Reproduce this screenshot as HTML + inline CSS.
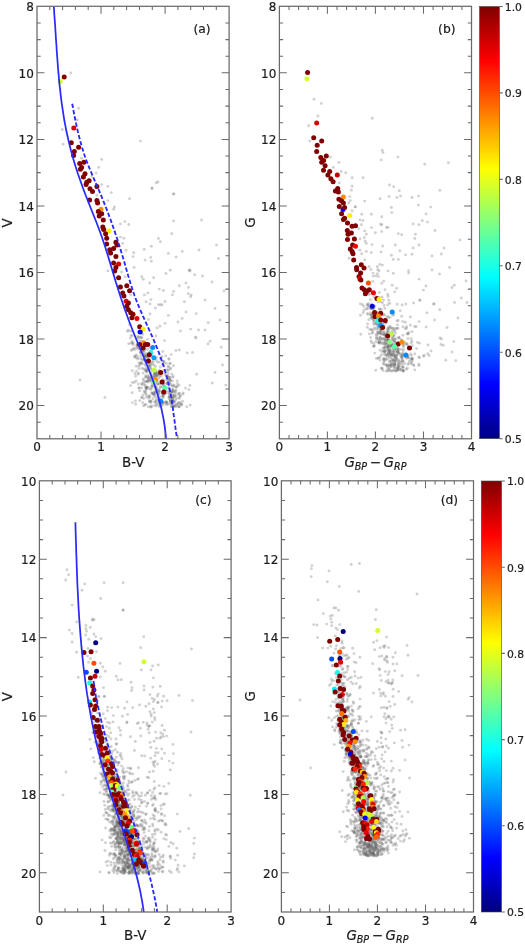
<!DOCTYPE html>
<html lang="en"><head><meta charset="utf-8"><title>Colour-magnitude diagrams</title>
<style>html,body{margin:0;padding:0;background:#fff}svg{display:block}text{font-family:"DejaVu Sans","Liberation Sans",sans-serif;stroke:#1c1c1c;stroke-width:.2px}</style></head><body>
<svg width="525" height="946" viewBox="0 0 525 946">
<rect width="525" height="946" fill="#fff"/>
<g id="panel-a">
<g fill="#6c6c6c" fill-opacity="0.31">
<circle cx="70.7" cy="73" r="1.45"/><circle cx="78.5" cy="108.2" r="1.45"/><circle cx="77.4" cy="120" r="1.45"/><circle cx="62.3" cy="129.5" r="1.45"/><circle cx="63.1" cy="144.2" r="1.45"/><circle cx="140.5" cy="141.1" r="1.45"/><circle cx="98.7" cy="167.4" r="1.45"/><circle cx="96" cy="173.1" r="1.45"/><circle cx="91.9" cy="176.1" r="1.45"/><circle cx="101.7" cy="184.6" r="1.45"/><circle cx="107.9" cy="186.4" r="1.45"/><circle cx="111.3" cy="192.6" r="1.45"/><circle cx="96.9" cy="195.3" r="1.45"/><circle cx="129.6" cy="198.7" r="1.45"/><circle cx="107.9" cy="200.6" r="1.45"/><circle cx="156.3" cy="182.7" r="1.45"/><circle cx="152" cy="188.5" r="1.45"/><circle cx="114.3" cy="207" r="1.45"/><circle cx="113.6" cy="209.3" r="1.45"/><circle cx="125" cy="221.6" r="1.45"/><circle cx="120.4" cy="223.9" r="1.45"/><circle cx="114.7" cy="231.4" r="1.45"/><circle cx="120.4" cy="237.1" r="1.45"/><circle cx="123.9" cy="238.3" r="1.45"/><circle cx="151.3" cy="246.3" r="1.45"/><circle cx="126.1" cy="250.2" r="1.45"/><circle cx="133.7" cy="252.7" r="1.45"/><circle cx="133" cy="256.6" r="1.45"/><circle cx="101.7" cy="159.4" r="1.45"/><circle cx="81.6" cy="158.3" r="1.45"/><circle cx="160.4" cy="241.8" r="1.45"/><circle cx="145.1" cy="260.1" r="1.45"/><circle cx="170.3" cy="270.2" r="1.45"/><circle cx="189" cy="270.2" r="1.45"/><circle cx="194.7" cy="274.7" r="1.45"/><circle cx="153.6" cy="277.7" r="1.45"/><circle cx="143.3" cy="279.3" r="1.45"/><circle cx="186" cy="283" r="1.45"/><circle cx="149.7" cy="283" r="1.45"/><circle cx="159.3" cy="289.1" r="1.45"/><circle cx="172.5" cy="294.9" r="1.45"/><circle cx="188.3" cy="293.7" r="1.45"/><circle cx="190.6" cy="296.7" r="1.45"/><circle cx="147.9" cy="293" r="1.45"/><circle cx="144.4" cy="294.9" r="1.45"/><circle cx="184.4" cy="301.7" r="1.45"/><circle cx="146" cy="301.7" r="1.45"/><circle cx="150.1" cy="304" r="1.45"/><circle cx="162" cy="304.7" r="1.45"/><circle cx="155.4" cy="307.9" r="1.45"/><circle cx="196.3" cy="313.6" r="1.45"/><circle cx="168.4" cy="315.4" r="1.45"/><circle cx="182.1" cy="318.4" r="1.45"/><circle cx="148.5" cy="319.5" r="1.45"/><circle cx="165" cy="323.4" r="1.45"/><circle cx="190.6" cy="329.1" r="1.45"/><circle cx="180.5" cy="331" r="1.45"/><circle cx="157" cy="328" r="1.45"/><circle cx="195.4" cy="337.1" r="1.45"/><circle cx="164.5" cy="340.6" r="1.45"/><circle cx="155.9" cy="336" r="1.45"/><circle cx="129.6" cy="324.6" r="1.45"/><circle cx="128.4" cy="330.3" r="1.45"/><circle cx="122.7" cy="243.4" r="1.45"/><circle cx="107.9" cy="270.9" r="1.45"/><circle cx="121.6" cy="272" r="1.45"/><circle cx="125" cy="276.6" r="1.45"/><circle cx="134.1" cy="267.4" r="1.45"/><circle cx="130.7" cy="294.9" r="1.45"/><circle cx="158" cy="182" r="1.45"/><circle cx="152" cy="188" r="1.45"/><circle cx="173.2" cy="194" r="1.45"/><circle cx="174" cy="194" r="1.45"/><circle cx="201.5" cy="220" r="1.45"/><circle cx="218.5" cy="258.5" r="1.45"/><circle cx="216.5" cy="245" r="1.45"/><circle cx="190" cy="270" r="1.45"/><circle cx="202.5" cy="276" r="1.45"/><circle cx="188.5" cy="287.5" r="1.45"/><circle cx="205" cy="300" r="1.45"/><circle cx="173.5" cy="291.5" r="1.45"/><circle cx="165" cy="301.5" r="1.45"/><circle cx="150" cy="314" r="1.45"/><circle cx="215" cy="308.5" r="1.45"/><circle cx="220" cy="320" r="1.45"/><circle cx="192.5" cy="352.5" r="1.45"/><circle cx="198.5" cy="330" r="1.45"/><circle cx="205" cy="330" r="1.45"/><circle cx="222.5" cy="365" r="1.45"/><circle cx="215" cy="372.5" r="1.45"/><circle cx="105" cy="397.5" r="1.45"/><circle cx="80" cy="380" r="1.45"/><circle cx="196" cy="338" r="1.45"/><circle cx="208" cy="344" r="1.45"/><circle cx="186" cy="312" r="1.45"/><circle cx="178" cy="322" r="1.45"/><circle cx="212" cy="282" r="1.45"/><circle cx="224" cy="291" r="1.45"/><circle cx="199" cy="250" r="1.45"/><circle cx="135.6" cy="376.3" r="1.45"/><circle cx="146" cy="377.2" r="1.45"/><circle cx="148.9" cy="379.9" r="1.45"/><circle cx="150.7" cy="380.2" r="1.45"/><circle cx="156.5" cy="387.4" r="1.45"/><circle cx="145.7" cy="365.6" r="1.45"/><circle cx="144.1" cy="345.2" r="1.45"/><circle cx="130.3" cy="338.1" r="1.45"/><circle cx="174" cy="406.1" r="1.45"/><circle cx="152.5" cy="386.5" r="1.45"/><circle cx="151.6" cy="352.7" r="1.45"/><circle cx="139.7" cy="340.9" r="1.45"/><circle cx="145.3" cy="355.9" r="1.45"/><circle cx="154.6" cy="377.1" r="1.45"/><circle cx="157.4" cy="375.5" r="1.45"/><circle cx="146.8" cy="388" r="1.45"/><circle cx="148.5" cy="379.4" r="1.45"/><circle cx="141.5" cy="363.6" r="1.45"/><circle cx="179.2" cy="406.9" r="1.45"/><circle cx="156.1" cy="391.8" r="1.45"/><circle cx="149.9" cy="366.5" r="1.45"/><circle cx="144.3" cy="342.5" r="1.45"/><circle cx="143" cy="395" r="1.45"/><circle cx="159.6" cy="371.8" r="1.45"/><circle cx="159.9" cy="404.9" r="1.45"/><circle cx="145.8" cy="357.7" r="1.45"/><circle cx="132.5" cy="402.6" r="1.45"/><circle cx="155.2" cy="372.6" r="1.45"/><circle cx="133.1" cy="342.9" r="1.45"/><circle cx="139" cy="362.9" r="1.45"/><circle cx="133.3" cy="344.7" r="1.45"/><circle cx="177.8" cy="394.6" r="1.45"/><circle cx="142.2" cy="348.5" r="1.45"/><circle cx="141.6" cy="341" r="1.45"/><circle cx="163" cy="396.7" r="1.45"/><circle cx="161.4" cy="376" r="1.45"/><circle cx="144.9" cy="356" r="1.45"/><circle cx="151.1" cy="388.2" r="1.45"/><circle cx="138.5" cy="348.3" r="1.45"/><circle cx="150.2" cy="362.9" r="1.45"/><circle cx="162.6" cy="405.6" r="1.45"/><circle cx="151.1" cy="401.3" r="1.45"/><circle cx="135.7" cy="357.8" r="1.45"/><circle cx="166.2" cy="388.1" r="1.45"/><circle cx="145.4" cy="346.4" r="1.45"/><circle cx="147.2" cy="362" r="1.45"/><circle cx="153.8" cy="395.4" r="1.45"/><circle cx="144.1" cy="342.9" r="1.45"/><circle cx="137.1" cy="345.1" r="1.45"/><circle cx="151.8" cy="385.7" r="1.45"/><circle cx="132.3" cy="370.7" r="1.45"/><circle cx="158.9" cy="378.4" r="1.45"/><circle cx="158.1" cy="384.1" r="1.45"/><circle cx="140.8" cy="352.4" r="1.45"/><circle cx="162.2" cy="402.5" r="1.45"/><circle cx="140.7" cy="355.9" r="1.45"/><circle cx="162.6" cy="393.6" r="1.45"/><circle cx="157.2" cy="404.6" r="1.45"/><circle cx="150.8" cy="401.1" r="1.45"/><circle cx="137.8" cy="346.8" r="1.45"/><circle cx="141.4" cy="337.5" r="1.45"/><circle cx="155" cy="391.7" r="1.45"/><circle cx="151.7" cy="361.8" r="1.45"/><circle cx="139.9" cy="364.8" r="1.45"/><circle cx="144.2" cy="354.5" r="1.45"/><circle cx="144.1" cy="359.4" r="1.45"/><circle cx="161.2" cy="383.2" r="1.45"/><circle cx="140.4" cy="363.8" r="1.45"/><circle cx="159.8" cy="402.9" r="1.45"/><circle cx="149.1" cy="362.9" r="1.45"/><circle cx="156.8" cy="375.9" r="1.45"/><circle cx="152.2" cy="370.5" r="1.45"/><circle cx="159.9" cy="383.9" r="1.45"/><circle cx="165.7" cy="401.6" r="1.45"/><circle cx="151.5" cy="406" r="1.45"/><circle cx="143.9" cy="384.7" r="1.45"/><circle cx="144.3" cy="350.9" r="1.45"/><circle cx="159.6" cy="402.6" r="1.45"/><circle cx="158.3" cy="391.4" r="1.45"/><circle cx="155.2" cy="387.7" r="1.45"/><circle cx="152.1" cy="378.3" r="1.45"/><circle cx="151.4" cy="407" r="1.45"/><circle cx="131.1" cy="343.2" r="1.45"/><circle cx="154.5" cy="402" r="1.45"/><circle cx="152.4" cy="393.5" r="1.45"/><circle cx="142.7" cy="402.8" r="1.45"/><circle cx="143.7" cy="369.3" r="1.45"/><circle cx="139.8" cy="400.6" r="1.45"/><circle cx="155.6" cy="373.9" r="1.45"/><circle cx="138.2" cy="384" r="1.45"/><circle cx="146.9" cy="387.1" r="1.45"/><circle cx="162.8" cy="386.1" r="1.45"/><circle cx="128.7" cy="343.8" r="1.45"/><circle cx="135.5" cy="401" r="1.45"/><circle cx="145.6" cy="393" r="1.45"/><circle cx="163.6" cy="384.5" r="1.45"/><circle cx="153.9" cy="375.5" r="1.45"/><circle cx="153.9" cy="394.2" r="1.45"/><circle cx="132.2" cy="335.8" r="1.45"/><circle cx="142.1" cy="359.6" r="1.45"/><circle cx="144.1" cy="391.3" r="1.45"/><circle cx="159.5" cy="403.1" r="1.45"/><circle cx="153.3" cy="361.7" r="1.45"/><circle cx="156.7" cy="390.2" r="1.45"/><circle cx="152.7" cy="357.1" r="1.45"/><circle cx="172.7" cy="389.1" r="1.45"/><circle cx="157.6" cy="375.6" r="1.45"/><circle cx="151.1" cy="389.5" r="1.45"/><circle cx="134.7" cy="356.7" r="1.45"/><circle cx="166.6" cy="402.8" r="1.45"/><circle cx="149.3" cy="401" r="1.45"/><circle cx="155.5" cy="366.6" r="1.45"/><circle cx="131.3" cy="350.5" r="1.45"/><circle cx="158.8" cy="399.4" r="1.45"/><circle cx="163.5" cy="392" r="1.45"/><circle cx="142.8" cy="353.9" r="1.45"/><circle cx="151.5" cy="376.2" r="1.45"/><circle cx="156.9" cy="373.7" r="1.45"/><circle cx="147.9" cy="387.1" r="1.45"/><circle cx="158.6" cy="398.9" r="1.45"/><circle cx="156.2" cy="406.1" r="1.45"/><circle cx="137.7" cy="336.2" r="1.45"/><circle cx="173.2" cy="400.7" r="1.45"/><circle cx="157.9" cy="383.8" r="1.45"/><circle cx="149.3" cy="366" r="1.45"/><circle cx="141.8" cy="350.5" r="1.45"/><circle cx="167.2" cy="376.5" r="1.45"/><circle cx="148.9" cy="360.2" r="1.45"/><circle cx="151.6" cy="351" r="1.45"/><circle cx="155.5" cy="375.9" r="1.45"/><circle cx="146.6" cy="387.4" r="1.45"/><circle cx="144.9" cy="405" r="1.45"/><circle cx="159.4" cy="390.5" r="1.45"/><circle cx="151.7" cy="354.8" r="1.45"/><circle cx="127.5" cy="331.3" r="1.45"/><circle cx="146.6" cy="354.9" r="1.45"/><circle cx="141.8" cy="363.1" r="1.45"/><circle cx="164.1" cy="380.7" r="1.45"/><circle cx="155.6" cy="386.5" r="1.45"/><circle cx="148.4" cy="396.4" r="1.45"/><circle cx="178.3" cy="402.4" r="1.45"/><circle cx="167.7" cy="392.6" r="1.45"/><circle cx="134.5" cy="349.8" r="1.45"/><circle cx="163.1" cy="402.5" r="1.45"/><circle cx="136.6" cy="371.1" r="1.45"/><circle cx="149.8" cy="396.7" r="1.45"/><circle cx="145.7" cy="404.3" r="1.45"/><circle cx="148" cy="357.3" r="1.45"/><circle cx="162.2" cy="392.6" r="1.45"/><circle cx="145" cy="392.4" r="1.45"/><circle cx="161.3" cy="358.1" r="1.45"/><circle cx="143.5" cy="405.9" r="1.45"/><circle cx="155.7" cy="381.8" r="1.45"/><circle cx="150.9" cy="402.5" r="1.45"/><circle cx="156.2" cy="399.8" r="1.45"/><circle cx="154.8" cy="375.6" r="1.45"/><circle cx="155.2" cy="382.6" r="1.45"/><circle cx="130.9" cy="335.6" r="1.45"/><circle cx="173.3" cy="397.3" r="1.45"/><circle cx="149.1" cy="354.3" r="1.45"/><circle cx="150.6" cy="368" r="1.45"/><circle cx="140.2" cy="351.8" r="1.45"/><circle cx="150.9" cy="380.5" r="1.45"/><circle cx="139.6" cy="390.8" r="1.45"/><circle cx="135.6" cy="404.3" r="1.45"/><circle cx="141.3" cy="344.6" r="1.45"/><circle cx="140.9" cy="358.8" r="1.45"/><circle cx="155.6" cy="393" r="1.45"/><circle cx="139" cy="387.9" r="1.45"/><circle cx="152" cy="383.2" r="1.45"/><circle cx="138.8" cy="366.2" r="1.45"/><circle cx="171.7" cy="402.1" r="1.45"/><circle cx="156.3" cy="357.6" r="1.45"/><circle cx="136.2" cy="381" r="1.45"/><circle cx="157.7" cy="384" r="1.45"/><circle cx="162.9" cy="379.6" r="1.45"/><circle cx="177.4" cy="385.9" r="1.45"/><circle cx="157.3" cy="380.5" r="1.45"/><circle cx="154.4" cy="372.8" r="1.45"/><circle cx="143.2" cy="378.9" r="1.45"/><circle cx="166.5" cy="390.9" r="1.45"/><circle cx="155.5" cy="373.7" r="1.45"/><circle cx="166.6" cy="404.9" r="1.45"/><circle cx="149.8" cy="377.7" r="1.45"/><circle cx="132.3" cy="349.5" r="1.45"/><circle cx="166.3" cy="402.1" r="1.45"/><circle cx="150.7" cy="377.9" r="1.45"/><circle cx="160.4" cy="386.7" r="1.45"/><circle cx="171" cy="403.3" r="1.45"/><circle cx="142.8" cy="334.4" r="1.45"/><circle cx="146.8" cy="356.3" r="1.45"/><circle cx="160.3" cy="367" r="1.45"/><circle cx="147.6" cy="369.5" r="1.45"/><circle cx="154" cy="393.1" r="1.45"/><circle cx="137.8" cy="349" r="1.45"/><circle cx="145.2" cy="356.6" r="1.45"/><circle cx="146.4" cy="381.4" r="1.45"/><circle cx="154.5" cy="373.7" r="1.45"/><circle cx="156.8" cy="381.3" r="1.45"/><circle cx="160.4" cy="387.5" r="1.45"/><circle cx="138.9" cy="387.9" r="1.45"/><circle cx="152.1" cy="386.3" r="1.45"/><circle cx="160.2" cy="399.8" r="1.45"/><circle cx="173.2" cy="397.4" r="1.45"/><circle cx="155.7" cy="402.2" r="1.45"/><circle cx="167.1" cy="403.2" r="1.45"/><circle cx="160.3" cy="358.5" r="1.45"/><circle cx="142.8" cy="350.2" r="1.45"/><circle cx="146.2" cy="360.3" r="1.45"/><circle cx="136.7" cy="346" r="1.45"/><circle cx="143.5" cy="398.5" r="1.45"/><circle cx="147.6" cy="349.4" r="1.45"/><circle cx="150.8" cy="372.9" r="1.45"/><circle cx="144.5" cy="356.9" r="1.45"/><circle cx="176.1" cy="390.4" r="1.45"/><circle cx="133.7" cy="348.2" r="1.45"/><circle cx="153.8" cy="379.8" r="1.45"/><circle cx="145.8" cy="390.6" r="1.45"/><circle cx="148" cy="355.8" r="1.45"/><circle cx="138.6" cy="337.3" r="1.45"/><circle cx="143.4" cy="382.7" r="1.45"/><circle cx="142.7" cy="351.6" r="1.45"/><circle cx="148.6" cy="355.4" r="1.45"/><circle cx="178.3" cy="406.5" r="1.45"/><circle cx="162.3" cy="403.4" r="1.45"/><circle cx="161.6" cy="404.6" r="1.45"/><circle cx="153.2" cy="377" r="1.45"/><circle cx="145.6" cy="377.3" r="1.45"/><circle cx="143.5" cy="380.4" r="1.45"/><circle cx="138.2" cy="332" r="1.45"/><circle cx="159.7" cy="391.5" r="1.45"/><circle cx="148.2" cy="376.4" r="1.45"/><circle cx="152.1" cy="393.6" r="1.45"/><circle cx="146.6" cy="353.5" r="1.45"/><circle cx="170.7" cy="380.2" r="1.45"/><circle cx="159.7" cy="396.9" r="1.45"/><circle cx="164.6" cy="391.7" r="1.45"/><circle cx="143.1" cy="373.1" r="1.45"/><circle cx="130.6" cy="385.6" r="1.45"/><circle cx="157.2" cy="397.1" r="1.45"/><circle cx="157.3" cy="362" r="1.45"/><circle cx="149.5" cy="395.7" r="1.45"/><circle cx="141.5" cy="397.6" r="1.45"/><circle cx="170.2" cy="401" r="1.45"/><circle cx="158.1" cy="391.1" r="1.45"/><circle cx="138.4" cy="373.1" r="1.45"/><circle cx="164.3" cy="392.7" r="1.45"/><circle cx="155.8" cy="377.4" r="1.45"/><circle cx="130.8" cy="331.3" r="1.45"/><circle cx="165.1" cy="387" r="1.45"/><circle cx="156.2" cy="359.7" r="1.45"/><circle cx="146" cy="368.2" r="1.45"/><circle cx="146.1" cy="389.1" r="1.45"/><circle cx="147" cy="372" r="1.45"/><circle cx="150.3" cy="407" r="1.45"/><circle cx="146.2" cy="394.8" r="1.45"/><circle cx="173.5" cy="406" r="1.45"/><circle cx="158.8" cy="393.5" r="1.45"/><circle cx="145.7" cy="361.8" r="1.45"/><circle cx="146.7" cy="356.4" r="1.45"/><circle cx="155.4" cy="371" r="1.45"/><circle cx="163.4" cy="402.3" r="1.45"/><circle cx="132.4" cy="382.6" r="1.45"/><circle cx="153.4" cy="383.7" r="1.45"/><circle cx="148.3" cy="406.8" r="1.45"/><circle cx="132.2" cy="343.3" r="1.45"/><circle cx="155.1" cy="385.5" r="1.45"/><circle cx="156.5" cy="403.6" r="1.45"/><circle cx="140.2" cy="353" r="1.45"/><circle cx="154" cy="379.2" r="1.45"/><circle cx="174.5" cy="386.3" r="1.45"/><circle cx="158.5" cy="374.2" r="1.45"/><circle cx="147.3" cy="381.1" r="1.45"/><circle cx="144.4" cy="364.2" r="1.45"/><circle cx="149.2" cy="388.8" r="1.45"/><circle cx="154" cy="392.3" r="1.45"/><circle cx="153.9" cy="365" r="1.45"/><circle cx="138.3" cy="338.2" r="1.45"/><circle cx="144.1" cy="352.6" r="1.45"/><circle cx="149.4" cy="401.9" r="1.45"/><circle cx="183.1" cy="394.1" r="1.45"/><circle cx="168.7" cy="404.3" r="1.45"/><circle cx="144.9" cy="342.9" r="1.45"/><circle cx="148.1" cy="378" r="1.45"/><circle cx="160.3" cy="405.7" r="1.45"/><circle cx="171.4" cy="403.9" r="1.45"/><circle cx="132.2" cy="392.7" r="1.45"/><circle cx="163.2" cy="397.7" r="1.45"/><circle cx="164" cy="385.8" r="1.45"/><circle cx="159.8" cy="376.5" r="1.45"/><circle cx="153.4" cy="357.2" r="1.45"/><circle cx="144.9" cy="349.2" r="1.45"/><circle cx="147.9" cy="375.7" r="1.45"/><circle cx="141" cy="362.3" r="1.45"/><circle cx="141.8" cy="384.6" r="1.45"/><circle cx="160.7" cy="381.4" r="1.45"/><circle cx="175.6" cy="406.9" r="1.45"/><circle cx="143.7" cy="360.3" r="1.45"/><circle cx="150.2" cy="348" r="1.45"/><circle cx="145.9" cy="387.1" r="1.45"/><circle cx="148.7" cy="369.8" r="1.45"/><circle cx="167" cy="383.5" r="1.45"/><circle cx="145.3" cy="385.1" r="1.45"/><circle cx="137.1" cy="355.9" r="1.45"/><circle cx="162.5" cy="361.2" r="1.45"/><circle cx="156.1" cy="401" r="1.45"/><circle cx="141.6" cy="337.7" r="1.45"/><circle cx="154.2" cy="374.5" r="1.45"/><circle cx="164" cy="387" r="1.45"/><circle cx="144.1" cy="342.8" r="1.45"/><circle cx="137.4" cy="344.6" r="1.45"/><circle cx="145.7" cy="387.5" r="1.45"/><circle cx="145.5" cy="370.8" r="1.45"/><circle cx="150.6" cy="368.7" r="1.45"/><circle cx="159" cy="393.9" r="1.45"/><circle cx="140.3" cy="348.7" r="1.45"/><circle cx="146.5" cy="397.3" r="1.45"/><circle cx="138.1" cy="358" r="1.45"/><circle cx="151.1" cy="374.4" r="1.45"/><circle cx="164.2" cy="370.5" r="1.45"/><circle cx="163.6" cy="388.8" r="1.45"/><circle cx="153.6" cy="382.5" r="1.45"/><circle cx="165.6" cy="393.9" r="1.45"/><circle cx="146.7" cy="370.6" r="1.45"/><circle cx="142.8" cy="346" r="1.45"/><circle cx="138.8" cy="344.2" r="1.45"/><circle cx="141.7" cy="383.5" r="1.45"/><circle cx="149.7" cy="365.2" r="1.45"/><circle cx="163.2" cy="395.5" r="1.45"/><circle cx="158.8" cy="389.2" r="1.45"/><circle cx="137.3" cy="344" r="1.45"/><circle cx="169.9" cy="391.1" r="1.45"/><circle cx="152.4" cy="364" r="1.45"/><circle cx="163.5" cy="392.8" r="1.45"/><circle cx="159.2" cy="370.3" r="1.45"/><circle cx="163.4" cy="383.8" r="1.45"/><circle cx="179.3" cy="403" r="1.45"/><circle cx="145.7" cy="375.4" r="1.45"/><circle cx="155.1" cy="397" r="1.45"/><circle cx="157.6" cy="372.7" r="1.45"/><circle cx="165.3" cy="403.8" r="1.45"/><circle cx="146.9" cy="370" r="1.45"/><circle cx="145.5" cy="370.3" r="1.45"/><circle cx="156.8" cy="371.9" r="1.45"/><circle cx="134.6" cy="356.4" r="1.45"/><circle cx="148.2" cy="382" r="1.45"/><circle cx="152.8" cy="398.8" r="1.45"/><circle cx="155.1" cy="394.6" r="1.45"/><circle cx="158.4" cy="401.1" r="1.45"/><circle cx="155.2" cy="380.4" r="1.45"/><circle cx="134.3" cy="382.2" r="1.45"/><circle cx="146.4" cy="388.6" r="1.45"/><circle cx="168.7" cy="397.1" r="1.45"/><circle cx="162.2" cy="396.2" r="1.45"/><circle cx="148.7" cy="344.3" r="1.45"/><circle cx="166.8" cy="402" r="1.45"/><circle cx="138.4" cy="344.4" r="1.45"/><circle cx="153.3" cy="393.9" r="1.45"/><circle cx="156" cy="388.5" r="1.45"/><circle cx="163.8" cy="395" r="1.45"/><circle cx="154.4" cy="380.8" r="1.45"/><circle cx="142.4" cy="368.2" r="1.45"/><circle cx="154.4" cy="405.4" r="1.45"/><circle cx="145.4" cy="381.8" r="1.45"/><circle cx="151.6" cy="392.6" r="1.45"/><circle cx="135" cy="373.5" r="1.45"/><circle cx="148.9" cy="398.2" r="1.45"/><circle cx="142" cy="397.2" r="1.45"/><circle cx="176.4" cy="398.6" r="1.45"/><circle cx="141.5" cy="388" r="1.45"/><circle cx="150" cy="381" r="1.45"/><circle cx="138.2" cy="374.2" r="1.45"/><circle cx="159.5" cy="374.2" r="1.45"/><circle cx="173" cy="406.6" r="1.45"/><circle cx="153.2" cy="371" r="1.45"/><circle cx="156.4" cy="374.5" r="1.45"/><circle cx="150.9" cy="364.7" r="1.45"/><circle cx="148.5" cy="366" r="1.45"/><circle cx="135.8" cy="348.1" r="1.45"/><circle cx="135.9" cy="354.9" r="1.45"/><circle cx="132.1" cy="341.3" r="1.45"/><circle cx="162.5" cy="402.5" r="1.45"/><circle cx="140.1" cy="337.1" r="1.45"/><circle cx="149" cy="358.4" r="1.45"/><circle cx="145" cy="360" r="1.45"/><circle cx="137.6" cy="359" r="1.45"/><circle cx="144.3" cy="355.4" r="1.45"/><circle cx="162.8" cy="394.6" r="1.45"/><circle cx="136.3" cy="366.2" r="1.45"/><circle cx="148.5" cy="378.1" r="1.45"/><circle cx="159.3" cy="362.1" r="1.45"/><circle cx="139.2" cy="368.6" r="1.45"/><circle cx="163.3" cy="382.4" r="1.45"/><circle cx="144.3" cy="358.7" r="1.45"/><circle cx="147.6" cy="339.4" r="1.45"/><circle cx="146.5" cy="371.7" r="1.45"/><circle cx="147.2" cy="381.2" r="1.45"/><circle cx="159.2" cy="406.5" r="1.45"/><circle cx="156" cy="389" r="1.45"/><circle cx="153.9" cy="377.7" r="1.45"/><circle cx="169.5" cy="383.1" r="1.45"/><circle cx="179.5" cy="393.3" r="1.45"/><circle cx="166.7" cy="370.6" r="1.45"/><circle cx="170.3" cy="377.1" r="1.45"/><circle cx="180.5" cy="402.8" r="1.45"/><circle cx="171.6" cy="406.8" r="1.45"/><circle cx="169.1" cy="377.5" r="1.45"/><circle cx="170.2" cy="399.4" r="1.45"/><circle cx="162.8" cy="351.5" r="1.45"/><circle cx="182.6" cy="401.2" r="1.45"/><circle cx="162.7" cy="364.4" r="1.45"/><circle cx="173.4" cy="365.8" r="1.45"/><circle cx="185.5" cy="388.1" r="1.45"/><circle cx="171.6" cy="392.5" r="1.45"/><circle cx="174.1" cy="402.4" r="1.45"/><circle cx="179" cy="385.2" r="1.45"/><circle cx="181.9" cy="404.3" r="1.45"/><circle cx="171.7" cy="374.1" r="1.45"/><circle cx="172" cy="390.8" r="1.45"/><circle cx="170.3" cy="401.5" r="1.45"/><circle cx="166.5" cy="380" r="1.45"/><circle cx="168.1" cy="379.7" r="1.45"/><circle cx="168.6" cy="387.5" r="1.45"/><circle cx="175.6" cy="396.4" r="1.45"/><circle cx="168.4" cy="366.6" r="1.45"/><circle cx="175.5" cy="406" r="1.45"/><circle cx="170.3" cy="401.4" r="1.45"/><circle cx="167.1" cy="383.3" r="1.45"/><circle cx="169.6" cy="397.2" r="1.45"/><circle cx="176.6" cy="387.1" r="1.45"/><circle cx="171.2" cy="354.6" r="1.45"/><circle cx="164.8" cy="374" r="1.45"/><circle cx="170" cy="393.7" r="1.45"/><circle cx="174.7" cy="390.6" r="1.45"/><circle cx="169.2" cy="379.3" r="1.45"/><circle cx="174.9" cy="395.6" r="1.45"/><circle cx="168.5" cy="377" r="1.45"/><circle cx="177.2" cy="380.9" r="1.45"/><circle cx="181.4" cy="405.3" r="1.45"/><circle cx="170.3" cy="381.1" r="1.45"/><circle cx="173" cy="401.3" r="1.45"/><circle cx="163.8" cy="365.6" r="1.45"/><circle cx="169.8" cy="396" r="1.45"/><circle cx="170.9" cy="384.5" r="1.45"/><circle cx="172.4" cy="401.7" r="1.45"/><circle cx="166.2" cy="375.2" r="1.45"/><circle cx="168.5" cy="370.6" r="1.45"/><circle cx="166.3" cy="363.5" r="1.45"/><circle cx="178.2" cy="404.5" r="1.45"/><circle cx="172.4" cy="394.9" r="1.45"/><circle cx="172.4" cy="399.3" r="1.45"/><circle cx="172.3" cy="381.1" r="1.45"/><circle cx="174" cy="385" r="1.45"/><circle cx="169.5" cy="396.8" r="1.45"/><circle cx="173.1" cy="406.4" r="1.45"/><circle cx="178.8" cy="393.4" r="1.45"/><circle cx="161.8" cy="356.4" r="1.45"/><circle cx="174.4" cy="395" r="1.45"/><circle cx="168.3" cy="366.6" r="1.45"/><circle cx="175.6" cy="400" r="1.45"/><circle cx="172.9" cy="401.3" r="1.45"/><circle cx="172" cy="399.2" r="1.45"/><circle cx="176.7" cy="403.9" r="1.45"/><circle cx="169.4" cy="388.9" r="1.45"/><circle cx="167.7" cy="369.5" r="1.45"/><circle cx="188.9" cy="389.6" r="1.45"/><circle cx="171.4" cy="397.4" r="1.45"/><circle cx="174.5" cy="405.3" r="1.45"/><circle cx="169.3" cy="394.1" r="1.45"/><circle cx="167.6" cy="376.3" r="1.45"/><circle cx="170.1" cy="392.1" r="1.45"/><circle cx="176.5" cy="404.7" r="1.45"/><circle cx="169.7" cy="382.6" r="1.45"/><circle cx="171.3" cy="406.2" r="1.45"/><circle cx="170.3" cy="369" r="1.45"/><circle cx="173.1" cy="391.5" r="1.45"/><circle cx="169.3" cy="391.5" r="1.45"/><circle cx="186.8" cy="406.8" r="1.45"/><circle cx="172.6" cy="401" r="1.45"/><circle cx="171.9" cy="401.3" r="1.45"/><circle cx="169.6" cy="378.8" r="1.45"/><circle cx="171.2" cy="392" r="1.45"/><circle cx="173.3" cy="401.5" r="1.45"/><circle cx="169.7" cy="363.8" r="1.45"/><circle cx="168.8" cy="358.6" r="1.45"/><circle cx="190.2" cy="405.1" r="1.45"/><circle cx="172.4" cy="395.3" r="1.45"/><circle cx="179.5" cy="398.2" r="1.45"/><circle cx="177.5" cy="383.6" r="1.45"/><circle cx="165.7" cy="355.9" r="1.45"/><circle cx="168" cy="373.5" r="1.45"/><circle cx="167" cy="383.8" r="1.45"/><circle cx="172" cy="391.8" r="1.45"/><circle cx="172.9" cy="377.4" r="1.45"/><circle cx="173.1" cy="391.8" r="1.45"/><circle cx="169" cy="359.4" r="1.45"/><circle cx="180.2" cy="395.8" r="1.45"/><circle cx="183.1" cy="393" r="1.45"/><circle cx="176" cy="387.6" r="1.45"/><circle cx="174.2" cy="396.5" r="1.45"/><circle cx="169.2" cy="398.9" r="1.45"/><circle cx="179.1" cy="406.8" r="1.45"/><circle cx="174.4" cy="401.7" r="1.45"/><circle cx="172.8" cy="386" r="1.45"/><circle cx="175.4" cy="391.7" r="1.45"/><circle cx="172.7" cy="390" r="1.45"/><circle cx="172.1" cy="385.9" r="1.45"/><circle cx="164" cy="361.5" r="1.45"/><circle cx="178.8" cy="397.8" r="1.45"/><circle cx="175.2" cy="392.9" r="1.45"/><circle cx="172.5" cy="398.7" r="1.45"/><circle cx="170.3" cy="363.2" r="1.45"/><circle cx="170.7" cy="368.1" r="1.45"/><circle cx="169.2" cy="384.3" r="1.45"/><circle cx="163.3" cy="361.2" r="1.45"/><circle cx="173.1" cy="376" r="1.45"/><circle cx="169.7" cy="379.7" r="1.45"/><circle cx="164.1" cy="363" r="1.45"/><circle cx="180.9" cy="404.2" r="1.45"/><circle cx="172.2" cy="402.7" r="1.45"/><circle cx="191.2" cy="295.1" r="1.45"/><circle cx="176.1" cy="257.1" r="1.45"/><circle cx="208.2" cy="322.7" r="1.45"/><circle cx="171.7" cy="233.7" r="1.45"/><circle cx="158.4" cy="238.5" r="1.45"/><circle cx="180.6" cy="395.7" r="1.45"/><circle cx="151.3" cy="261.3" r="1.45"/><circle cx="141.7" cy="276.7" r="1.45"/><circle cx="225.8" cy="385.1" r="1.45"/><circle cx="163.4" cy="290.5" r="1.45"/><circle cx="159.9" cy="326.2" r="1.45"/><circle cx="173.5" cy="220.9" r="1.45"/><circle cx="166" cy="273.5" r="1.45"/><circle cx="160.4" cy="304.8" r="1.45"/><circle cx="189.9" cy="271.1" r="1.45"/><circle cx="189.9" cy="385.4" r="1.45"/><circle cx="196.7" cy="374.2" r="1.45"/><circle cx="158.4" cy="304.8" r="1.45"/><circle cx="168.4" cy="253.4" r="1.45"/><circle cx="182.2" cy="251.4" r="1.45"/><circle cx="128.8" cy="224.5" r="1.45"/><circle cx="187.2" cy="352.9" r="1.45"/><circle cx="176" cy="350.5" r="1.45"/><circle cx="221.2" cy="347.2" r="1.45"/><circle cx="150.9" cy="299.6" r="1.45"/><circle cx="150.7" cy="257.4" r="1.45"/><circle cx="179.3" cy="350" r="1.45"/><circle cx="144.2" cy="249.4" r="1.45"/><circle cx="210.1" cy="341.3" r="1.45"/><circle cx="179.4" cy="285.8" r="1.45"/><circle cx="212.3" cy="383" r="1.45"/>
</g>
<g>
<circle cx="60.2" cy="81.5" r="2.5" fill="#d1ff2e"/><circle cx="64.2" cy="77.1" r="2.5" fill="#800000"/><circle cx="73.8" cy="128" r="2.5" fill="#db0000"/><circle cx="71.3" cy="142.7" r="2.5" fill="#800000"/><circle cx="78.6" cy="147.3" r="2.5" fill="#800000"/><circle cx="74.3" cy="151.4" r="2.5" fill="#800000"/><circle cx="73.6" cy="155.5" r="2.5" fill="#800000"/><circle cx="83.9" cy="162.2" r="2.5" fill="#800000"/><circle cx="79.7" cy="163.5" r="2.5" fill="#800000"/><circle cx="81.6" cy="167.4" r="2.5" fill="#800000"/><circle cx="80.4" cy="169.3" r="2.5" fill="#800000"/><circle cx="85" cy="173.8" r="2.5" fill="#800000"/><circle cx="83.4" cy="177" r="2.5" fill="#800000"/><circle cx="89.1" cy="180.7" r="2.5" fill="#800000"/><circle cx="86.8" cy="182.3" r="2.5" fill="#800000"/><circle cx="86.1" cy="184.6" r="2.5" fill="#800000"/><circle cx="96.9" cy="186.4" r="2.5" fill="#800000"/><circle cx="90" cy="188.7" r="2.5" fill="#800000"/><circle cx="92.5" cy="191.4" r="2.5" fill="#800000"/><circle cx="89.6" cy="200.1" r="2.5" fill="#800000"/><circle cx="96.9" cy="200.6" r="2.5" fill="#800000"/><circle cx="97.6" cy="202.9" r="2.5" fill="#800000"/><circle cx="101" cy="209.3" r="2.5" fill="#ff8a00"/><circle cx="98.3" cy="211.5" r="2.5" fill="#800000"/><circle cx="101.7" cy="213.8" r="2.5" fill="#800000"/><circle cx="99.2" cy="216.1" r="2.5" fill="#800000"/><circle cx="103.3" cy="220" r="2.5" fill="#800000"/><circle cx="102.8" cy="226.9" r="2.5" fill="#800000"/><circle cx="103.7" cy="229.6" r="2.5" fill="#800000"/><circle cx="109" cy="231" r="2.5" fill="#fff000"/><circle cx="105.6" cy="233.7" r="2.5" fill="#800000"/><circle cx="106.7" cy="238.3" r="2.5" fill="#800000"/><circle cx="115.9" cy="242.2" r="2.5" fill="#800000"/><circle cx="106.7" cy="244" r="2.5" fill="#800000"/><circle cx="117" cy="245.1" r="2.5" fill="#800000"/><circle cx="113.6" cy="248.6" r="2.5" fill="#800000"/><circle cx="109.7" cy="249.7" r="2.5" fill="#800000"/><circle cx="110.6" cy="253.1" r="2.5" fill="#800000"/><circle cx="115.9" cy="256.6" r="2.5" fill="#800000"/><circle cx="113.6" cy="262.9" r="2.5" fill="#800000"/><circle cx="118.6" cy="264" r="2.5" fill="#db0000"/><circle cx="115.9" cy="267.4" r="2.5" fill="#800000"/><circle cx="114.7" cy="270.9" r="2.5" fill="#800000"/><circle cx="118.6" cy="277.7" r="2.5" fill="#800000"/><circle cx="120.4" cy="286.9" r="2.5" fill="#800000"/><circle cx="126.8" cy="285.7" r="2.5" fill="#800000"/><circle cx="129.6" cy="290.7" r="2.5" fill="#800000"/><circle cx="122.7" cy="293" r="2.5" fill="#800000"/><circle cx="123.9" cy="296" r="2.5" fill="#800000"/><circle cx="126.1" cy="301.3" r="2.5" fill="#db0000"/><circle cx="128.4" cy="302.9" r="2.5" fill="#800000"/><circle cx="126.8" cy="306.3" r="2.5" fill="#800000"/><circle cx="128.4" cy="309.7" r="2.5" fill="#800000"/><circle cx="130.7" cy="312.7" r="2.5" fill="#800000"/><circle cx="133" cy="314.3" r="2.5" fill="#800000"/><circle cx="131.9" cy="317.7" r="2.5" fill="#800000"/><circle cx="136.9" cy="318.4" r="2.5" fill="#e60000"/><circle cx="139.7" cy="326.8" r="2.5" fill="#800000"/><circle cx="143.1" cy="329.1" r="2.5" fill="#fff000"/><circle cx="140.2" cy="331.9" r="2.5" fill="#0000fa"/><circle cx="143.8" cy="342.8" r="2.5" fill="#ff8a00"/><circle cx="139.7" cy="344.4" r="2.5" fill="#800000"/><circle cx="145.4" cy="344.4" r="2.5" fill="#800000"/><circle cx="147.7" cy="344.4" r="2.5" fill="#800000"/><circle cx="143.1" cy="347.9" r="2.5" fill="#800000"/><circle cx="152.7" cy="347.4" r="2.5" fill="#008aff"/><circle cx="150.7" cy="352.4" r="2.5" fill="#19ffe6"/><circle cx="149.3" cy="354.7" r="2.5" fill="#800000"/><circle cx="153.9" cy="357.7" r="2.5" fill="#009eff"/><circle cx="148.4" cy="361.1" r="2.5" fill="#800000"/><circle cx="154.1" cy="370" r="2.5" fill="#bdff42"/><circle cx="160.7" cy="372.5" r="2.5" fill="#800000"/><circle cx="155.3" cy="379.2" r="2.5" fill="#ff8a00"/><circle cx="153.9" cy="382.1" r="2.5" fill="#80ff80"/><circle cx="162.1" cy="382.1" r="2.5" fill="#800000"/><circle cx="164.9" cy="387.9" r="2.5" fill="#57ffa8"/><circle cx="163.7" cy="392" r="2.5" fill="#800000"/><circle cx="160.7" cy="401.1" r="2.5" fill="#008aff"/>
</g>
<path d="M53.8 6.3 L54.1 10.3 L54.3 14.3 L54.6 18.3 L54.9 22.3 L55.2 26.3 L55.4 30.3 L55.7 34.3 L55.9 38.3 L56.2 42.3 L56.5 46.3 L56.7 50.3 L57 54.3 L57.3 58.3 L57.6 62.3 L57.9 66.3 L58.2 70.3 L58.6 74.3 L58.9 78.3 L59.3 82.3 L59.7 86.3 L60.2 90.3 L60.6 94.3 L61.1 98.3 L61.6 102.3 L62.2 106.3 L62.8 110.3 L63.4 114.3 L64 118.3 L64.7 122.3 L65.5 126.3 L66.2 130.3 L67.1 134.3 L68 138.3 L68.9 142.3 L69.9 146.3 L70.9 150.3 L72 154.3 L73.1 158.3 L74.3 162.3 L75.5 166.3 L76.8 170.3 L78.1 174.3 L79.5 178.3 L80.9 182.3 L82.3 186.3 L83.8 190.3 L85.3 194.3 L86.9 198.3 L88.4 202.3 L90 206.3 L91.6 210.3 L93.2 214.3 L94.8 218.3 L96.4 222.3 L97.9 226.3 L99.4 230.3 L100.9 234.3 L102.3 238.3 L103.6 242.3 L105 246.3 L106.2 250.3 L107.5 254.3 L108.7 258.3 L109.9 262.3 L111.1 266.3 L112.3 270.3 L113.5 274.3 L114.7 278.3 L115.9 282.3 L117.2 286.3 L118.4 290.3 L119.7 294.3 L121 298.3 L122.4 302.3 L123.7 306.3 L125.1 310.3 L126.6 314.3 L128 318.3 L129.5 322.3 L131.1 326.3 L132.6 330.3 L134.2 334.3 L135.9 338.3 L137.5 342.3 L139.2 346.3 L140.9 350.3 L142.5 354.3 L144.2 358.3 L145.9 362.3 L147.5 366.3 L149.1 370.3 L150.6 374.3 L152.1 378.3 L153.6 382.3 L155 386.3 L156.3 390.3 L157.6 394.3 L158.7 398.3 L159.8 402.3 L160.8 406.3 L161.8 410.3 L162.6 414.3 L163.4 418.3 L164.1 422.3 L164.7 426.3 L165.2 430.3 L165.7 434.3 L166 438.3 L166.1 438.8" fill="none" stroke="#2a2aff" stroke-width="1.75" stroke-linejoin="round"/>
<path d="M72.2 103.7 L73 107.7 L73.7 111.7 L74.5 115.7 L75.3 119.7 L76.1 123.7 L77 127.7 L77.9 131.7 L78.9 135.7 L79.9 139.7 L81 143.7 L82.1 147.7 L83.4 151.7 L84.7 155.7 L86.1 159.7 L87.6 163.7 L89.2 167.7 L90.9 171.7 L92.6 175.7 L94.3 179.7 L96 183.7 L97.8 187.7 L99.5 191.7 L101.2 195.7 L102.8 199.7 L104.4 203.7 L106 207.7 L107.6 211.7 L109.1 215.7 L110.6 219.7 L112 223.7 L113.4 227.7 L114.8 231.7 L116.1 235.7 L117.5 239.7 L118.7 243.7 L120 247.7 L121.2 251.7 L122.4 255.7 L123.6 259.7 L124.8 263.7 L125.9 267.7 L127.1 271.7 L128.2 275.7 L129.4 279.7 L130.6 283.7 L131.9 287.7 L133.2 291.7 L134.6 295.7 L136.1 299.7 L137.7 303.7 L139.3 307.7 L141 311.7 L142.8 315.7 L144.6 319.7 L146.4 323.7 L148.2 327.7 L150 331.7 L151.8 335.7 L153.6 339.7 L155.3 343.7 L156.9 347.7 L158.5 351.7 L160 355.7 L161.4 359.7 L162.8 363.7 L164.1 367.7 L165.3 371.7 L166.4 375.7 L167.5 379.7 L168.4 383.7 L169.3 387.7 L170.1 391.7 L170.9 395.7 L171.6 399.7 L172.2 403.7 L172.8 407.7 L173.3 411.7 L173.8 415.7 L174.4 419.7 L174.9 423.7 L175.4 427.7 L176 431.7 L176.6 435.7 L177 438.8" fill="none" stroke="#2a2aff" stroke-width="1.85" stroke-linejoin="round" stroke-dasharray="4.3 2.1"/>
<path d="M49.8 438.8v-3.7M49.8 6.3v3.7M62.6 438.8v-3.7M62.6 6.3v3.7M75.4 438.8v-3.7M75.4 6.3v3.7M88.2 438.8v-3.7M88.2 6.3v3.7M101 438.8v-7.4M101 6.3v7.4M113.8 438.8v-3.7M113.8 6.3v3.7M126.6 438.8v-3.7M126.6 6.3v3.7M139.5 438.8v-3.7M139.5 6.3v3.7M152.3 438.8v-3.7M152.3 6.3v3.7M165.1 438.8v-7.4M165.1 6.3v7.4M177.9 438.8v-3.7M177.9 6.3v3.7M190.7 438.8v-3.7M190.7 6.3v3.7M203.5 438.8v-3.7M203.5 6.3v3.7M216.3 438.8v-3.7M216.3 6.3v3.7M37 22.9h3.7M229.1 22.9h-3.7M37 39.6h3.7M229.1 39.6h-3.7M37 56.2h3.7M229.1 56.2h-3.7M37 72.8h7.4M229.1 72.8h-7.4M37 89.5h3.7M229.1 89.5h-3.7M37 106.1h3.7M229.1 106.1h-3.7M37 122.7h3.7M229.1 122.7h-3.7M37 139.4h7.4M229.1 139.4h-7.4M37 156h3.7M229.1 156h-3.7M37 172.6h3.7M229.1 172.6h-3.7M37 189.3h3.7M229.1 189.3h-3.7M37 205.9h7.4M229.1 205.9h-7.4M37 222.5h3.7M229.1 222.5h-3.7M37 239.2h3.7M229.1 239.2h-3.7M37 255.8h3.7M229.1 255.8h-3.7M37 272.5h7.4M229.1 272.5h-7.4M37 289.1h3.7M229.1 289.1h-3.7M37 305.7h3.7M229.1 305.7h-3.7M37 322.4h3.7M229.1 322.4h-3.7M37 339h7.4M229.1 339h-7.4M37 355.6h3.7M229.1 355.6h-3.7M37 372.3h3.7M229.1 372.3h-3.7M37 388.9h3.7M229.1 388.9h-3.7M37 405.5h7.4M229.1 405.5h-7.4M37 422.2h3.7M229.1 422.2h-3.7" stroke="#6a6a6a" stroke-width="1.05" fill="none"/>
<rect x="37" y="6.3" width="192.1" height="432.5" fill="none" stroke="#6a6a6a" stroke-width="1.25"/>
<g font-size="12" fill="#1c1c1c">
<text x="37" y="451.4" text-anchor="middle">0</text>
<text x="101" y="451.4" text-anchor="middle">1</text>
<text x="165.1" y="451.4" text-anchor="middle">2</text>
<text x="229.1" y="451.4" text-anchor="middle">3</text>
<text x="33.9" y="11.1" text-anchor="end">8</text>
<text x="33.9" y="77.6" text-anchor="end">10</text>
<text x="33.9" y="144.2" text-anchor="end">12</text>
<text x="33.9" y="210.7" text-anchor="end">14</text>
<text x="33.9" y="277.3" text-anchor="end">16</text>
<text x="33.9" y="343.8" text-anchor="end">18</text>
<text x="33.9" y="410.3" text-anchor="end">20</text>
</g>
</g>
<g id="panel-b">
<g fill="#6c6c6c" fill-opacity="0.31">
<circle cx="314" cy="99.3" r="1.45"/><circle cx="321.3" cy="103.4" r="1.45"/><circle cx="317.9" cy="116" r="1.45"/><circle cx="308.7" cy="125.8" r="1.45"/><circle cx="372.3" cy="118.3" r="1.45"/><circle cx="309.9" cy="141.1" r="1.45"/><circle cx="330.4" cy="157.1" r="1.45"/><circle cx="338.9" cy="162.4" r="1.45"/><circle cx="383" cy="152.6" r="1.45"/><circle cx="381.2" cy="159.9" r="1.45"/><circle cx="397.9" cy="157.1" r="1.45"/><circle cx="333.4" cy="167.4" r="1.45"/><circle cx="341.2" cy="171.5" r="1.45"/><circle cx="345.7" cy="172.7" r="1.45"/><circle cx="352.1" cy="177.7" r="1.45"/><circle cx="363.1" cy="177.7" r="1.45"/><circle cx="339.3" cy="182.9" r="1.45"/><circle cx="352.1" cy="186.3" r="1.45"/><circle cx="351.4" cy="190.2" r="1.45"/><circle cx="393.7" cy="186.7" r="1.45"/><circle cx="400.6" cy="195.9" r="1.45"/><circle cx="389.1" cy="196.6" r="1.45"/><circle cx="364.7" cy="201.1" r="1.45"/><circle cx="391.4" cy="207.5" r="1.45"/><circle cx="349.8" cy="196.6" r="1.45"/><circle cx="348.7" cy="203" r="1.45"/><circle cx="355.5" cy="206.9" r="1.45"/><circle cx="352.1" cy="210.7" r="1.45"/><circle cx="359.9" cy="219.9" r="1.45"/><circle cx="361.7" cy="214.2" r="1.45"/><circle cx="381.8" cy="216.7" r="1.45"/><circle cx="418.9" cy="224.7" r="1.45"/><circle cx="413.1" cy="224" r="1.45"/><circle cx="381.8" cy="224.7" r="1.45"/><circle cx="388" cy="227.4" r="1.45"/><circle cx="364.7" cy="230.9" r="1.45"/><circle cx="366.3" cy="234.3" r="1.45"/><circle cx="398.3" cy="233.6" r="1.45"/><circle cx="415.4" cy="234.3" r="1.45"/><circle cx="358.7" cy="228.6" r="1.45"/><circle cx="359.9" cy="238.9" r="1.45"/><circle cx="372" cy="244.6" r="1.45"/><circle cx="366.3" cy="243.4" r="1.45"/><circle cx="418.9" cy="245" r="1.45"/><circle cx="395.3" cy="245" r="1.45"/><circle cx="371.3" cy="252.6" r="1.45"/><circle cx="381.1" cy="251.9" r="1.45"/><circle cx="413.1" cy="248" r="1.45"/><circle cx="412" cy="254.2" r="1.45"/><circle cx="399.9" cy="250.7" r="1.45"/><circle cx="391.4" cy="255.3" r="1.45"/><circle cx="393.3" cy="259.4" r="1.45"/><circle cx="398.3" cy="259.4" r="1.45"/><circle cx="382.3" cy="265.1" r="1.45"/><circle cx="388" cy="270.9" r="1.45"/><circle cx="377.7" cy="269.7" r="1.45"/><circle cx="373.1" cy="273.1" r="1.45"/><circle cx="408.6" cy="273.1" r="1.45"/><circle cx="364.7" cy="259.9" r="1.45"/><circle cx="361.7" cy="253.7" r="1.45"/><circle cx="359.9" cy="250.3" r="1.45"/><circle cx="349.1" cy="258.3" r="1.45"/><circle cx="366.3" cy="251.4" r="1.45"/><circle cx="382.2" cy="150.3" r="1.45"/><circle cx="424.8" cy="164.3" r="1.45"/><circle cx="448.4" cy="162.8" r="1.45"/><circle cx="439.9" cy="190.4" r="1.45"/><circle cx="434.9" cy="230.5" r="1.45"/><circle cx="432" cy="256" r="1.45"/><circle cx="449.5" cy="267.5" r="1.45"/><circle cx="432" cy="270" r="1.45"/><circle cx="466" cy="281" r="1.45"/><circle cx="439.5" cy="274" r="1.45"/><circle cx="452" cy="287.5" r="1.45"/><circle cx="467" cy="302.5" r="1.45"/><circle cx="454.5" cy="302.5" r="1.45"/><circle cx="434.5" cy="320" r="1.45"/><circle cx="447" cy="327.5" r="1.45"/><circle cx="389.5" cy="185" r="1.45"/><circle cx="397" cy="197.5" r="1.45"/><circle cx="412" cy="197.5" r="1.45"/><circle cx="460" cy="240" r="1.45"/><circle cx="444" cy="248" r="1.45"/><circle cx="426" cy="214" r="1.45"/><circle cx="458" cy="318" r="1.45"/><circle cx="440" cy="338" r="1.45"/><circle cx="428" cy="345" r="1.45"/><circle cx="452" cy="352" r="1.45"/><circle cx="420" cy="300" r="1.45"/><circle cx="426" cy="286" r="1.45"/><circle cx="391.2" cy="354.3" r="1.45"/><circle cx="380.1" cy="360.1" r="1.45"/><circle cx="360.4" cy="303.9" r="1.45"/><circle cx="403" cy="367.4" r="1.45"/><circle cx="381.6" cy="330.5" r="1.45"/><circle cx="380.3" cy="333.1" r="1.45"/><circle cx="400.6" cy="361.3" r="1.45"/><circle cx="402.5" cy="354" r="1.45"/><circle cx="369.4" cy="293.4" r="1.45"/><circle cx="390.4" cy="370.8" r="1.45"/><circle cx="390.1" cy="333.8" r="1.45"/><circle cx="378.1" cy="326.9" r="1.45"/><circle cx="408.2" cy="357.7" r="1.45"/><circle cx="382.4" cy="339" r="1.45"/><circle cx="381.6" cy="321.1" r="1.45"/><circle cx="369.3" cy="294.7" r="1.45"/><circle cx="380.2" cy="337.4" r="1.45"/><circle cx="394.3" cy="335.8" r="1.45"/><circle cx="411.6" cy="358.4" r="1.45"/><circle cx="413.6" cy="364.9" r="1.45"/><circle cx="384.5" cy="339.3" r="1.45"/><circle cx="393.8" cy="369.7" r="1.45"/><circle cx="409.5" cy="360.9" r="1.45"/><circle cx="378.6" cy="338.5" r="1.45"/><circle cx="403.2" cy="361.8" r="1.45"/><circle cx="419" cy="365.6" r="1.45"/><circle cx="371.1" cy="314.6" r="1.45"/><circle cx="391.7" cy="337.5" r="1.45"/><circle cx="387.9" cy="350.2" r="1.45"/><circle cx="378.1" cy="312.8" r="1.45"/><circle cx="419.6" cy="357.7" r="1.45"/><circle cx="389.8" cy="349.5" r="1.45"/><circle cx="371.8" cy="329.7" r="1.45"/><circle cx="411.2" cy="342.9" r="1.45"/><circle cx="362.5" cy="304.7" r="1.45"/><circle cx="393.8" cy="359.7" r="1.45"/><circle cx="392.8" cy="354.7" r="1.45"/><circle cx="375.1" cy="321.5" r="1.45"/><circle cx="360.8" cy="334.3" r="1.45"/><circle cx="403.1" cy="370.5" r="1.45"/><circle cx="387.8" cy="346.9" r="1.45"/><circle cx="379.2" cy="341.8" r="1.45"/><circle cx="401.8" cy="340" r="1.45"/><circle cx="387.8" cy="347.6" r="1.45"/><circle cx="373.5" cy="314.3" r="1.45"/><circle cx="396.1" cy="339" r="1.45"/><circle cx="389.7" cy="361.7" r="1.45"/><circle cx="376.5" cy="339.1" r="1.45"/><circle cx="372.2" cy="333.2" r="1.45"/><circle cx="383.9" cy="334.2" r="1.45"/><circle cx="391.5" cy="355.7" r="1.45"/><circle cx="380.9" cy="330.8" r="1.45"/><circle cx="392.1" cy="345.5" r="1.45"/><circle cx="376.5" cy="338.1" r="1.45"/><circle cx="396.5" cy="360" r="1.45"/><circle cx="387.6" cy="366" r="1.45"/><circle cx="403.6" cy="370.5" r="1.45"/><circle cx="376.5" cy="323.2" r="1.45"/><circle cx="382.3" cy="368.9" r="1.45"/><circle cx="394.9" cy="359.7" r="1.45"/><circle cx="383.8" cy="362" r="1.45"/><circle cx="386.8" cy="354.4" r="1.45"/><circle cx="391.9" cy="355" r="1.45"/><circle cx="386.1" cy="344.1" r="1.45"/><circle cx="389.3" cy="328.1" r="1.45"/><circle cx="378" cy="328.8" r="1.45"/><circle cx="392.6" cy="335.9" r="1.45"/><circle cx="389.6" cy="340.3" r="1.45"/><circle cx="398" cy="352.6" r="1.45"/><circle cx="395.4" cy="333" r="1.45"/><circle cx="389.9" cy="317.6" r="1.45"/><circle cx="370.7" cy="315.1" r="1.45"/><circle cx="370.7" cy="337.5" r="1.45"/><circle cx="379" cy="342.8" r="1.45"/><circle cx="389.6" cy="355.3" r="1.45"/><circle cx="393.4" cy="351.2" r="1.45"/><circle cx="388.6" cy="370.2" r="1.45"/><circle cx="379.4" cy="292.5" r="1.45"/><circle cx="398.1" cy="353.9" r="1.45"/><circle cx="392.6" cy="340" r="1.45"/><circle cx="376.5" cy="328.8" r="1.45"/><circle cx="414.8" cy="369.9" r="1.45"/><circle cx="390.1" cy="352.9" r="1.45"/><circle cx="405.1" cy="342.5" r="1.45"/><circle cx="387.8" cy="370.9" r="1.45"/><circle cx="376.6" cy="318.5" r="1.45"/><circle cx="384.6" cy="344.3" r="1.45"/><circle cx="376.7" cy="299.4" r="1.45"/><circle cx="391.8" cy="332.6" r="1.45"/><circle cx="377.9" cy="332.2" r="1.45"/><circle cx="391.5" cy="371" r="1.45"/><circle cx="401.8" cy="355.4" r="1.45"/><circle cx="402.6" cy="360.3" r="1.45"/><circle cx="397.7" cy="349.5" r="1.45"/><circle cx="376.4" cy="334.4" r="1.45"/><circle cx="391.8" cy="360.3" r="1.45"/><circle cx="371.4" cy="305.6" r="1.45"/><circle cx="402.5" cy="366.8" r="1.45"/><circle cx="370.4" cy="299.8" r="1.45"/><circle cx="385.5" cy="358.6" r="1.45"/><circle cx="394.3" cy="346.6" r="1.45"/><circle cx="389.8" cy="365.2" r="1.45"/><circle cx="384.1" cy="334.4" r="1.45"/><circle cx="390.7" cy="357.9" r="1.45"/><circle cx="385.2" cy="333.6" r="1.45"/><circle cx="374.1" cy="346.4" r="1.45"/><circle cx="387.1" cy="347.5" r="1.45"/><circle cx="394.5" cy="363.4" r="1.45"/><circle cx="411.2" cy="363.8" r="1.45"/><circle cx="383" cy="370.6" r="1.45"/><circle cx="406.5" cy="358.2" r="1.45"/><circle cx="396.5" cy="355.5" r="1.45"/><circle cx="397.2" cy="358.8" r="1.45"/><circle cx="381" cy="321.5" r="1.45"/><circle cx="383.5" cy="342.4" r="1.45"/><circle cx="380.7" cy="340.2" r="1.45"/><circle cx="390.1" cy="351.8" r="1.45"/><circle cx="373.9" cy="343.5" r="1.45"/><circle cx="374.8" cy="353.1" r="1.45"/><circle cx="373.5" cy="309.2" r="1.45"/><circle cx="373.3" cy="321.7" r="1.45"/><circle cx="384.3" cy="350.7" r="1.45"/><circle cx="377.5" cy="331.8" r="1.45"/><circle cx="387.8" cy="348.6" r="1.45"/><circle cx="374.2" cy="329.5" r="1.45"/><circle cx="401.9" cy="358.8" r="1.45"/><circle cx="373.4" cy="313.8" r="1.45"/><circle cx="388.6" cy="352.8" r="1.45"/><circle cx="387.1" cy="366.3" r="1.45"/><circle cx="371.5" cy="304" r="1.45"/><circle cx="379.5" cy="308.9" r="1.45"/><circle cx="406.5" cy="328.5" r="1.45"/><circle cx="394.5" cy="356.5" r="1.45"/><circle cx="381.8" cy="338.5" r="1.45"/><circle cx="379.9" cy="337" r="1.45"/><circle cx="373.8" cy="320.1" r="1.45"/><circle cx="395" cy="355.6" r="1.45"/><circle cx="382.7" cy="348.6" r="1.45"/><circle cx="384.9" cy="351.7" r="1.45"/><circle cx="402.9" cy="326.7" r="1.45"/><circle cx="388.6" cy="346.5" r="1.45"/><circle cx="393.8" cy="366.9" r="1.45"/><circle cx="384.3" cy="343.4" r="1.45"/><circle cx="378.5" cy="322.5" r="1.45"/><circle cx="388.6" cy="340.6" r="1.45"/><circle cx="380" cy="332.9" r="1.45"/><circle cx="407.1" cy="333.7" r="1.45"/><circle cx="392.7" cy="339.5" r="1.45"/><circle cx="389.3" cy="357.6" r="1.45"/><circle cx="370.9" cy="318" r="1.45"/><circle cx="378.4" cy="334" r="1.45"/><circle cx="380.5" cy="326.5" r="1.45"/><circle cx="363.2" cy="312.8" r="1.45"/><circle cx="393.2" cy="335.5" r="1.45"/><circle cx="381.5" cy="333.4" r="1.45"/><circle cx="371.7" cy="330" r="1.45"/><circle cx="389.1" cy="369" r="1.45"/><circle cx="388" cy="296.5" r="1.45"/><circle cx="394.6" cy="342.2" r="1.45"/><circle cx="391.9" cy="348.7" r="1.45"/><circle cx="384.8" cy="315" r="1.45"/><circle cx="395.5" cy="368.8" r="1.45"/><circle cx="371.1" cy="308.3" r="1.45"/><circle cx="388" cy="342" r="1.45"/><circle cx="384.8" cy="308.5" r="1.45"/><circle cx="393.5" cy="348.1" r="1.45"/><circle cx="401.3" cy="349.4" r="1.45"/><circle cx="397.6" cy="368.2" r="1.45"/><circle cx="394.2" cy="365.4" r="1.45"/><circle cx="390" cy="346.8" r="1.45"/><circle cx="378.4" cy="340" r="1.45"/><circle cx="376.5" cy="335.2" r="1.45"/><circle cx="394.3" cy="364.1" r="1.45"/><circle cx="377.1" cy="314.1" r="1.45"/><circle cx="395" cy="363.8" r="1.45"/><circle cx="376.9" cy="313.7" r="1.45"/><circle cx="391" cy="351.9" r="1.45"/><circle cx="374" cy="307.9" r="1.45"/><circle cx="380.7" cy="333.6" r="1.45"/><circle cx="385.6" cy="335.7" r="1.45"/><circle cx="398.4" cy="350.8" r="1.45"/><circle cx="384.6" cy="351.8" r="1.45"/><circle cx="383.1" cy="363.7" r="1.45"/><circle cx="378" cy="358.2" r="1.45"/><circle cx="392.4" cy="363.4" r="1.45"/><circle cx="383.9" cy="331.8" r="1.45"/><circle cx="392.1" cy="333.5" r="1.45"/><circle cx="368.3" cy="303.5" r="1.45"/><circle cx="394.9" cy="338.7" r="1.45"/><circle cx="369.7" cy="329.2" r="1.45"/><circle cx="384.7" cy="339.1" r="1.45"/><circle cx="394.8" cy="364.1" r="1.45"/><circle cx="372" cy="315.2" r="1.45"/><circle cx="387" cy="344.4" r="1.45"/><circle cx="398.4" cy="362.7" r="1.45"/><circle cx="392.1" cy="345.3" r="1.45"/><circle cx="389.3" cy="344.1" r="1.45"/><circle cx="375.8" cy="370.3" r="1.45"/><circle cx="401.7" cy="316.2" r="1.45"/><circle cx="366.9" cy="304.8" r="1.45"/><circle cx="393.6" cy="346.6" r="1.45"/><circle cx="378.3" cy="332.9" r="1.45"/><circle cx="383.3" cy="351.1" r="1.45"/><circle cx="393.1" cy="338.3" r="1.45"/><circle cx="402.7" cy="370.8" r="1.45"/><circle cx="375.8" cy="341.6" r="1.45"/><circle cx="391.6" cy="364.3" r="1.45"/><circle cx="375.3" cy="315.6" r="1.45"/><circle cx="398.4" cy="367.3" r="1.45"/><circle cx="405.4" cy="357.3" r="1.45"/><circle cx="402.3" cy="354.3" r="1.45"/><circle cx="384.6" cy="352.4" r="1.45"/><circle cx="385.4" cy="340.8" r="1.45"/><circle cx="387.2" cy="340.4" r="1.45"/><circle cx="376.4" cy="358.4" r="1.45"/><circle cx="407.3" cy="368.3" r="1.45"/><circle cx="380.3" cy="356.7" r="1.45"/><circle cx="388.4" cy="352.8" r="1.45"/><circle cx="394.7" cy="348.9" r="1.45"/><circle cx="393.7" cy="352.1" r="1.45"/><circle cx="387.3" cy="358.9" r="1.45"/><circle cx="411.8" cy="359" r="1.45"/><circle cx="407.8" cy="356.7" r="1.45"/><circle cx="389.4" cy="364.6" r="1.45"/><circle cx="393.8" cy="353.7" r="1.45"/><circle cx="387.8" cy="329.9" r="1.45"/><circle cx="389.7" cy="350.1" r="1.45"/><circle cx="379" cy="324.4" r="1.45"/><circle cx="403.1" cy="367.3" r="1.45"/><circle cx="371.9" cy="316.9" r="1.45"/><circle cx="388.9" cy="350.6" r="1.45"/><circle cx="374.6" cy="327.6" r="1.45"/><circle cx="372.8" cy="332.2" r="1.45"/><circle cx="381.5" cy="354.8" r="1.45"/><circle cx="387.4" cy="328.6" r="1.45"/><circle cx="397.8" cy="366.4" r="1.45"/><circle cx="379.8" cy="342.6" r="1.45"/><circle cx="386.6" cy="334.8" r="1.45"/><circle cx="388.4" cy="353.4" r="1.45"/><circle cx="389.6" cy="351.1" r="1.45"/><circle cx="381.7" cy="324.9" r="1.45"/><circle cx="402.2" cy="357.7" r="1.45"/><circle cx="363.9" cy="310.2" r="1.45"/><circle cx="384.9" cy="336" r="1.45"/><circle cx="397" cy="355.5" r="1.45"/><circle cx="391.3" cy="364.7" r="1.45"/><circle cx="373.5" cy="315.9" r="1.45"/><circle cx="410.5" cy="354" r="1.45"/><circle cx="398.7" cy="359.9" r="1.45"/><circle cx="381.2" cy="368.3" r="1.45"/><circle cx="387.1" cy="354.4" r="1.45"/><circle cx="379.2" cy="327" r="1.45"/><circle cx="394.8" cy="345.2" r="1.45"/><circle cx="379.8" cy="350.1" r="1.45"/><circle cx="372" cy="317.9" r="1.45"/><circle cx="385.2" cy="347.4" r="1.45"/><circle cx="406.2" cy="369.2" r="1.45"/><circle cx="392.3" cy="334.3" r="1.45"/><circle cx="383.8" cy="338.5" r="1.45"/><circle cx="369.3" cy="333.9" r="1.45"/><circle cx="395.4" cy="358" r="1.45"/><circle cx="376.5" cy="337.3" r="1.45"/><circle cx="396.3" cy="348.7" r="1.45"/><circle cx="395" cy="356.5" r="1.45"/><circle cx="360.5" cy="315.3" r="1.45"/><circle cx="388.6" cy="340.7" r="1.45"/><circle cx="393.9" cy="314.7" r="1.45"/><circle cx="386.7" cy="339" r="1.45"/><circle cx="388.5" cy="345.2" r="1.45"/><circle cx="400.8" cy="370.4" r="1.45"/><circle cx="393.1" cy="346" r="1.45"/><circle cx="396.1" cy="357.6" r="1.45"/><circle cx="366.1" cy="308.8" r="1.45"/><circle cx="398.9" cy="352.8" r="1.45"/><circle cx="411.5" cy="355.5" r="1.45"/><circle cx="385.5" cy="342.4" r="1.45"/><circle cx="400.1" cy="364.1" r="1.45"/><circle cx="389.7" cy="360.9" r="1.45"/><circle cx="378.6" cy="321.4" r="1.45"/><circle cx="386.2" cy="371.3" r="1.45"/><circle cx="386.1" cy="342.9" r="1.45"/><circle cx="400.9" cy="356.5" r="1.45"/><circle cx="376.3" cy="323.5" r="1.45"/><circle cx="394.8" cy="367.2" r="1.45"/><circle cx="390" cy="326.1" r="1.45"/><circle cx="392.9" cy="353.1" r="1.45"/><circle cx="380.1" cy="329.6" r="1.45"/><circle cx="379.8" cy="343.4" r="1.45"/><circle cx="384.4" cy="360.8" r="1.45"/><circle cx="398" cy="348.7" r="1.45"/><circle cx="396.1" cy="358.3" r="1.45"/><circle cx="387.3" cy="339.9" r="1.45"/><circle cx="373.4" cy="346.3" r="1.45"/><circle cx="381.8" cy="351.5" r="1.45"/><circle cx="389.7" cy="350.2" r="1.45"/><circle cx="412.4" cy="358.5" r="1.45"/><circle cx="378" cy="342.7" r="1.45"/><circle cx="372.6" cy="309.3" r="1.45"/><circle cx="374.8" cy="305.9" r="1.45"/><circle cx="391.9" cy="344.7" r="1.45"/><circle cx="387.5" cy="368.4" r="1.45"/><circle cx="401.2" cy="368.9" r="1.45"/><circle cx="392.9" cy="371" r="1.45"/><circle cx="376.9" cy="312.7" r="1.45"/><circle cx="386.1" cy="359.9" r="1.45"/><circle cx="382.1" cy="334.6" r="1.45"/><circle cx="398.3" cy="364.2" r="1.45"/><circle cx="395.6" cy="351.3" r="1.45"/><circle cx="390.6" cy="344.9" r="1.45"/><circle cx="378.2" cy="320.9" r="1.45"/><circle cx="380.2" cy="331.8" r="1.45"/><circle cx="392.1" cy="331.7" r="1.45"/><circle cx="384.3" cy="354.5" r="1.45"/><circle cx="387.3" cy="331.8" r="1.45"/><circle cx="390.8" cy="344" r="1.45"/><circle cx="370.7" cy="308.6" r="1.45"/><circle cx="392.6" cy="351.1" r="1.45"/><circle cx="389.1" cy="347.3" r="1.45"/><circle cx="369.8" cy="306.3" r="1.45"/><circle cx="389.8" cy="353.7" r="1.45"/><circle cx="396.6" cy="328.4" r="1.45"/><circle cx="383.6" cy="314.8" r="1.45"/><circle cx="407.3" cy="355.7" r="1.45"/><circle cx="386.1" cy="364.9" r="1.45"/><circle cx="412.2" cy="360.8" r="1.45"/><circle cx="395.2" cy="348.5" r="1.45"/><circle cx="390.9" cy="345.6" r="1.45"/><circle cx="398.8" cy="369.3" r="1.45"/><circle cx="373.4" cy="314.2" r="1.45"/><circle cx="394.2" cy="354.3" r="1.45"/><circle cx="382.8" cy="324.1" r="1.45"/><circle cx="393.6" cy="344.5" r="1.45"/><circle cx="397.9" cy="367.8" r="1.45"/><circle cx="394.2" cy="349.7" r="1.45"/><circle cx="386.6" cy="350.7" r="1.45"/><circle cx="387" cy="364.5" r="1.45"/><circle cx="375.4" cy="316.8" r="1.45"/><circle cx="387.5" cy="331.9" r="1.45"/><circle cx="395.7" cy="355.2" r="1.45"/><circle cx="398.9" cy="337.3" r="1.45"/><circle cx="391.7" cy="364.9" r="1.45"/><circle cx="384.9" cy="340.5" r="1.45"/><circle cx="392.7" cy="359.3" r="1.45"/><circle cx="392.5" cy="315.2" r="1.45"/><circle cx="388.3" cy="342.2" r="1.45"/><circle cx="377.4" cy="324.6" r="1.45"/><circle cx="400.7" cy="362.5" r="1.45"/><circle cx="392.7" cy="328.8" r="1.45"/><circle cx="388.5" cy="333.9" r="1.45"/><circle cx="400.1" cy="369.3" r="1.45"/><circle cx="375.7" cy="316.1" r="1.45"/><circle cx="372" cy="313.6" r="1.45"/><circle cx="385" cy="350" r="1.45"/><circle cx="396.8" cy="370.4" r="1.45"/><circle cx="367.2" cy="327.3" r="1.45"/><circle cx="390.6" cy="354.9" r="1.45"/><circle cx="386.9" cy="336.5" r="1.45"/><circle cx="367.2" cy="308.9" r="1.45"/><circle cx="374.3" cy="345.6" r="1.45"/><circle cx="394.4" cy="347.6" r="1.45"/><circle cx="393" cy="360.3" r="1.45"/><circle cx="399.5" cy="353.4" r="1.45"/><circle cx="406.6" cy="326.7" r="1.45"/><circle cx="368.8" cy="319.8" r="1.45"/><circle cx="368.1" cy="314.4" r="1.45"/><circle cx="380.7" cy="322.9" r="1.45"/><circle cx="372.1" cy="316.4" r="1.45"/><circle cx="370.8" cy="308.7" r="1.45"/><circle cx="376.8" cy="318.5" r="1.45"/><circle cx="385.8" cy="355.2" r="1.45"/><circle cx="399.4" cy="366.2" r="1.45"/><circle cx="390.9" cy="366.3" r="1.45"/><circle cx="371.6" cy="342.8" r="1.45"/><circle cx="402.6" cy="356" r="1.45"/><circle cx="411" cy="359.6" r="1.45"/><circle cx="393.9" cy="365.3" r="1.45"/><circle cx="392.1" cy="342.9" r="1.45"/><circle cx="383.8" cy="359.7" r="1.45"/><circle cx="383.3" cy="358.7" r="1.45"/><circle cx="408.9" cy="347.3" r="1.45"/><circle cx="394.6" cy="361.6" r="1.45"/><circle cx="388.5" cy="346.4" r="1.45"/><circle cx="397.9" cy="370.4" r="1.45"/><circle cx="388.2" cy="355.8" r="1.45"/><circle cx="407.7" cy="355.4" r="1.45"/><circle cx="396.5" cy="352.1" r="1.45"/><circle cx="383.9" cy="347.8" r="1.45"/><circle cx="387.7" cy="339.8" r="1.45"/><circle cx="395.3" cy="360.9" r="1.45"/><circle cx="397.8" cy="364.7" r="1.45"/><circle cx="381.4" cy="309.4" r="1.45"/><circle cx="388.5" cy="344" r="1.45"/><circle cx="387" cy="346.3" r="1.45"/><circle cx="393.2" cy="361.4" r="1.45"/><circle cx="384.6" cy="364.5" r="1.45"/><circle cx="414.8" cy="354" r="1.45"/><circle cx="395.3" cy="371.1" r="1.45"/><circle cx="377.1" cy="315.8" r="1.45"/><circle cx="374.8" cy="314.3" r="1.45"/><circle cx="383.7" cy="334.6" r="1.45"/><circle cx="394" cy="340.8" r="1.45"/><circle cx="408.7" cy="357.7" r="1.45"/><circle cx="395" cy="341.7" r="1.45"/><circle cx="395.8" cy="361.4" r="1.45"/><circle cx="388.5" cy="365.6" r="1.45"/><circle cx="382" cy="368.1" r="1.45"/><circle cx="381.7" cy="342.6" r="1.45"/><circle cx="384.1" cy="358.8" r="1.45"/><circle cx="377.2" cy="325.6" r="1.45"/><circle cx="398.5" cy="361.5" r="1.45"/><circle cx="403.5" cy="349.5" r="1.45"/><circle cx="380.1" cy="339.1" r="1.45"/><circle cx="386.2" cy="333.7" r="1.45"/><circle cx="387.3" cy="316.4" r="1.45"/><circle cx="397.8" cy="369.8" r="1.45"/><circle cx="370.4" cy="313" r="1.45"/><circle cx="373.8" cy="296.7" r="1.45"/><circle cx="391.8" cy="346.3" r="1.45"/><circle cx="395.8" cy="344.7" r="1.45"/><circle cx="374.8" cy="323.7" r="1.45"/><circle cx="389.7" cy="344.1" r="1.45"/><circle cx="404.9" cy="363.6" r="1.45"/><circle cx="398.1" cy="328.2" r="1.45"/><circle cx="379.1" cy="342" r="1.45"/><circle cx="395" cy="365.4" r="1.45"/><circle cx="372" cy="318.6" r="1.45"/><circle cx="367.3" cy="313.4" r="1.45"/><circle cx="363.8" cy="306.4" r="1.45"/><circle cx="384.8" cy="345.8" r="1.45"/><circle cx="403.8" cy="344.6" r="1.45"/><circle cx="380.5" cy="330.2" r="1.45"/><circle cx="397.5" cy="368.6" r="1.45"/><circle cx="379.7" cy="315.2" r="1.45"/><circle cx="391.3" cy="327.3" r="1.45"/><circle cx="399" cy="345.4" r="1.45"/><circle cx="401.4" cy="357.5" r="1.45"/><circle cx="399.1" cy="366.1" r="1.45"/><circle cx="383.4" cy="331.9" r="1.45"/><circle cx="384.6" cy="347.8" r="1.45"/><circle cx="397.5" cy="351.5" r="1.45"/><circle cx="387.1" cy="356.1" r="1.45"/><circle cx="373.2" cy="319.6" r="1.45"/><circle cx="391.4" cy="366.4" r="1.45"/><circle cx="397.5" cy="352.6" r="1.45"/><circle cx="406.4" cy="344.4" r="1.45"/><circle cx="389.8" cy="367.5" r="1.45"/><circle cx="400.5" cy="354.5" r="1.45"/><circle cx="385.9" cy="322.8" r="1.45"/><circle cx="378.8" cy="357.9" r="1.45"/><circle cx="390.9" cy="354.1" r="1.45"/><circle cx="373.9" cy="324.3" r="1.45"/><circle cx="376.6" cy="317.2" r="1.45"/><circle cx="388.7" cy="339.6" r="1.45"/><circle cx="371.1" cy="340.9" r="1.45"/><circle cx="403.5" cy="371.4" r="1.45"/><circle cx="396.1" cy="345.1" r="1.45"/><circle cx="367.6" cy="323.9" r="1.45"/><circle cx="388.8" cy="331.2" r="1.45"/><circle cx="382" cy="343.9" r="1.45"/><circle cx="368.1" cy="305.4" r="1.45"/><circle cx="393" cy="356.2" r="1.45"/><circle cx="397.2" cy="347.8" r="1.45"/><circle cx="391.1" cy="361.9" r="1.45"/><circle cx="382.8" cy="322.8" r="1.45"/><circle cx="368.4" cy="307.4" r="1.45"/><circle cx="372.1" cy="307.4" r="1.45"/><circle cx="395.7" cy="371.1" r="1.45"/><circle cx="368.1" cy="304.7" r="1.45"/><circle cx="384.1" cy="325.7" r="1.45"/><circle cx="400.2" cy="310.8" r="1.45"/><circle cx="443.2" cy="345.3" r="1.45"/><circle cx="427.7" cy="353.8" r="1.45"/><circle cx="379.4" cy="297.5" r="1.45"/><circle cx="377.7" cy="299.2" r="1.45"/><circle cx="396.7" cy="288.3" r="1.45"/><circle cx="385" cy="322" r="1.45"/><circle cx="413.6" cy="303" r="1.45"/><circle cx="424.1" cy="355.2" r="1.45"/><circle cx="440.9" cy="344.5" r="1.45"/><circle cx="396.5" cy="328.4" r="1.45"/><circle cx="394.3" cy="329.9" r="1.45"/><circle cx="370.9" cy="269.5" r="1.45"/><circle cx="385.9" cy="318.7" r="1.45"/><circle cx="373.2" cy="276.1" r="1.45"/><circle cx="439.7" cy="309.7" r="1.45"/><circle cx="419.1" cy="321.6" r="1.45"/><circle cx="412.3" cy="345.7" r="1.45"/><circle cx="387.8" cy="304.8" r="1.45"/><circle cx="397.2" cy="304.3" r="1.45"/><circle cx="429.1" cy="355.5" r="1.45"/><circle cx="380.4" cy="301.9" r="1.45"/><circle cx="379.9" cy="264.4" r="1.45"/><circle cx="374.9" cy="294.5" r="1.45"/><circle cx="382.5" cy="302.7" r="1.45"/><circle cx="394.7" cy="291.9" r="1.45"/><circle cx="394.7" cy="331" r="1.45"/><circle cx="399.1" cy="344.5" r="1.45"/><circle cx="402.8" cy="361.3" r="1.45"/><circle cx="412" cy="331.7" r="1.45"/><circle cx="407.5" cy="344.6" r="1.45"/><circle cx="418.8" cy="357" r="1.45"/><circle cx="394.6" cy="340.8" r="1.45"/><circle cx="385" cy="289.7" r="1.45"/><circle cx="388.8" cy="327.3" r="1.45"/><circle cx="403.3" cy="345.5" r="1.45"/><circle cx="398.2" cy="320.4" r="1.45"/><circle cx="405.6" cy="354.1" r="1.45"/><circle cx="405.1" cy="328.6" r="1.45"/><circle cx="398.7" cy="337.6" r="1.45"/><circle cx="388.8" cy="300.2" r="1.45"/><circle cx="408.8" cy="332.5" r="1.45"/><circle cx="381.8" cy="283.2" r="1.45"/><circle cx="391.6" cy="328.7" r="1.45"/><circle cx="419.2" cy="279.1" r="1.45"/><circle cx="377.3" cy="266.8" r="1.45"/><circle cx="377.9" cy="301.9" r="1.45"/><circle cx="379.7" cy="299.2" r="1.45"/><circle cx="426.9" cy="312.9" r="1.45"/><circle cx="375.9" cy="276" r="1.45"/><circle cx="411.9" cy="341.2" r="1.45"/><circle cx="369.1" cy="266.8" r="1.45"/><circle cx="419.6" cy="300.4" r="1.45"/><circle cx="388.5" cy="317.2" r="1.45"/><circle cx="397" cy="320.9" r="1.45"/><circle cx="392.2" cy="285.2" r="1.45"/><circle cx="406.7" cy="343.6" r="1.45"/><circle cx="414.6" cy="326.5" r="1.45"/><circle cx="418.8" cy="364.3" r="1.45"/><circle cx="379.1" cy="270.8" r="1.45"/><circle cx="399.5" cy="338.2" r="1.45"/><circle cx="401.5" cy="340.3" r="1.45"/><circle cx="408" cy="334" r="1.45"/><circle cx="441.5" cy="338.9" r="1.45"/><circle cx="417.3" cy="342.4" r="1.45"/><circle cx="398.6" cy="342.1" r="1.45"/><circle cx="408.2" cy="333.8" r="1.45"/><circle cx="393.3" cy="273.3" r="1.45"/><circle cx="387.7" cy="294.3" r="1.45"/><circle cx="410.4" cy="325.2" r="1.45"/><circle cx="408.1" cy="347.6" r="1.45"/><circle cx="411.7" cy="362.8" r="1.45"/><circle cx="402.1" cy="305" r="1.45"/><circle cx="402.4" cy="364.3" r="1.45"/><circle cx="416.6" cy="348.6" r="1.45"/><circle cx="416.3" cy="326.7" r="1.45"/><circle cx="402.6" cy="355.9" r="1.45"/><circle cx="402.8" cy="321.6" r="1.45"/><circle cx="453.8" cy="341.6" r="1.45"/><circle cx="431" cy="350.9" r="1.45"/><circle cx="377.4" cy="273.8" r="1.45"/><circle cx="455.8" cy="360.6" r="1.45"/><circle cx="403.4" cy="346.8" r="1.45"/><circle cx="410.7" cy="348" r="1.45"/><circle cx="411.3" cy="338.7" r="1.45"/><circle cx="423.6" cy="356.4" r="1.45"/><circle cx="413.8" cy="365.5" r="1.45"/><circle cx="405.3" cy="322.2" r="1.45"/><circle cx="388.5" cy="328.8" r="1.45"/><circle cx="408" cy="364.5" r="1.45"/><circle cx="386" cy="322.8" r="1.45"/><circle cx="423.4" cy="290.1" r="1.45"/><circle cx="383.4" cy="300" r="1.45"/><circle cx="403.1" cy="351.7" r="1.45"/><circle cx="408" cy="338.7" r="1.45"/><circle cx="412.5" cy="359.1" r="1.45"/><circle cx="384.2" cy="305.5" r="1.45"/><circle cx="379.7" cy="309.2" r="1.45"/><circle cx="372.9" cy="281.4" r="1.45"/><circle cx="405.8" cy="304" r="1.45"/><circle cx="408.9" cy="363" r="1.45"/><circle cx="382.2" cy="296.9" r="1.45"/><circle cx="402.8" cy="335.2" r="1.45"/><circle cx="383.8" cy="281.1" r="1.45"/><circle cx="379.3" cy="299.1" r="1.45"/><circle cx="398.9" cy="349.4" r="1.45"/><circle cx="410.4" cy="316.9" r="1.45"/><circle cx="426.1" cy="327" r="1.45"/><circle cx="433.7" cy="304.3" r="1.45"/><circle cx="408.5" cy="270.7" r="1.45"/><circle cx="382.2" cy="315.4" r="1.45"/><circle cx="461.3" cy="298" r="1.45"/><circle cx="419.5" cy="343.2" r="1.45"/><circle cx="397.9" cy="351.6" r="1.45"/><circle cx="389.6" cy="303.2" r="1.45"/><circle cx="445.7" cy="360.2" r="1.45"/><circle cx="454.3" cy="285.2" r="1.45"/><circle cx="394.1" cy="328.1" r="1.45"/><circle cx="378.5" cy="276.4" r="1.45"/><circle cx="397.4" cy="324.9" r="1.45"/><circle cx="434" cy="303.6" r="1.45"/><circle cx="380.6" cy="224.2" r="1.45"/><circle cx="382.7" cy="246" r="1.45"/><circle cx="362.9" cy="220.4" r="1.45"/><circle cx="430.8" cy="207.1" r="1.45"/><circle cx="401.6" cy="234.7" r="1.45"/><circle cx="414.8" cy="238.5" r="1.45"/><circle cx="386.5" cy="227.5" r="1.45"/><circle cx="350.3" cy="200.6" r="1.45"/><circle cx="380.1" cy="198.7" r="1.45"/><circle cx="399.3" cy="190.7" r="1.45"/><circle cx="371.3" cy="214.3" r="1.45"/><circle cx="391.8" cy="212.6" r="1.45"/><circle cx="418.4" cy="205.1" r="1.45"/><circle cx="361.4" cy="224.8" r="1.45"/><circle cx="418.5" cy="196.1" r="1.45"/><circle cx="381.7" cy="231.6" r="1.45"/><circle cx="365.1" cy="241.3" r="1.45"/><circle cx="441.4" cy="254" r="1.45"/><circle cx="364.3" cy="237.8" r="1.45"/><circle cx="422.3" cy="220.7" r="1.45"/><circle cx="375.4" cy="232.7" r="1.45"/><circle cx="355.1" cy="206.9" r="1.45"/><circle cx="371.5" cy="227.6" r="1.45"/><circle cx="427.5" cy="222.1" r="1.45"/><circle cx="405.6" cy="254.9" r="1.45"/>
</g>
<g>
<circle cx="306.9" cy="78.7" r="2.5" fill="#d1ff2e"/><circle cx="307.6" cy="72.6" r="2.5" fill="#800000"/><circle cx="316.7" cy="123.1" r="2.5" fill="#db0000"/><circle cx="313.7" cy="137.7" r="2.5" fill="#800000"/><circle cx="321.7" cy="141.1" r="2.5" fill="#800000"/><circle cx="317.2" cy="145.3" r="2.5" fill="#800000"/><circle cx="316.7" cy="151.4" r="2.5" fill="#800000"/><circle cx="326.3" cy="156" r="2.5" fill="#800000"/><circle cx="320.8" cy="157.6" r="2.5" fill="#800000"/><circle cx="323.6" cy="160.6" r="2.5" fill="#800000"/><circle cx="343" cy="209.6" r="2.5" fill="#0000e6"/><circle cx="321.7" cy="162.3" r="2.5" fill="#800000"/><circle cx="325.1" cy="165.7" r="2.5" fill="#800000"/><circle cx="323.5" cy="170.3" r="2.5" fill="#800000"/><circle cx="329.7" cy="171.4" r="2.5" fill="#800000"/><circle cx="327.9" cy="174.9" r="2.5" fill="#800000"/><circle cx="337.3" cy="174.9" r="2.5" fill="#bd0000"/><circle cx="330.9" cy="178.7" r="2.5" fill="#800000"/><circle cx="333.1" cy="181.7" r="2.5" fill="#800000"/><circle cx="337.7" cy="188.6" r="2.5" fill="#800000"/><circle cx="335.4" cy="190.9" r="2.5" fill="#800000"/><circle cx="338.4" cy="192" r="2.5" fill="#800000"/><circle cx="343.4" cy="197" r="2.5" fill="#ff8a00"/><circle cx="338.9" cy="199.3" r="2.5" fill="#800000"/><circle cx="341.6" cy="201.1" r="2.5" fill="#800000"/><circle cx="343.4" cy="203" r="2.5" fill="#800000"/><circle cx="339.3" cy="206.4" r="2.5" fill="#800000"/><circle cx="344.6" cy="207.5" r="2.5" fill="#800000"/><circle cx="341.6" cy="213.7" r="2.5" fill="#800000"/><circle cx="349.8" cy="215.5" r="2.5" fill="#fff000"/><circle cx="344.6" cy="218.3" r="2.5" fill="#800000"/><circle cx="343.4" cy="219.4" r="2.5" fill="#800000"/><circle cx="347.5" cy="222.9" r="2.5" fill="#800000"/><circle cx="352.1" cy="226.3" r="2.5" fill="#800000"/><circle cx="355.5" cy="225.8" r="2.5" fill="#800000"/><circle cx="347.3" cy="230.4" r="2.5" fill="#800000"/><circle cx="351.4" cy="233.1" r="2.5" fill="#800000"/><circle cx="348" cy="234.3" r="2.5" fill="#800000"/><circle cx="354.4" cy="238.9" r="2.5" fill="#800000"/><circle cx="347.5" cy="239.5" r="2.5" fill="#800000"/><circle cx="352.6" cy="245" r="2.5" fill="#800000"/><circle cx="355.5" cy="246.2" r="2.5" fill="#fa0000"/><circle cx="350.3" cy="249.1" r="2.5" fill="#800000"/><circle cx="352.1" cy="251.4" r="2.5" fill="#800000"/><circle cx="353" cy="253.7" r="2.5" fill="#800000"/><circle cx="353.7" cy="259.9" r="2.5" fill="#800000"/><circle cx="361.3" cy="264.7" r="2.5" fill="#800000"/><circle cx="356.5" cy="267.4" r="2.5" fill="#800000"/><circle cx="364" cy="268.1" r="2.5" fill="#800000"/><circle cx="356.7" cy="269.7" r="2.5" fill="#800000"/><circle cx="360.6" cy="273.1" r="2.5" fill="#800000"/><circle cx="359" cy="276.6" r="2.5" fill="#800000"/><circle cx="359.9" cy="278.9" r="2.5" fill="#fa0000"/><circle cx="360.9" cy="280.1" r="2.5" fill="#800000"/><circle cx="368.4" cy="282.9" r="2.5" fill="#ff4c00"/><circle cx="362" cy="287.9" r="2.5" fill="#800000"/><circle cx="364.3" cy="289.7" r="2.5" fill="#800000"/><circle cx="369.3" cy="289.7" r="2.5" fill="#800000"/><circle cx="366.6" cy="291.5" r="2.5" fill="#800000"/><circle cx="365.4" cy="293.8" r="2.5" fill="#800000"/><circle cx="373.4" cy="292.7" r="2.5" fill="#fa0000"/><circle cx="376.9" cy="298.4" r="2.5" fill="#800000"/><circle cx="379.1" cy="299.3" r="2.5" fill="#fff000"/><circle cx="372.3" cy="306.2" r="2.5" fill="#0000e6"/><circle cx="374.6" cy="312.6" r="2.5" fill="#800000"/><circle cx="380.7" cy="313.3" r="2.5" fill="#800000"/><circle cx="392.2" cy="312.1" r="2.5" fill="#008aff"/><circle cx="375" cy="316.7" r="2.5" fill="#800000"/><circle cx="378.5" cy="316" r="2.5" fill="#ff8a00"/><circle cx="378" cy="320.6" r="2.5" fill="#19ffe6"/><circle cx="380.7" cy="319.9" r="2.5" fill="#800000"/><circle cx="385.3" cy="320.6" r="2.5" fill="#800000"/><circle cx="380.7" cy="325.6" r="2.5" fill="#008aff"/><circle cx="382.6" cy="327.4" r="2.5" fill="#800000"/><circle cx="391" cy="334.3" r="2.5" fill="#bdff42"/><circle cx="387.6" cy="336.1" r="2.5" fill="#800000"/><circle cx="389.9" cy="342.3" r="2.5" fill="#80ff80"/><circle cx="398.1" cy="343.9" r="2.5" fill="#800000"/><circle cx="402" cy="342.3" r="2.5" fill="#ff8a00"/><circle cx="394.5" cy="346.4" r="2.5" fill="#57ffa8"/><circle cx="409.5" cy="348" r="2.5" fill="#800000"/><circle cx="405.9" cy="354.9" r="2.5" fill="#008aff"/>
</g>
<path d="M289 438.8v-3.7M289 6.3v3.7M298.6 438.8v-3.7M298.6 6.3v3.7M308.2 438.8v-3.7M308.2 6.3v3.7M317.8 438.8v-3.7M317.8 6.3v3.7M327.4 438.8v-7.4M327.4 6.3v7.4M337 438.8v-3.7M337 6.3v3.7M346.6 438.8v-3.7M346.6 6.3v3.7M356.2 438.8v-3.7M356.2 6.3v3.7M365.8 438.8v-3.7M365.8 6.3v3.7M375.4 438.8v-7.4M375.4 6.3v7.4M385.1 438.8v-3.7M385.1 6.3v3.7M394.7 438.8v-3.7M394.7 6.3v3.7M404.3 438.8v-3.7M404.3 6.3v3.7M413.9 438.8v-3.7M413.9 6.3v3.7M423.5 438.8v-7.4M423.5 6.3v7.4M433.1 438.8v-3.7M433.1 6.3v3.7M442.7 438.8v-3.7M442.7 6.3v3.7M452.3 438.8v-3.7M452.3 6.3v3.7M461.9 438.8v-3.7M461.9 6.3v3.7M279.4 22.9h3.7M471.5 22.9h-3.7M279.4 39.6h3.7M471.5 39.6h-3.7M279.4 56.2h3.7M471.5 56.2h-3.7M279.4 72.8h7.4M471.5 72.8h-7.4M279.4 89.5h3.7M471.5 89.5h-3.7M279.4 106.1h3.7M471.5 106.1h-3.7M279.4 122.7h3.7M471.5 122.7h-3.7M279.4 139.4h7.4M471.5 139.4h-7.4M279.4 156h3.7M471.5 156h-3.7M279.4 172.6h3.7M471.5 172.6h-3.7M279.4 189.3h3.7M471.5 189.3h-3.7M279.4 205.9h7.4M471.5 205.9h-7.4M279.4 222.5h3.7M471.5 222.5h-3.7M279.4 239.2h3.7M471.5 239.2h-3.7M279.4 255.8h3.7M471.5 255.8h-3.7M279.4 272.5h7.4M471.5 272.5h-7.4M279.4 289.1h3.7M471.5 289.1h-3.7M279.4 305.7h3.7M471.5 305.7h-3.7M279.4 322.4h3.7M471.5 322.4h-3.7M279.4 339h7.4M471.5 339h-7.4M279.4 355.6h3.7M471.5 355.6h-3.7M279.4 372.3h3.7M471.5 372.3h-3.7M279.4 388.9h3.7M471.5 388.9h-3.7M279.4 405.5h7.4M471.5 405.5h-7.4M279.4 422.2h3.7M471.5 422.2h-3.7" stroke="#6a6a6a" stroke-width="1.05" fill="none"/>
<rect x="279.4" y="6.3" width="192.1" height="432.5" fill="none" stroke="#6a6a6a" stroke-width="1.25"/>
<g font-size="12" fill="#1c1c1c">
<text x="279.4" y="451.4" text-anchor="middle">0</text>
<text x="327.4" y="451.4" text-anchor="middle">1</text>
<text x="375.4" y="451.4" text-anchor="middle">2</text>
<text x="423.5" y="451.4" text-anchor="middle">3</text>
<text x="471.5" y="451.4" text-anchor="middle">4</text>
<text x="276.3" y="11.1" text-anchor="end">8</text>
<text x="276.3" y="77.6" text-anchor="end">10</text>
<text x="276.3" y="144.2" text-anchor="end">12</text>
<text x="276.3" y="210.7" text-anchor="end">14</text>
<text x="276.3" y="277.3" text-anchor="end">16</text>
<text x="276.3" y="343.8" text-anchor="end">18</text>
<text x="276.3" y="410.3" text-anchor="end">20</text>
</g>
</g>
<g id="panel-c">
<g fill="#6c6c6c" fill-opacity="0.31">
<circle cx="66.9" cy="569.7" r="1.45"/><circle cx="68.7" cy="574.7" r="1.45"/><circle cx="65.7" cy="580" r="1.45"/><circle cx="84.7" cy="583.9" r="1.45"/><circle cx="82" cy="590.3" r="1.45"/><circle cx="104.1" cy="582.7" r="1.45"/><circle cx="123.1" cy="582.7" r="1.45"/><circle cx="100.7" cy="598.5" r="1.45"/><circle cx="72.1" cy="605.1" r="1.45"/><circle cx="123.1" cy="610.2" r="1.45"/><circle cx="92.7" cy="618.9" r="1.45"/><circle cx="123.1" cy="610" r="1.45"/><circle cx="92.3" cy="620.3" r="1.45"/><circle cx="76.7" cy="621.9" r="1.45"/><circle cx="85.9" cy="625.5" r="1.45"/><circle cx="69.4" cy="630.1" r="1.45"/><circle cx="72.1" cy="633.5" r="1.45"/><circle cx="85.9" cy="628.7" r="1.45"/><circle cx="93.9" cy="634" r="1.45"/><circle cx="88.8" cy="639.3" r="1.45"/><circle cx="72.1" cy="642" r="1.45"/><circle cx="143.7" cy="636.7" r="1.45"/><circle cx="140.7" cy="647.7" r="1.45"/><circle cx="76.7" cy="652.3" r="1.45"/><circle cx="100.3" cy="663.3" r="1.45"/><circle cx="90.4" cy="658.5" r="1.45"/><circle cx="141.4" cy="669.9" r="1.45"/><circle cx="151" cy="669.9" r="1.45"/><circle cx="105.3" cy="671.3" r="1.45"/><circle cx="116.3" cy="676.3" r="1.45"/><circle cx="153.3" cy="677.9" r="1.45"/><circle cx="158.3" cy="664.9" r="1.45"/><circle cx="78.3" cy="677.4" r="1.45"/><circle cx="121.3" cy="679.7" r="1.45"/><circle cx="103.5" cy="687.7" r="1.45"/><circle cx="131.6" cy="690.5" r="1.45"/><circle cx="144.1" cy="690" r="1.45"/><circle cx="149.9" cy="694.6" r="1.45"/><circle cx="104.1" cy="696.4" r="1.45"/><circle cx="157.9" cy="702.6" r="1.45"/><circle cx="107.6" cy="707.1" r="1.45"/><circle cx="117.9" cy="707.1" r="1.45"/><circle cx="124.7" cy="708.3" r="1.45"/><circle cx="132.7" cy="707.6" r="1.45"/><circle cx="139.6" cy="704.9" r="1.45"/><circle cx="113.3" cy="715.6" r="1.45"/><circle cx="122.4" cy="716.3" r="1.45"/><circle cx="149.9" cy="711.7" r="1.45"/><circle cx="154.9" cy="719.7" r="1.45"/><circle cx="105.3" cy="718.6" r="1.45"/><circle cx="107.6" cy="710.6" r="1.45"/><circle cx="109.9" cy="723.1" r="1.45"/><circle cx="127" cy="722" r="1.45"/><circle cx="137.3" cy="723.6" r="1.45"/><circle cx="119" cy="727.7" r="1.45"/><circle cx="148.7" cy="726.6" r="1.45"/><circle cx="94.1" cy="619.8" r="1.45"/><circle cx="90.3" cy="627.4" r="1.45"/><circle cx="86.5" cy="631.2" r="1.45"/><circle cx="85.7" cy="635" r="1.45"/><circle cx="95.6" cy="636.6" r="1.45"/><circle cx="101" cy="638.6" r="1.45"/><circle cx="88" cy="648.5" r="1.45"/><circle cx="96.4" cy="651.8" r="1.45"/><circle cx="87.5" cy="656.1" r="1.45"/><circle cx="88.5" cy="662.2" r="1.45"/><circle cx="102.8" cy="667" r="1.45"/><circle cx="100.2" cy="677" r="1.45"/><circle cx="191.5" cy="649" r="1.45"/><circle cx="192.5" cy="700.5" r="1.45"/><circle cx="191" cy="732" r="1.45"/><circle cx="179" cy="695.5" r="1.45"/><circle cx="66" cy="772" r="1.45"/><circle cx="177" cy="870" r="1.45"/><circle cx="179" cy="872" r="1.45"/><circle cx="63" cy="795" r="1.45"/><circle cx="116.7" cy="796.1" r="1.45"/><circle cx="126.5" cy="851.3" r="1.45"/><circle cx="105.7" cy="765" r="1.45"/><circle cx="132.7" cy="793.1" r="1.45"/><circle cx="118" cy="845.7" r="1.45"/><circle cx="125" cy="831.3" r="1.45"/><circle cx="113.5" cy="790" r="1.45"/><circle cx="112.3" cy="797.4" r="1.45"/><circle cx="98" cy="736.4" r="1.45"/><circle cx="139.6" cy="867" r="1.45"/><circle cx="123.3" cy="818" r="1.45"/><circle cx="136" cy="873.4" r="1.45"/><circle cx="100.9" cy="757.6" r="1.45"/><circle cx="121.4" cy="847.4" r="1.45"/><circle cx="115.7" cy="812.8" r="1.45"/><circle cx="117.8" cy="846.4" r="1.45"/><circle cx="125.9" cy="866.9" r="1.45"/><circle cx="102.6" cy="758.1" r="1.45"/><circle cx="124.6" cy="870.2" r="1.45"/><circle cx="131.1" cy="870.2" r="1.45"/><circle cx="123" cy="839.8" r="1.45"/><circle cx="104.7" cy="805.4" r="1.45"/><circle cx="121.3" cy="815.2" r="1.45"/><circle cx="125.4" cy="856.3" r="1.45"/><circle cx="104" cy="768.6" r="1.45"/><circle cx="117.2" cy="870.5" r="1.45"/><circle cx="123.8" cy="862.5" r="1.45"/><circle cx="110" cy="781.5" r="1.45"/><circle cx="121.1" cy="834.8" r="1.45"/><circle cx="130.1" cy="867.1" r="1.45"/><circle cx="121.8" cy="832.6" r="1.45"/><circle cx="111.1" cy="799" r="1.45"/><circle cx="95.5" cy="729.6" r="1.45"/><circle cx="125.4" cy="823.4" r="1.45"/><circle cx="126.3" cy="817.8" r="1.45"/><circle cx="102.6" cy="786.7" r="1.45"/><circle cx="125" cy="820.2" r="1.45"/><circle cx="143.1" cy="872.2" r="1.45"/><circle cx="113.4" cy="791.7" r="1.45"/><circle cx="94.6" cy="730.8" r="1.45"/><circle cx="125.7" cy="856.3" r="1.45"/><circle cx="124.8" cy="824.8" r="1.45"/><circle cx="109.4" cy="796.9" r="1.45"/><circle cx="124.7" cy="822.7" r="1.45"/><circle cx="124.4" cy="840.8" r="1.45"/><circle cx="107.2" cy="765" r="1.45"/><circle cx="103.1" cy="771" r="1.45"/><circle cx="128.2" cy="859.8" r="1.45"/><circle cx="118.1" cy="832.4" r="1.45"/><circle cx="93.3" cy="757.6" r="1.45"/><circle cx="99.8" cy="734.1" r="1.45"/><circle cx="130.6" cy="839.3" r="1.45"/><circle cx="115.3" cy="854.6" r="1.45"/><circle cx="99.9" cy="716.9" r="1.45"/><circle cx="134" cy="861.9" r="1.45"/><circle cx="106.8" cy="744.5" r="1.45"/><circle cx="132.6" cy="871.5" r="1.45"/><circle cx="102.1" cy="839.9" r="1.45"/><circle cx="116.9" cy="787.2" r="1.45"/><circle cx="104.5" cy="764.4" r="1.45"/><circle cx="116.9" cy="842.4" r="1.45"/><circle cx="110.4" cy="782.4" r="1.45"/><circle cx="104" cy="775" r="1.45"/><circle cx="106.2" cy="776.1" r="1.45"/><circle cx="119.8" cy="825.2" r="1.45"/><circle cx="111.5" cy="828.8" r="1.45"/><circle cx="117.1" cy="819.9" r="1.45"/><circle cx="115.5" cy="790.9" r="1.45"/><circle cx="130.1" cy="826" r="1.45"/><circle cx="135.9" cy="851.6" r="1.45"/><circle cx="133" cy="842.9" r="1.45"/><circle cx="122.2" cy="824.4" r="1.45"/><circle cx="112.9" cy="767.4" r="1.45"/><circle cx="120.8" cy="832.1" r="1.45"/><circle cx="129.3" cy="851.3" r="1.45"/><circle cx="128.7" cy="834.5" r="1.45"/><circle cx="127.6" cy="854.6" r="1.45"/><circle cx="125" cy="843.1" r="1.45"/><circle cx="129.5" cy="867.5" r="1.45"/><circle cx="109.2" cy="872.7" r="1.45"/><circle cx="112" cy="795.6" r="1.45"/><circle cx="142.4" cy="872.4" r="1.45"/><circle cx="130.7" cy="816.8" r="1.45"/><circle cx="118.5" cy="833.6" r="1.45"/><circle cx="139.1" cy="844.2" r="1.45"/><circle cx="114.1" cy="806.9" r="1.45"/><circle cx="132.5" cy="862.7" r="1.45"/><circle cx="139.3" cy="871.1" r="1.45"/><circle cx="126.9" cy="862.8" r="1.45"/><circle cx="131.7" cy="843.1" r="1.45"/><circle cx="121.3" cy="862.5" r="1.45"/><circle cx="110.1" cy="853.3" r="1.45"/><circle cx="122.8" cy="860.8" r="1.45"/><circle cx="117.2" cy="823.9" r="1.45"/><circle cx="109.7" cy="830.8" r="1.45"/><circle cx="113.8" cy="802.9" r="1.45"/><circle cx="103.7" cy="759.6" r="1.45"/><circle cx="115.7" cy="823" r="1.45"/><circle cx="109.6" cy="773.8" r="1.45"/><circle cx="112.6" cy="806.3" r="1.45"/><circle cx="122.2" cy="859.5" r="1.45"/><circle cx="129.9" cy="866" r="1.45"/><circle cx="109.7" cy="822" r="1.45"/><circle cx="146.1" cy="858.4" r="1.45"/><circle cx="128.3" cy="854.9" r="1.45"/><circle cx="139.4" cy="841.5" r="1.45"/><circle cx="119.1" cy="861.5" r="1.45"/><circle cx="140.1" cy="858.6" r="1.45"/><circle cx="113.6" cy="819.1" r="1.45"/><circle cx="117.4" cy="873.5" r="1.45"/><circle cx="131.6" cy="868.3" r="1.45"/><circle cx="121.6" cy="842.8" r="1.45"/><circle cx="134.9" cy="849.6" r="1.45"/><circle cx="135.1" cy="864.5" r="1.45"/><circle cx="133.9" cy="867.2" r="1.45"/><circle cx="124.1" cy="842.5" r="1.45"/><circle cx="125.4" cy="864.2" r="1.45"/><circle cx="98.4" cy="747.4" r="1.45"/><circle cx="139" cy="868.3" r="1.45"/><circle cx="112.1" cy="816.4" r="1.45"/><circle cx="135.1" cy="861.4" r="1.45"/><circle cx="114.2" cy="841.8" r="1.45"/><circle cx="116" cy="810.2" r="1.45"/><circle cx="123.3" cy="811.2" r="1.45"/><circle cx="132.3" cy="834" r="1.45"/><circle cx="125" cy="814.1" r="1.45"/><circle cx="110.5" cy="783.5" r="1.45"/><circle cx="127.9" cy="824.3" r="1.45"/><circle cx="133.8" cy="857.7" r="1.45"/><circle cx="119.1" cy="806.5" r="1.45"/><circle cx="111.6" cy="787" r="1.45"/><circle cx="100.6" cy="752.9" r="1.45"/><circle cx="123.3" cy="837.6" r="1.45"/><circle cx="110.8" cy="837.9" r="1.45"/><circle cx="125.1" cy="811.2" r="1.45"/><circle cx="114.9" cy="829.6" r="1.45"/><circle cx="148.3" cy="838.3" r="1.45"/><circle cx="118" cy="869.1" r="1.45"/><circle cx="106.8" cy="777.6" r="1.45"/><circle cx="115.6" cy="785.4" r="1.45"/><circle cx="145" cy="856.1" r="1.45"/><circle cx="131.1" cy="840.5" r="1.45"/><circle cx="110.2" cy="843.1" r="1.45"/><circle cx="134" cy="839.8" r="1.45"/><circle cx="142.6" cy="866.6" r="1.45"/><circle cx="124.2" cy="872.8" r="1.45"/><circle cx="113.8" cy="830.8" r="1.45"/><circle cx="134.2" cy="834.8" r="1.45"/><circle cx="114.4" cy="808.8" r="1.45"/><circle cx="104" cy="776.4" r="1.45"/><circle cx="106" cy="862.1" r="1.45"/><circle cx="124" cy="835.3" r="1.45"/><circle cx="129" cy="869.5" r="1.45"/><circle cx="128.7" cy="834.6" r="1.45"/><circle cx="134.2" cy="856.5" r="1.45"/><circle cx="102.7" cy="775.6" r="1.45"/><circle cx="126.2" cy="819.9" r="1.45"/><circle cx="132.7" cy="870.1" r="1.45"/><circle cx="115.8" cy="813.9" r="1.45"/><circle cx="103.5" cy="780" r="1.45"/><circle cx="131.8" cy="849.9" r="1.45"/><circle cx="127.4" cy="839.9" r="1.45"/><circle cx="113.2" cy="776.3" r="1.45"/><circle cx="124.3" cy="844.7" r="1.45"/><circle cx="158.4" cy="871.5" r="1.45"/><circle cx="109.2" cy="747.8" r="1.45"/><circle cx="113.1" cy="842" r="1.45"/><circle cx="103.8" cy="815.4" r="1.45"/><circle cx="124.5" cy="870.2" r="1.45"/><circle cx="106.8" cy="785.6" r="1.45"/><circle cx="111.2" cy="797.6" r="1.45"/><circle cx="123.7" cy="817.1" r="1.45"/><circle cx="120.6" cy="859.8" r="1.45"/><circle cx="104.3" cy="747.3" r="1.45"/><circle cx="107.1" cy="779.4" r="1.45"/><circle cx="105.3" cy="809.4" r="1.45"/><circle cx="100.4" cy="744.2" r="1.45"/><circle cx="125.1" cy="816.5" r="1.45"/><circle cx="121.2" cy="838.1" r="1.45"/><circle cx="140.7" cy="858" r="1.45"/><circle cx="128.2" cy="857.8" r="1.45"/><circle cx="108.1" cy="801.6" r="1.45"/><circle cx="125.3" cy="862.4" r="1.45"/><circle cx="134.7" cy="826.1" r="1.45"/><circle cx="114.7" cy="844.6" r="1.45"/><circle cx="118.4" cy="813.2" r="1.45"/><circle cx="124.4" cy="839.8" r="1.45"/><circle cx="118.3" cy="841.9" r="1.45"/><circle cx="115.3" cy="827.1" r="1.45"/><circle cx="125.6" cy="836.7" r="1.45"/><circle cx="129.7" cy="851.7" r="1.45"/><circle cx="133.8" cy="861" r="1.45"/><circle cx="107.6" cy="766" r="1.45"/><circle cx="105.1" cy="794.5" r="1.45"/><circle cx="125.9" cy="845.2" r="1.45"/><circle cx="123.2" cy="790.9" r="1.45"/><circle cx="114.6" cy="773.4" r="1.45"/><circle cx="115.3" cy="793.5" r="1.45"/><circle cx="127" cy="809.5" r="1.45"/><circle cx="126.1" cy="854.1" r="1.45"/><circle cx="124.3" cy="839.5" r="1.45"/><circle cx="128.3" cy="860.1" r="1.45"/><circle cx="121.8" cy="811.5" r="1.45"/><circle cx="122.8" cy="867.7" r="1.45"/><circle cx="93.5" cy="708" r="1.45"/><circle cx="123" cy="833" r="1.45"/><circle cx="133.7" cy="829.9" r="1.45"/><circle cx="129.7" cy="872.7" r="1.45"/><circle cx="125.7" cy="867.2" r="1.45"/><circle cx="111" cy="780.6" r="1.45"/><circle cx="139.2" cy="851.7" r="1.45"/><circle cx="115.8" cy="813.8" r="1.45"/><circle cx="122.2" cy="841.6" r="1.45"/><circle cx="122.1" cy="850.3" r="1.45"/><circle cx="114.6" cy="791.2" r="1.45"/><circle cx="123.3" cy="830.6" r="1.45"/><circle cx="128.6" cy="850.5" r="1.45"/><circle cx="135.4" cy="850.3" r="1.45"/><circle cx="108.1" cy="802" r="1.45"/><circle cx="119.2" cy="821.3" r="1.45"/><circle cx="110.4" cy="792.9" r="1.45"/><circle cx="105" cy="789.4" r="1.45"/><circle cx="119.4" cy="859.7" r="1.45"/><circle cx="114.6" cy="857.6" r="1.45"/><circle cx="121.7" cy="831.3" r="1.45"/><circle cx="119.8" cy="846.8" r="1.45"/><circle cx="102.5" cy="764.1" r="1.45"/><circle cx="139" cy="865.7" r="1.45"/><circle cx="140.9" cy="849.5" r="1.45"/><circle cx="120.6" cy="871.9" r="1.45"/><circle cx="119.4" cy="843.5" r="1.45"/><circle cx="109.8" cy="795.2" r="1.45"/><circle cx="125.1" cy="858.9" r="1.45"/><circle cx="112.6" cy="798.3" r="1.45"/><circle cx="112.6" cy="795.1" r="1.45"/><circle cx="106.1" cy="791.6" r="1.45"/><circle cx="121.3" cy="849.8" r="1.45"/><circle cx="119.5" cy="825.8" r="1.45"/><circle cx="135.6" cy="873.5" r="1.45"/><circle cx="129.7" cy="841.3" r="1.45"/><circle cx="137.5" cy="862.3" r="1.45"/><circle cx="124.6" cy="856.6" r="1.45"/><circle cx="101.5" cy="774.1" r="1.45"/><circle cx="137.1" cy="847.8" r="1.45"/><circle cx="115.3" cy="826" r="1.45"/><circle cx="119.4" cy="836.8" r="1.45"/><circle cx="136.1" cy="865.6" r="1.45"/><circle cx="127.5" cy="855.5" r="1.45"/><circle cx="122.1" cy="870.1" r="1.45"/><circle cx="114.7" cy="817.2" r="1.45"/><circle cx="114.3" cy="830.2" r="1.45"/><circle cx="104.8" cy="773" r="1.45"/><circle cx="129.2" cy="873.9" r="1.45"/><circle cx="119.1" cy="791.1" r="1.45"/><circle cx="132.4" cy="844.8" r="1.45"/><circle cx="122.4" cy="818.7" r="1.45"/><circle cx="113.9" cy="809.3" r="1.45"/><circle cx="123.2" cy="830.9" r="1.45"/><circle cx="113.2" cy="858.8" r="1.45"/><circle cx="112.8" cy="870.5" r="1.45"/><circle cx="111" cy="829.5" r="1.45"/><circle cx="133.1" cy="865.3" r="1.45"/><circle cx="118.6" cy="836.1" r="1.45"/><circle cx="113.9" cy="833.3" r="1.45"/><circle cx="117" cy="832.7" r="1.45"/><circle cx="126.8" cy="829.1" r="1.45"/><circle cx="131.5" cy="859.4" r="1.45"/><circle cx="134.4" cy="868.5" r="1.45"/><circle cx="118.2" cy="832.9" r="1.45"/><circle cx="110.5" cy="853.9" r="1.45"/><circle cx="134.7" cy="838.6" r="1.45"/><circle cx="118.9" cy="826" r="1.45"/><circle cx="116.7" cy="788.2" r="1.45"/><circle cx="143.8" cy="866.6" r="1.45"/><circle cx="109.7" cy="815.2" r="1.45"/><circle cx="123.5" cy="842.5" r="1.45"/><circle cx="122.1" cy="803.9" r="1.45"/><circle cx="122.2" cy="852.1" r="1.45"/><circle cx="115.6" cy="849.9" r="1.45"/><circle cx="115.3" cy="789.5" r="1.45"/><circle cx="118.3" cy="836.8" r="1.45"/><circle cx="110" cy="806.4" r="1.45"/><circle cx="113.9" cy="787.9" r="1.45"/><circle cx="113.5" cy="788.5" r="1.45"/><circle cx="112.8" cy="830.3" r="1.45"/><circle cx="117" cy="825.1" r="1.45"/><circle cx="136.3" cy="856.5" r="1.45"/><circle cx="108.8" cy="774.3" r="1.45"/><circle cx="115" cy="833.6" r="1.45"/><circle cx="117.6" cy="825.7" r="1.45"/><circle cx="117.8" cy="816.7" r="1.45"/><circle cx="114.6" cy="790.2" r="1.45"/><circle cx="119.8" cy="830.4" r="1.45"/><circle cx="128" cy="862.7" r="1.45"/><circle cx="102" cy="741.5" r="1.45"/><circle cx="122.8" cy="812.1" r="1.45"/><circle cx="120.1" cy="834" r="1.45"/><circle cx="118.1" cy="857.9" r="1.45"/><circle cx="119.1" cy="828.7" r="1.45"/><circle cx="104.4" cy="776" r="1.45"/><circle cx="106.3" cy="761.5" r="1.45"/><circle cx="121.7" cy="804" r="1.45"/><circle cx="116.3" cy="838" r="1.45"/><circle cx="101" cy="781.4" r="1.45"/><circle cx="150.6" cy="871" r="1.45"/><circle cx="131.2" cy="872.9" r="1.45"/><circle cx="121.4" cy="816.3" r="1.45"/><circle cx="116.2" cy="838.2" r="1.45"/><circle cx="136.9" cy="863.6" r="1.45"/><circle cx="112.1" cy="794.9" r="1.45"/><circle cx="113.8" cy="868" r="1.45"/><circle cx="107.6" cy="795.1" r="1.45"/><circle cx="132.4" cy="863" r="1.45"/><circle cx="119.3" cy="805.8" r="1.45"/><circle cx="122.9" cy="868.8" r="1.45"/><circle cx="120.6" cy="805.9" r="1.45"/><circle cx="100.3" cy="761.7" r="1.45"/><circle cx="120.7" cy="812.3" r="1.45"/><circle cx="119.5" cy="853.5" r="1.45"/><circle cx="154.2" cy="867.5" r="1.45"/><circle cx="132.8" cy="839.8" r="1.45"/><circle cx="131.8" cy="843.8" r="1.45"/><circle cx="115.2" cy="846.5" r="1.45"/><circle cx="138.1" cy="873.8" r="1.45"/><circle cx="138.6" cy="851.1" r="1.45"/><circle cx="128.8" cy="844" r="1.45"/><circle cx="126.5" cy="836.5" r="1.45"/><circle cx="97.5" cy="734.2" r="1.45"/><circle cx="131.5" cy="852.8" r="1.45"/><circle cx="132.2" cy="860.5" r="1.45"/><circle cx="127.4" cy="815.8" r="1.45"/><circle cx="117.1" cy="847.6" r="1.45"/><circle cx="133.7" cy="815.5" r="1.45"/><circle cx="142.1" cy="864.6" r="1.45"/><circle cx="122.9" cy="868.1" r="1.45"/><circle cx="125.7" cy="844.4" r="1.45"/><circle cx="122" cy="822.9" r="1.45"/><circle cx="123.5" cy="821.5" r="1.45"/><circle cx="108.5" cy="781.1" r="1.45"/><circle cx="156" cy="869.3" r="1.45"/><circle cx="114.8" cy="865.7" r="1.45"/><circle cx="110.3" cy="784.4" r="1.45"/><circle cx="139.5" cy="843.8" r="1.45"/><circle cx="128.4" cy="873" r="1.45"/><circle cx="125.5" cy="844.4" r="1.45"/><circle cx="116.9" cy="803.1" r="1.45"/><circle cx="117.4" cy="861.4" r="1.45"/><circle cx="127.1" cy="859.3" r="1.45"/><circle cx="124.5" cy="806.8" r="1.45"/><circle cx="137.9" cy="841.9" r="1.45"/><circle cx="97.7" cy="741.1" r="1.45"/><circle cx="115.7" cy="856" r="1.45"/><circle cx="107.8" cy="777.2" r="1.45"/><circle cx="139.6" cy="848.2" r="1.45"/><circle cx="123.6" cy="813.9" r="1.45"/><circle cx="128.7" cy="866.2" r="1.45"/><circle cx="95.5" cy="778.2" r="1.45"/><circle cx="134.1" cy="850.4" r="1.45"/><circle cx="137.3" cy="855.7" r="1.45"/><circle cx="117.4" cy="836.6" r="1.45"/><circle cx="107.8" cy="861.1" r="1.45"/><circle cx="124.3" cy="856" r="1.45"/><circle cx="91.8" cy="711.9" r="1.45"/><circle cx="116.7" cy="773.8" r="1.45"/><circle cx="93.4" cy="732.6" r="1.45"/><circle cx="123.8" cy="872.7" r="1.45"/><circle cx="120.6" cy="871.4" r="1.45"/><circle cx="115.8" cy="835" r="1.45"/><circle cx="128.1" cy="863" r="1.45"/><circle cx="122.2" cy="844.3" r="1.45"/><circle cx="100.6" cy="752.6" r="1.45"/><circle cx="137.6" cy="868.3" r="1.45"/><circle cx="108.9" cy="795" r="1.45"/><circle cx="117.7" cy="792.4" r="1.45"/><circle cx="118.7" cy="826.8" r="1.45"/><circle cx="142.2" cy="858.6" r="1.45"/><circle cx="131" cy="840.2" r="1.45"/><circle cx="121" cy="854.8" r="1.45"/><circle cx="103.4" cy="767.8" r="1.45"/><circle cx="135.3" cy="865.8" r="1.45"/><circle cx="115.6" cy="831.7" r="1.45"/><circle cx="140.5" cy="870.8" r="1.45"/><circle cx="133.8" cy="861.5" r="1.45"/><circle cx="117" cy="859.4" r="1.45"/><circle cx="119.7" cy="838.2" r="1.45"/><circle cx="118.7" cy="802" r="1.45"/><circle cx="106.1" cy="812.6" r="1.45"/><circle cx="114.4" cy="797.7" r="1.45"/><circle cx="119.5" cy="819.6" r="1.45"/><circle cx="107.7" cy="756.9" r="1.45"/><circle cx="136.7" cy="844" r="1.45"/><circle cx="108.3" cy="815.5" r="1.45"/><circle cx="110.2" cy="785.4" r="1.45"/><circle cx="104" cy="789.6" r="1.45"/><circle cx="101.6" cy="756.8" r="1.45"/><circle cx="117.5" cy="834.2" r="1.45"/><circle cx="127.6" cy="838.4" r="1.45"/><circle cx="113.5" cy="801.5" r="1.45"/><circle cx="99.8" cy="745.2" r="1.45"/><circle cx="126.4" cy="863.3" r="1.45"/><circle cx="119.6" cy="842.8" r="1.45"/><circle cx="129.4" cy="864.5" r="1.45"/><circle cx="100.5" cy="773.1" r="1.45"/><circle cx="119.4" cy="847.1" r="1.45"/><circle cx="104.4" cy="752.2" r="1.45"/><circle cx="132.4" cy="853.5" r="1.45"/><circle cx="118.4" cy="778.6" r="1.45"/><circle cx="120.6" cy="839.2" r="1.45"/><circle cx="126.5" cy="865.1" r="1.45"/><circle cx="117.5" cy="821.1" r="1.45"/><circle cx="89.9" cy="739.2" r="1.45"/><circle cx="127.8" cy="821.1" r="1.45"/><circle cx="119.2" cy="847.7" r="1.45"/><circle cx="125.2" cy="812.3" r="1.45"/><circle cx="124.2" cy="867.8" r="1.45"/><circle cx="124" cy="824.1" r="1.45"/><circle cx="101.5" cy="761.8" r="1.45"/><circle cx="129.8" cy="821.1" r="1.45"/><circle cx="122.9" cy="826.1" r="1.45"/><circle cx="146.9" cy="865.7" r="1.45"/><circle cx="127.5" cy="821.7" r="1.45"/><circle cx="130.1" cy="864.9" r="1.45"/><circle cx="127" cy="846.6" r="1.45"/><circle cx="134.4" cy="865.8" r="1.45"/><circle cx="101" cy="763.1" r="1.45"/><circle cx="107.5" cy="788.1" r="1.45"/><circle cx="136.7" cy="825.5" r="1.45"/><circle cx="94.3" cy="761.7" r="1.45"/><circle cx="99.8" cy="743.4" r="1.45"/><circle cx="133.5" cy="868.9" r="1.45"/><circle cx="99.8" cy="763.5" r="1.45"/><circle cx="132.2" cy="828" r="1.45"/><circle cx="117.9" cy="797.3" r="1.45"/><circle cx="118.9" cy="808.9" r="1.45"/><circle cx="119.4" cy="862.8" r="1.45"/><circle cx="118.4" cy="801.9" r="1.45"/><circle cx="123.4" cy="821.6" r="1.45"/><circle cx="125.7" cy="851" r="1.45"/><circle cx="109.2" cy="809.4" r="1.45"/><circle cx="123.5" cy="814.2" r="1.45"/><circle cx="114.8" cy="830.7" r="1.45"/><circle cx="104.9" cy="761.4" r="1.45"/><circle cx="115.1" cy="819.7" r="1.45"/><circle cx="120.6" cy="805.6" r="1.45"/><circle cx="121.6" cy="826.3" r="1.45"/><circle cx="103.1" cy="761.8" r="1.45"/><circle cx="112.5" cy="835.5" r="1.45"/><circle cx="97.2" cy="744.3" r="1.45"/><circle cx="94.7" cy="727.1" r="1.45"/><circle cx="119.9" cy="831.2" r="1.45"/><circle cx="123.1" cy="806.6" r="1.45"/><circle cx="121.4" cy="809.7" r="1.45"/><circle cx="128" cy="830.5" r="1.45"/><circle cx="122.5" cy="862.5" r="1.45"/><circle cx="119.1" cy="806.4" r="1.45"/><circle cx="122.2" cy="807.2" r="1.45"/><circle cx="137.6" cy="853.2" r="1.45"/><circle cx="119.5" cy="794.9" r="1.45"/><circle cx="121.3" cy="821.6" r="1.45"/><circle cx="111.9" cy="779" r="1.45"/><circle cx="148.7" cy="873" r="1.45"/><circle cx="131.2" cy="827.6" r="1.45"/><circle cx="135.2" cy="865.5" r="1.45"/><circle cx="136.8" cy="849.3" r="1.45"/><circle cx="107.5" cy="808.4" r="1.45"/><circle cx="111.4" cy="822.5" r="1.45"/><circle cx="95.2" cy="742.3" r="1.45"/><circle cx="114.3" cy="827" r="1.45"/><circle cx="123.6" cy="862.2" r="1.45"/><circle cx="127" cy="824.4" r="1.45"/><circle cx="111.5" cy="767.7" r="1.45"/><circle cx="135.8" cy="866" r="1.45"/><circle cx="115.6" cy="788.3" r="1.45"/><circle cx="117.5" cy="822.7" r="1.45"/><circle cx="105.9" cy="749" r="1.45"/><circle cx="130.6" cy="865.7" r="1.45"/><circle cx="134.1" cy="845.2" r="1.45"/><circle cx="113.6" cy="776.9" r="1.45"/><circle cx="122.3" cy="828.6" r="1.45"/><circle cx="111.7" cy="810" r="1.45"/><circle cx="117.4" cy="810.4" r="1.45"/><circle cx="129.3" cy="853.2" r="1.45"/><circle cx="122.2" cy="819.6" r="1.45"/><circle cx="104" cy="748.5" r="1.45"/><circle cx="114" cy="828.7" r="1.45"/><circle cx="116.9" cy="825.8" r="1.45"/><circle cx="134.8" cy="873.2" r="1.45"/><circle cx="128.6" cy="838.1" r="1.45"/><circle cx="117.2" cy="822.1" r="1.45"/><circle cx="134.4" cy="833.4" r="1.45"/><circle cx="121.9" cy="838.6" r="1.45"/><circle cx="116.4" cy="833.1" r="1.45"/><circle cx="136.7" cy="873.1" r="1.45"/><circle cx="133.1" cy="843" r="1.45"/><circle cx="132.1" cy="856.2" r="1.45"/><circle cx="117.2" cy="802.7" r="1.45"/><circle cx="127.4" cy="848" r="1.45"/><circle cx="122.6" cy="822.9" r="1.45"/><circle cx="105.9" cy="782.4" r="1.45"/><circle cx="109.3" cy="855.4" r="1.45"/><circle cx="123.3" cy="838.8" r="1.45"/><circle cx="122.2" cy="824.7" r="1.45"/><circle cx="121.3" cy="834.1" r="1.45"/><circle cx="139.8" cy="869.9" r="1.45"/><circle cx="118.9" cy="817.2" r="1.45"/><circle cx="140.6" cy="869.4" r="1.45"/><circle cx="90.9" cy="748.9" r="1.45"/><circle cx="128.4" cy="834.9" r="1.45"/><circle cx="113" cy="810" r="1.45"/><circle cx="114.9" cy="777.4" r="1.45"/><circle cx="123.5" cy="870.5" r="1.45"/><circle cx="100.9" cy="784" r="1.45"/><circle cx="96.5" cy="734.7" r="1.45"/><circle cx="131.2" cy="834.8" r="1.45"/><circle cx="143.7" cy="843.9" r="1.45"/><circle cx="112.6" cy="781.8" r="1.45"/><circle cx="115.5" cy="788.8" r="1.45"/><circle cx="114.1" cy="783.8" r="1.45"/><circle cx="125.1" cy="852.1" r="1.45"/><circle cx="121.8" cy="816.5" r="1.45"/><circle cx="126.3" cy="860.9" r="1.45"/><circle cx="124.4" cy="840.6" r="1.45"/><circle cx="111.3" cy="831" r="1.45"/><circle cx="108.8" cy="780.2" r="1.45"/><circle cx="129.9" cy="850.7" r="1.45"/><circle cx="105.7" cy="818.9" r="1.45"/><circle cx="109.4" cy="795.5" r="1.45"/><circle cx="99.9" cy="871.9" r="1.45"/><circle cx="118" cy="841.3" r="1.45"/><circle cx="119.8" cy="781.9" r="1.45"/><circle cx="132.6" cy="845.9" r="1.45"/><circle cx="119.7" cy="854.4" r="1.45"/><circle cx="119.8" cy="824" r="1.45"/><circle cx="121.7" cy="849.2" r="1.45"/><circle cx="110.4" cy="778.9" r="1.45"/><circle cx="120.4" cy="810.7" r="1.45"/><circle cx="93.4" cy="722.6" r="1.45"/><circle cx="110.9" cy="862.2" r="1.45"/><circle cx="99.4" cy="748.9" r="1.45"/><circle cx="125.1" cy="839.2" r="1.45"/><circle cx="100.2" cy="730.4" r="1.45"/><circle cx="109.9" cy="786.5" r="1.45"/><circle cx="117.9" cy="822.4" r="1.45"/><circle cx="127.7" cy="822.1" r="1.45"/><circle cx="129.5" cy="871.7" r="1.45"/><circle cx="126.9" cy="837.3" r="1.45"/><circle cx="111.4" cy="829.3" r="1.45"/><circle cx="147.5" cy="862.6" r="1.45"/><circle cx="129.3" cy="821.8" r="1.45"/><circle cx="142.9" cy="859.4" r="1.45"/><circle cx="125" cy="868.7" r="1.45"/><circle cx="126.8" cy="834.3" r="1.45"/><circle cx="123.4" cy="834.7" r="1.45"/><circle cx="125.7" cy="871.5" r="1.45"/><circle cx="121.6" cy="835.7" r="1.45"/><circle cx="108.9" cy="758.8" r="1.45"/><circle cx="123.7" cy="861.4" r="1.45"/><circle cx="101.7" cy="752.8" r="1.45"/><circle cx="125.6" cy="835.3" r="1.45"/><circle cx="124.2" cy="870.9" r="1.45"/><circle cx="105.5" cy="842.7" r="1.45"/><circle cx="117.5" cy="814.9" r="1.45"/><circle cx="122" cy="851" r="1.45"/><circle cx="128.5" cy="834.6" r="1.45"/><circle cx="138.5" cy="870.5" r="1.45"/><circle cx="104.8" cy="754.2" r="1.45"/><circle cx="131.5" cy="822.2" r="1.45"/><circle cx="132.9" cy="849" r="1.45"/><circle cx="130" cy="871.3" r="1.45"/><circle cx="118.8" cy="843.6" r="1.45"/><circle cx="108.6" cy="783.6" r="1.45"/><circle cx="132.7" cy="871.7" r="1.45"/><circle cx="126.5" cy="847.9" r="1.45"/><circle cx="128" cy="819.5" r="1.45"/><circle cx="123.7" cy="865.9" r="1.45"/><circle cx="115.1" cy="844.2" r="1.45"/><circle cx="101.9" cy="781.8" r="1.45"/><circle cx="114.1" cy="817" r="1.45"/><circle cx="94.6" cy="720.1" r="1.45"/><circle cx="126.1" cy="838.7" r="1.45"/><circle cx="133.3" cy="829.4" r="1.45"/><circle cx="122.1" cy="800.1" r="1.45"/><circle cx="126.5" cy="825.6" r="1.45"/><circle cx="132.2" cy="839.1" r="1.45"/><circle cx="132.3" cy="851.4" r="1.45"/><circle cx="110.4" cy="781.6" r="1.45"/><circle cx="121.3" cy="808.4" r="1.45"/><circle cx="112.9" cy="854.1" r="1.45"/><circle cx="130.6" cy="838" r="1.45"/><circle cx="124.3" cy="832.9" r="1.45"/><circle cx="121.3" cy="853.9" r="1.45"/><circle cx="121.9" cy="809.6" r="1.45"/><circle cx="117.5" cy="834.6" r="1.45"/><circle cx="134.1" cy="868.5" r="1.45"/><circle cx="117.8" cy="842.6" r="1.45"/><circle cx="114.1" cy="854.3" r="1.45"/><circle cx="115.4" cy="801.3" r="1.45"/><circle cx="113.7" cy="834.4" r="1.45"/><circle cx="130.9" cy="851" r="1.45"/><circle cx="112.4" cy="806.1" r="1.45"/><circle cx="134.5" cy="835.4" r="1.45"/><circle cx="118.1" cy="791.8" r="1.45"/><circle cx="119.8" cy="808.9" r="1.45"/><circle cx="104" cy="801.5" r="1.45"/><circle cx="105.5" cy="775.3" r="1.45"/><circle cx="112.4" cy="820.9" r="1.45"/><circle cx="113.7" cy="786.7" r="1.45"/><circle cx="129.1" cy="864" r="1.45"/><circle cx="114.5" cy="797.6" r="1.45"/><circle cx="113.8" cy="778.1" r="1.45"/><circle cx="131" cy="855.9" r="1.45"/><circle cx="122.9" cy="813.1" r="1.45"/><circle cx="143.1" cy="859.6" r="1.45"/><circle cx="118.4" cy="804.6" r="1.45"/><circle cx="131.5" cy="846.8" r="1.45"/><circle cx="99.3" cy="742.8" r="1.45"/><circle cx="115.8" cy="807.3" r="1.45"/><circle cx="113.5" cy="810.8" r="1.45"/><circle cx="146.7" cy="872.7" r="1.45"/><circle cx="103.5" cy="793.9" r="1.45"/><circle cx="122.6" cy="850.3" r="1.45"/><circle cx="142.2" cy="861.1" r="1.45"/><circle cx="115.1" cy="847.3" r="1.45"/><circle cx="127.1" cy="849.8" r="1.45"/><circle cx="110.3" cy="784.3" r="1.45"/><circle cx="125.3" cy="863.3" r="1.45"/><circle cx="119.4" cy="813.4" r="1.45"/><circle cx="126.4" cy="842.4" r="1.45"/><circle cx="103.3" cy="760.1" r="1.45"/><circle cx="128.6" cy="849.9" r="1.45"/><circle cx="142.1" cy="864.1" r="1.45"/><circle cx="128.1" cy="846.3" r="1.45"/><circle cx="130.8" cy="837.7" r="1.45"/><circle cx="128.6" cy="866.5" r="1.45"/><circle cx="125.1" cy="835.9" r="1.45"/><circle cx="110.1" cy="769.8" r="1.45"/><circle cx="130.5" cy="856.2" r="1.45"/><circle cx="139.9" cy="857" r="1.45"/><circle cx="110.5" cy="800.9" r="1.45"/><circle cx="112.9" cy="824" r="1.45"/><circle cx="124.5" cy="857.8" r="1.45"/><circle cx="106.9" cy="766.8" r="1.45"/><circle cx="109" cy="780.6" r="1.45"/><circle cx="104.1" cy="779.5" r="1.45"/><circle cx="143.2" cy="870.2" r="1.45"/><circle cx="123.2" cy="829.6" r="1.45"/><circle cx="115.9" cy="866" r="1.45"/><circle cx="107.9" cy="795.5" r="1.45"/><circle cx="125.2" cy="835.1" r="1.45"/><circle cx="120.1" cy="853.5" r="1.45"/><circle cx="117.8" cy="822.4" r="1.45"/><circle cx="132.5" cy="849.3" r="1.45"/><circle cx="137.5" cy="873.1" r="1.45"/><circle cx="104.4" cy="758.3" r="1.45"/><circle cx="105.1" cy="785.8" r="1.45"/><circle cx="127" cy="850.3" r="1.45"/><circle cx="110.3" cy="776.2" r="1.45"/><circle cx="124.2" cy="857.6" r="1.45"/><circle cx="107.9" cy="820" r="1.45"/><circle cx="128.7" cy="867.8" r="1.45"/><circle cx="130" cy="836" r="1.45"/><circle cx="130.3" cy="852" r="1.45"/><circle cx="137.9" cy="860.6" r="1.45"/><circle cx="103.4" cy="770.1" r="1.45"/><circle cx="113.5" cy="804.5" r="1.45"/><circle cx="120.1" cy="814.1" r="1.45"/><circle cx="116.3" cy="808.9" r="1.45"/><circle cx="116.7" cy="839.5" r="1.45"/><circle cx="115.6" cy="806.9" r="1.45"/><circle cx="100.3" cy="764.3" r="1.45"/><circle cx="135.9" cy="868.6" r="1.45"/><circle cx="107.5" cy="765.2" r="1.45"/><circle cx="135.2" cy="859" r="1.45"/><circle cx="121.3" cy="856.2" r="1.45"/><circle cx="142.2" cy="859.1" r="1.45"/><circle cx="111.7" cy="846.4" r="1.45"/><circle cx="130.8" cy="841.9" r="1.45"/><circle cx="132.5" cy="873.5" r="1.45"/><circle cx="128.6" cy="834.9" r="1.45"/><circle cx="127.1" cy="860.5" r="1.45"/><circle cx="128.2" cy="858.7" r="1.45"/><circle cx="122.9" cy="873.6" r="1.45"/><circle cx="132.5" cy="812.2" r="1.45"/><circle cx="105.5" cy="766.1" r="1.45"/><circle cx="102" cy="761.6" r="1.45"/><circle cx="122.9" cy="820.1" r="1.45"/><circle cx="111.8" cy="787.6" r="1.45"/><circle cx="122" cy="841.7" r="1.45"/><circle cx="113.7" cy="811.3" r="1.45"/><circle cx="101.4" cy="733.8" r="1.45"/><circle cx="114.8" cy="855.1" r="1.45"/><circle cx="132.5" cy="860.8" r="1.45"/><circle cx="137.6" cy="868.2" r="1.45"/><circle cx="118.8" cy="813.6" r="1.45"/><circle cx="122" cy="836.4" r="1.45"/><circle cx="130.5" cy="832.2" r="1.45"/><circle cx="135.7" cy="856.5" r="1.45"/><circle cx="117.1" cy="797.7" r="1.45"/><circle cx="118" cy="823.6" r="1.45"/><circle cx="136" cy="869.4" r="1.45"/><circle cx="97.6" cy="712.9" r="1.45"/><circle cx="115.3" cy="793.9" r="1.45"/><circle cx="119.1" cy="868.2" r="1.45"/><circle cx="117.4" cy="870.9" r="1.45"/><circle cx="133.4" cy="855.1" r="1.45"/><circle cx="112.2" cy="791.9" r="1.45"/><circle cx="104.8" cy="739.1" r="1.45"/><circle cx="127.6" cy="851.5" r="1.45"/><circle cx="118.6" cy="807.4" r="1.45"/><circle cx="126" cy="833.2" r="1.45"/><circle cx="143.4" cy="873.2" r="1.45"/><circle cx="127.5" cy="850.8" r="1.45"/><circle cx="121.8" cy="800" r="1.45"/><circle cx="144.8" cy="857.6" r="1.45"/><circle cx="124.5" cy="812.2" r="1.45"/><circle cx="127" cy="862.4" r="1.45"/><circle cx="119.9" cy="851.1" r="1.45"/><circle cx="107.2" cy="768" r="1.45"/><circle cx="118.6" cy="817.1" r="1.45"/><circle cx="112.1" cy="808.9" r="1.45"/><circle cx="128.6" cy="811.4" r="1.45"/><circle cx="134.2" cy="846.2" r="1.45"/><circle cx="131.7" cy="843.7" r="1.45"/><circle cx="113.2" cy="822.1" r="1.45"/><circle cx="131.9" cy="863.4" r="1.45"/><circle cx="146.6" cy="872.4" r="1.45"/><circle cx="108.8" cy="775.7" r="1.45"/><circle cx="135.9" cy="853.5" r="1.45"/><circle cx="111" cy="834" r="1.45"/><circle cx="129.2" cy="822.7" r="1.45"/><circle cx="127.7" cy="795.6" r="1.45"/><circle cx="136.2" cy="873.6" r="1.45"/><circle cx="121" cy="872" r="1.45"/><circle cx="124.4" cy="870.4" r="1.45"/><circle cx="117.9" cy="836.5" r="1.45"/><circle cx="121.1" cy="798.6" r="1.45"/><circle cx="125.3" cy="832.9" r="1.45"/><circle cx="123.9" cy="818.1" r="1.45"/><circle cx="128.6" cy="850.5" r="1.45"/><circle cx="120.7" cy="831.8" r="1.45"/><circle cx="135" cy="862.6" r="1.45"/><circle cx="129.6" cy="845.6" r="1.45"/><circle cx="118.1" cy="807.3" r="1.45"/><circle cx="125.8" cy="848.7" r="1.45"/><circle cx="123.7" cy="840.3" r="1.45"/><circle cx="125.9" cy="806.5" r="1.45"/><circle cx="103.4" cy="762.6" r="1.45"/><circle cx="124.9" cy="839.7" r="1.45"/><circle cx="99.9" cy="792.8" r="1.45"/><circle cx="128.2" cy="849.5" r="1.45"/><circle cx="126.5" cy="838" r="1.45"/><circle cx="117.3" cy="839.4" r="1.45"/><circle cx="131.7" cy="869.6" r="1.45"/><circle cx="125.9" cy="844.5" r="1.45"/><circle cx="134.3" cy="855.4" r="1.45"/><circle cx="103.5" cy="773.3" r="1.45"/><circle cx="120.1" cy="823" r="1.45"/><circle cx="113.6" cy="775.5" r="1.45"/><circle cx="112.6" cy="773.9" r="1.45"/><circle cx="125.7" cy="858.3" r="1.45"/><circle cx="117.3" cy="842.9" r="1.45"/><circle cx="137.8" cy="866.9" r="1.45"/><circle cx="105.1" cy="781.1" r="1.45"/><circle cx="108.7" cy="872.6" r="1.45"/><circle cx="135.7" cy="838.7" r="1.45"/><circle cx="126.1" cy="829.9" r="1.45"/><circle cx="131.2" cy="872.2" r="1.45"/><circle cx="108.4" cy="768.2" r="1.45"/><circle cx="119.3" cy="838.4" r="1.45"/><circle cx="121.8" cy="864.7" r="1.45"/><circle cx="138.6" cy="873.3" r="1.45"/><circle cx="128" cy="825.7" r="1.45"/><circle cx="107.3" cy="765.1" r="1.45"/><circle cx="129.2" cy="824.2" r="1.45"/><circle cx="124.6" cy="805.3" r="1.45"/><circle cx="135.7" cy="866.2" r="1.45"/><circle cx="113.6" cy="782.5" r="1.45"/><circle cx="123.6" cy="869" r="1.45"/><circle cx="132.8" cy="870.4" r="1.45"/><circle cx="127.8" cy="854.6" r="1.45"/><circle cx="105.7" cy="748.9" r="1.45"/><circle cx="118.1" cy="804.1" r="1.45"/><circle cx="123.3" cy="871.3" r="1.45"/><circle cx="122.9" cy="833.3" r="1.45"/><circle cx="137.1" cy="830.4" r="1.45"/><circle cx="127" cy="841.8" r="1.45"/><circle cx="135.2" cy="852.3" r="1.45"/><circle cx="92.9" cy="732.5" r="1.45"/><circle cx="119.1" cy="849.9" r="1.45"/><circle cx="117" cy="839.9" r="1.45"/><circle cx="137.7" cy="865" r="1.45"/><circle cx="133.2" cy="858.6" r="1.45"/><circle cx="133.1" cy="819.1" r="1.45"/><circle cx="117.3" cy="838.3" r="1.45"/><circle cx="134.1" cy="852.7" r="1.45"/><circle cx="126.2" cy="835.2" r="1.45"/><circle cx="91.6" cy="714" r="1.45"/><circle cx="105" cy="779.1" r="1.45"/><circle cx="123.9" cy="847.9" r="1.45"/><circle cx="114.4" cy="794.8" r="1.45"/><circle cx="106.3" cy="789.2" r="1.45"/><circle cx="119.4" cy="821.8" r="1.45"/><circle cx="146.7" cy="865.7" r="1.45"/><circle cx="124.7" cy="826.1" r="1.45"/><circle cx="111.2" cy="787" r="1.45"/><circle cx="138.2" cy="873.6" r="1.45"/><circle cx="123.5" cy="840" r="1.45"/><circle cx="137.6" cy="867.1" r="1.45"/><circle cx="118.5" cy="802.2" r="1.45"/><circle cx="95.6" cy="734.4" r="1.45"/><circle cx="100.3" cy="719.8" r="1.45"/><circle cx="118.4" cy="863.7" r="1.45"/><circle cx="133.2" cy="836" r="1.45"/><circle cx="115.8" cy="800.2" r="1.45"/><circle cx="124.9" cy="827.1" r="1.45"/><circle cx="123.7" cy="851.1" r="1.45"/><circle cx="110.6" cy="775.6" r="1.45"/><circle cx="120.4" cy="817.6" r="1.45"/><circle cx="107.4" cy="772.7" r="1.45"/><circle cx="115.4" cy="830.9" r="1.45"/><circle cx="112.6" cy="794.6" r="1.45"/><circle cx="107.6" cy="774.5" r="1.45"/><circle cx="107.7" cy="783.8" r="1.45"/><circle cx="126.7" cy="805.5" r="1.45"/><circle cx="112.8" cy="792.7" r="1.45"/><circle cx="119" cy="815.5" r="1.45"/><circle cx="112" cy="843.1" r="1.45"/><circle cx="115.4" cy="827.2" r="1.45"/><circle cx="130.2" cy="836" r="1.45"/><circle cx="138.6" cy="866" r="1.45"/><circle cx="132.9" cy="842.2" r="1.45"/><circle cx="131.6" cy="855.4" r="1.45"/><circle cx="104.5" cy="742" r="1.45"/><circle cx="119.2" cy="844.6" r="1.45"/><circle cx="116.2" cy="856" r="1.45"/><circle cx="123.2" cy="830.3" r="1.45"/><circle cx="130.1" cy="851.1" r="1.45"/><circle cx="121.5" cy="807" r="1.45"/><circle cx="130.8" cy="838.5" r="1.45"/><circle cx="118" cy="834.7" r="1.45"/><circle cx="134.5" cy="866.6" r="1.45"/><circle cx="131.7" cy="847.1" r="1.45"/><circle cx="122.6" cy="859.3" r="1.45"/><circle cx="128" cy="859.9" r="1.45"/><circle cx="127.2" cy="832.9" r="1.45"/><circle cx="130.2" cy="860.5" r="1.45"/><circle cx="120.5" cy="807.5" r="1.45"/><circle cx="133.6" cy="857.6" r="1.45"/><circle cx="101.8" cy="774.6" r="1.45"/><circle cx="128.5" cy="821.5" r="1.45"/><circle cx="124.5" cy="825.1" r="1.45"/><circle cx="117.9" cy="802.5" r="1.45"/><circle cx="115.5" cy="802.1" r="1.45"/><circle cx="118.2" cy="801.7" r="1.45"/><circle cx="132.5" cy="842.6" r="1.45"/><circle cx="121.1" cy="833.2" r="1.45"/><circle cx="109.3" cy="788.8" r="1.45"/><circle cx="121.7" cy="815.7" r="1.45"/><circle cx="118" cy="783" r="1.45"/><circle cx="106.5" cy="784.7" r="1.45"/><circle cx="97.1" cy="744.4" r="1.45"/><circle cx="133.2" cy="866.5" r="1.45"/><circle cx="121.1" cy="791.9" r="1.45"/><circle cx="113.8" cy="834" r="1.45"/><circle cx="132" cy="865" r="1.45"/><circle cx="125.3" cy="865.6" r="1.45"/><circle cx="114.9" cy="870.5" r="1.45"/><circle cx="106.1" cy="757.3" r="1.45"/><circle cx="161" cy="867.6" r="1.45"/><circle cx="128.2" cy="867.1" r="1.45"/><circle cx="122.1" cy="852.3" r="1.45"/><circle cx="116.3" cy="826.9" r="1.45"/><circle cx="121.4" cy="822.1" r="1.45"/><circle cx="120.5" cy="815.6" r="1.45"/><circle cx="138.3" cy="871.4" r="1.45"/><circle cx="128.6" cy="839.1" r="1.45"/><circle cx="138.4" cy="857.9" r="1.45"/><circle cx="117.8" cy="832.6" r="1.45"/><circle cx="127.9" cy="866.7" r="1.45"/><circle cx="129.8" cy="824.7" r="1.45"/><circle cx="116" cy="822.3" r="1.45"/><circle cx="138.6" cy="866.3" r="1.45"/><circle cx="139.1" cy="867.9" r="1.45"/><circle cx="116.6" cy="796.1" r="1.45"/><circle cx="119.2" cy="870.5" r="1.45"/><circle cx="117.6" cy="823.1" r="1.45"/><circle cx="107.4" cy="786.1" r="1.45"/><circle cx="132.8" cy="862.3" r="1.45"/><circle cx="124.6" cy="855" r="1.45"/><circle cx="119.5" cy="799.1" r="1.45"/><circle cx="124" cy="869.9" r="1.45"/><circle cx="106.3" cy="789" r="1.45"/><circle cx="135" cy="871.9" r="1.45"/><circle cx="112.5" cy="798.2" r="1.45"/><circle cx="139.8" cy="865" r="1.45"/><circle cx="121.7" cy="816" r="1.45"/><circle cx="119.3" cy="853.8" r="1.45"/><circle cx="115.8" cy="800.1" r="1.45"/><circle cx="122.3" cy="818.1" r="1.45"/><circle cx="126.4" cy="845.5" r="1.45"/><circle cx="128" cy="830.5" r="1.45"/><circle cx="132.7" cy="838.5" r="1.45"/><circle cx="110.7" cy="796.1" r="1.45"/><circle cx="118.5" cy="797.6" r="1.45"/><circle cx="114" cy="805.5" r="1.45"/><circle cx="127.9" cy="863.7" r="1.45"/><circle cx="122.5" cy="814.4" r="1.45"/><circle cx="115.6" cy="778.1" r="1.45"/><circle cx="142.5" cy="847.4" r="1.45"/><circle cx="112.4" cy="785.6" r="1.45"/><circle cx="104.1" cy="784.9" r="1.45"/><circle cx="119.7" cy="824.3" r="1.45"/><circle cx="107.6" cy="813.4" r="1.45"/><circle cx="126" cy="836.5" r="1.45"/><circle cx="113.9" cy="790.2" r="1.45"/><circle cx="121.1" cy="837.2" r="1.45"/><circle cx="113.5" cy="794.9" r="1.45"/><circle cx="126.2" cy="838.3" r="1.45"/><circle cx="113" cy="767.2" r="1.45"/><circle cx="128.8" cy="867.3" r="1.45"/><circle cx="125.2" cy="830.4" r="1.45"/><circle cx="119.9" cy="829.7" r="1.45"/><circle cx="123.3" cy="853.2" r="1.45"/><circle cx="114.4" cy="800.7" r="1.45"/><circle cx="128.8" cy="854" r="1.45"/><circle cx="128.2" cy="853.8" r="1.45"/><circle cx="112.6" cy="804.4" r="1.45"/><circle cx="113.2" cy="798.3" r="1.45"/><circle cx="149.3" cy="870.9" r="1.45"/><circle cx="117.7" cy="828.5" r="1.45"/><circle cx="115.4" cy="804.1" r="1.45"/><circle cx="119.8" cy="857.8" r="1.45"/><circle cx="116.2" cy="825.4" r="1.45"/><circle cx="119.8" cy="843.5" r="1.45"/><circle cx="117.1" cy="820.7" r="1.45"/><circle cx="124" cy="834.4" r="1.45"/><circle cx="134.7" cy="872" r="1.45"/><circle cx="110.7" cy="778.1" r="1.45"/><circle cx="111.9" cy="787.9" r="1.45"/><circle cx="105.9" cy="812.8" r="1.45"/><circle cx="121.2" cy="808" r="1.45"/><circle cx="135.7" cy="857.1" r="1.45"/><circle cx="114.5" cy="868.3" r="1.45"/><circle cx="116.1" cy="789" r="1.45"/><circle cx="127.5" cy="868.8" r="1.45"/><circle cx="118" cy="830.5" r="1.45"/><circle cx="131.5" cy="852.9" r="1.45"/><circle cx="121.4" cy="853.4" r="1.45"/><circle cx="132.4" cy="868" r="1.45"/><circle cx="116.9" cy="798" r="1.45"/><circle cx="141" cy="853.6" r="1.45"/><circle cx="126.9" cy="866.7" r="1.45"/><circle cx="114.9" cy="829.8" r="1.45"/><circle cx="117.9" cy="822.9" r="1.45"/><circle cx="132.1" cy="849.6" r="1.45"/><circle cx="116.6" cy="803.5" r="1.45"/><circle cx="117.4" cy="805.5" r="1.45"/><circle cx="115.2" cy="794.9" r="1.45"/><circle cx="101.3" cy="767.1" r="1.45"/><circle cx="139.4" cy="856" r="1.45"/><circle cx="110.8" cy="787" r="1.45"/><circle cx="106.4" cy="756.4" r="1.45"/><circle cx="129.4" cy="867.5" r="1.45"/><circle cx="108.7" cy="798.1" r="1.45"/><circle cx="123.4" cy="820.8" r="1.45"/><circle cx="121.9" cy="826.9" r="1.45"/><circle cx="106.6" cy="791.6" r="1.45"/><circle cx="139.1" cy="859.2" r="1.45"/><circle cx="140" cy="855.8" r="1.45"/><circle cx="158.9" cy="868.8" r="1.45"/><circle cx="114.6" cy="807.4" r="1.45"/><circle cx="120.4" cy="824.9" r="1.45"/><circle cx="125" cy="833.9" r="1.45"/><circle cx="105.6" cy="772" r="1.45"/><circle cx="121.1" cy="825.4" r="1.45"/><circle cx="129.7" cy="852.3" r="1.45"/><circle cx="107" cy="758.8" r="1.45"/><circle cx="102.6" cy="777.2" r="1.45"/><circle cx="119.5" cy="858.1" r="1.45"/><circle cx="116.5" cy="813.8" r="1.45"/><circle cx="118.2" cy="823.6" r="1.45"/><circle cx="121.2" cy="805.2" r="1.45"/><circle cx="139.5" cy="849.8" r="1.45"/><circle cx="121" cy="805.6" r="1.45"/><circle cx="144.9" cy="861.1" r="1.45"/><circle cx="114.2" cy="788.1" r="1.45"/><circle cx="120.2" cy="828.9" r="1.45"/><circle cx="113.6" cy="817.2" r="1.45"/><circle cx="113.1" cy="809.3" r="1.45"/><circle cx="123.9" cy="822.8" r="1.45"/><circle cx="124.4" cy="798" r="1.45"/><circle cx="121.3" cy="822.4" r="1.45"/><circle cx="107.5" cy="794.2" r="1.45"/><circle cx="129.1" cy="872.8" r="1.45"/><circle cx="115.1" cy="784.5" r="1.45"/><circle cx="133.3" cy="868.1" r="1.45"/><circle cx="102" cy="749.8" r="1.45"/><circle cx="135.3" cy="862.5" r="1.45"/><circle cx="110.9" cy="811" r="1.45"/><circle cx="135.2" cy="869.6" r="1.45"/><circle cx="124.9" cy="844.6" r="1.45"/><circle cx="107.6" cy="788.3" r="1.45"/><circle cx="118.4" cy="867.7" r="1.45"/><circle cx="117.1" cy="818.4" r="1.45"/><circle cx="112.3" cy="821.3" r="1.45"/><circle cx="107.5" cy="785.9" r="1.45"/><circle cx="98.3" cy="752.7" r="1.45"/><circle cx="126.6" cy="793.4" r="1.45"/><circle cx="125.9" cy="820.2" r="1.45"/><circle cx="132.5" cy="864.2" r="1.45"/><circle cx="117.8" cy="859.8" r="1.45"/><circle cx="140" cy="824.7" r="1.45"/><circle cx="127.8" cy="868" r="1.45"/><circle cx="138.8" cy="873.2" r="1.45"/><circle cx="114.4" cy="853.2" r="1.45"/><circle cx="127.6" cy="829.6" r="1.45"/><circle cx="129.5" cy="865.6" r="1.45"/><circle cx="119.6" cy="840.3" r="1.45"/><circle cx="121.9" cy="872.3" r="1.45"/><circle cx="131.9" cy="863.1" r="1.45"/><circle cx="132" cy="834.5" r="1.45"/><circle cx="116" cy="792.1" r="1.45"/><circle cx="117.3" cy="804.7" r="1.45"/><circle cx="134.5" cy="839.1" r="1.45"/><circle cx="112.2" cy="776.9" r="1.45"/><circle cx="134.8" cy="846.1" r="1.45"/><circle cx="105.5" cy="758.2" r="1.45"/><circle cx="126.3" cy="841.2" r="1.45"/><circle cx="101.4" cy="750.5" r="1.45"/><circle cx="110.9" cy="770.7" r="1.45"/><circle cx="138.4" cy="849.8" r="1.45"/><circle cx="120.8" cy="834.3" r="1.45"/><circle cx="114" cy="872.8" r="1.45"/><circle cx="119.6" cy="785.2" r="1.45"/><circle cx="111.1" cy="790.8" r="1.45"/><circle cx="125.3" cy="869.4" r="1.45"/><circle cx="128.8" cy="820.7" r="1.45"/><circle cx="146.3" cy="854.5" r="1.45"/><circle cx="116.4" cy="843.2" r="1.45"/><circle cx="110.4" cy="796.4" r="1.45"/><circle cx="118.8" cy="818.6" r="1.45"/><circle cx="109.7" cy="837.3" r="1.45"/><circle cx="120.7" cy="842.4" r="1.45"/><circle cx="112.7" cy="797.9" r="1.45"/><circle cx="113.5" cy="779.8" r="1.45"/><circle cx="118.7" cy="857" r="1.45"/><circle cx="124.9" cy="865.2" r="1.45"/><circle cx="104.7" cy="772.4" r="1.45"/><circle cx="137" cy="836.5" r="1.45"/><circle cx="139.6" cy="862.6" r="1.45"/><circle cx="106.6" cy="781.2" r="1.45"/><circle cx="137.1" cy="856.9" r="1.45"/><circle cx="126" cy="827.8" r="1.45"/><circle cx="122.8" cy="838.4" r="1.45"/><circle cx="106.3" cy="765.6" r="1.45"/><circle cx="119.2" cy="804.6" r="1.45"/><circle cx="119.7" cy="819.6" r="1.45"/><circle cx="128.4" cy="867.6" r="1.45"/><circle cx="110.6" cy="788.4" r="1.45"/><circle cx="98.3" cy="743.7" r="1.45"/><circle cx="105.6" cy="828" r="1.45"/><circle cx="112.9" cy="781.4" r="1.45"/><circle cx="107.3" cy="865.6" r="1.45"/><circle cx="110.5" cy="766.8" r="1.45"/><circle cx="127.5" cy="830.3" r="1.45"/><circle cx="115.1" cy="815.2" r="1.45"/><circle cx="112.9" cy="791.6" r="1.45"/><circle cx="115.1" cy="785.2" r="1.45"/><circle cx="132.2" cy="849.9" r="1.45"/><circle cx="116.4" cy="812.6" r="1.45"/><circle cx="113.3" cy="828.7" r="1.45"/><circle cx="127.8" cy="867.4" r="1.45"/><circle cx="136.8" cy="860.2" r="1.45"/><circle cx="131.5" cy="856.2" r="1.45"/><circle cx="118.6" cy="858.4" r="1.45"/><circle cx="110.8" cy="760.7" r="1.45"/><circle cx="113.8" cy="810.9" r="1.45"/><circle cx="127.3" cy="847.4" r="1.45"/><circle cx="103.1" cy="735.4" r="1.45"/><circle cx="109.9" cy="791.4" r="1.45"/><circle cx="114" cy="863" r="1.45"/><circle cx="124.3" cy="873.2" r="1.45"/><circle cx="115.6" cy="792.4" r="1.45"/><circle cx="107.4" cy="776.7" r="1.45"/><circle cx="109.5" cy="796.4" r="1.45"/><circle cx="133.1" cy="847.6" r="1.45"/><circle cx="110.5" cy="799.4" r="1.45"/><circle cx="113.8" cy="824.7" r="1.45"/><circle cx="125.7" cy="872.2" r="1.45"/><circle cx="99.5" cy="737.7" r="1.45"/><circle cx="114.4" cy="827" r="1.45"/><circle cx="136.4" cy="851.1" r="1.45"/><circle cx="114.4" cy="792.5" r="1.45"/><circle cx="120.2" cy="808.2" r="1.45"/><circle cx="117.3" cy="807.4" r="1.45"/><circle cx="101.3" cy="767.1" r="1.45"/><circle cx="128" cy="865.6" r="1.45"/><circle cx="159.2" cy="854.5" r="1.45"/><circle cx="126.1" cy="840.9" r="1.45"/><circle cx="126.1" cy="826.8" r="1.45"/><circle cx="116.5" cy="862.8" r="1.45"/><circle cx="125.1" cy="852.5" r="1.45"/><circle cx="131.2" cy="850.6" r="1.45"/><circle cx="105" cy="850.5" r="1.45"/><circle cx="115.4" cy="838.6" r="1.45"/><circle cx="125.4" cy="791.9" r="1.45"/><circle cx="113.6" cy="806.7" r="1.45"/><circle cx="94.7" cy="709.8" r="1.45"/><circle cx="124.2" cy="855.8" r="1.45"/><circle cx="122.6" cy="820.6" r="1.45"/><circle cx="140.3" cy="858" r="1.45"/><circle cx="123.6" cy="837.4" r="1.45"/><circle cx="109" cy="763.4" r="1.45"/><circle cx="111" cy="865.1" r="1.45"/><circle cx="120.9" cy="843.7" r="1.45"/><circle cx="134.7" cy="859.1" r="1.45"/><circle cx="113.4" cy="790.1" r="1.45"/><circle cx="128.6" cy="855.3" r="1.45"/><circle cx="137.4" cy="872" r="1.45"/><circle cx="136.6" cy="865.8" r="1.45"/><circle cx="125.1" cy="830.5" r="1.45"/><circle cx="147.7" cy="873.4" r="1.45"/><circle cx="96.2" cy="741.8" r="1.45"/><circle cx="121.3" cy="831.3" r="1.45"/><circle cx="119.4" cy="841.8" r="1.45"/><circle cx="131.2" cy="841.7" r="1.45"/><circle cx="118" cy="868" r="1.45"/><circle cx="145.7" cy="869.9" r="1.45"/><circle cx="124.4" cy="845.4" r="1.45"/><circle cx="107.7" cy="819.2" r="1.45"/><circle cx="121" cy="839.1" r="1.45"/><circle cx="129.6" cy="860.8" r="1.45"/><circle cx="99.8" cy="758.2" r="1.45"/><circle cx="131.6" cy="851.1" r="1.45"/><circle cx="105.6" cy="768.5" r="1.45"/><circle cx="124.4" cy="842.3" r="1.45"/><circle cx="129.9" cy="853.6" r="1.45"/><circle cx="128.1" cy="858.1" r="1.45"/><circle cx="129" cy="872.2" r="1.45"/><circle cx="149.5" cy="860.8" r="1.45"/><circle cx="108.4" cy="806.8" r="1.45"/><circle cx="134.4" cy="868" r="1.45"/><circle cx="125.1" cy="842" r="1.45"/><circle cx="118.2" cy="801.6" r="1.45"/><circle cx="120.2" cy="826.9" r="1.45"/><circle cx="127" cy="818.2" r="1.45"/><circle cx="109.4" cy="757.9" r="1.45"/><circle cx="121" cy="821.5" r="1.45"/><circle cx="138.7" cy="866.5" r="1.45"/><circle cx="104.5" cy="766.8" r="1.45"/><circle cx="157.7" cy="861.7" r="1.45"/><circle cx="155.5" cy="856.5" r="1.45"/><circle cx="98.9" cy="696.6" r="1.45"/><circle cx="153.9" cy="857.5" r="1.45"/><circle cx="130.8" cy="809.7" r="1.45"/><circle cx="152.4" cy="849.5" r="1.45"/><circle cx="111" cy="757.8" r="1.45"/><circle cx="114.3" cy="759.4" r="1.45"/><circle cx="117.9" cy="762.6" r="1.45"/><circle cx="115.3" cy="775.3" r="1.45"/><circle cx="144.4" cy="853.4" r="1.45"/><circle cx="138.3" cy="826.3" r="1.45"/><circle cx="131.4" cy="806.8" r="1.45"/><circle cx="155.6" cy="868.6" r="1.45"/><circle cx="154.9" cy="834.3" r="1.45"/><circle cx="137" cy="825.3" r="1.45"/><circle cx="116.3" cy="757.1" r="1.45"/><circle cx="145.8" cy="814.5" r="1.45"/><circle cx="153.6" cy="849.9" r="1.45"/><circle cx="143" cy="822.3" r="1.45"/><circle cx="123.5" cy="777.1" r="1.45"/><circle cx="124.9" cy="798.9" r="1.45"/><circle cx="137.1" cy="830.2" r="1.45"/><circle cx="146.6" cy="842.4" r="1.45"/><circle cx="121.2" cy="756.7" r="1.45"/><circle cx="159.8" cy="865" r="1.45"/><circle cx="117.6" cy="783.2" r="1.45"/><circle cx="131.6" cy="782.3" r="1.45"/><circle cx="145.5" cy="836.1" r="1.45"/><circle cx="162.1" cy="866.9" r="1.45"/><circle cx="115.5" cy="762.4" r="1.45"/><circle cx="142.8" cy="841.3" r="1.45"/><circle cx="130.3" cy="768.3" r="1.45"/><circle cx="140.9" cy="826.6" r="1.45"/><circle cx="134.4" cy="809.9" r="1.45"/><circle cx="140.3" cy="816.6" r="1.45"/><circle cx="127.3" cy="790" r="1.45"/><circle cx="142.5" cy="852" r="1.45"/><circle cx="137.7" cy="825.7" r="1.45"/><circle cx="127.6" cy="806.8" r="1.45"/><circle cx="148.5" cy="855.4" r="1.45"/><circle cx="133.5" cy="817.5" r="1.45"/><circle cx="135.4" cy="807" r="1.45"/><circle cx="142.3" cy="825.7" r="1.45"/><circle cx="141.2" cy="800.1" r="1.45"/><circle cx="109.6" cy="754.3" r="1.45"/><circle cx="113" cy="721.9" r="1.45"/><circle cx="118.2" cy="778.2" r="1.45"/><circle cx="171.2" cy="872.5" r="1.45"/><circle cx="132.8" cy="773.9" r="1.45"/><circle cx="146.6" cy="870.7" r="1.45"/><circle cx="126.5" cy="771.8" r="1.45"/><circle cx="144.5" cy="801.4" r="1.45"/><circle cx="143.4" cy="812.9" r="1.45"/><circle cx="134.3" cy="821.3" r="1.45"/><circle cx="138.2" cy="816.4" r="1.45"/><circle cx="153.8" cy="865.7" r="1.45"/><circle cx="104.5" cy="732.1" r="1.45"/><circle cx="152.6" cy="837.3" r="1.45"/><circle cx="142.3" cy="854.3" r="1.45"/><circle cx="102.7" cy="725.8" r="1.45"/><circle cx="134.4" cy="795.3" r="1.45"/><circle cx="139.6" cy="842.7" r="1.45"/><circle cx="137.4" cy="812.1" r="1.45"/><circle cx="122.6" cy="792.3" r="1.45"/><circle cx="159.7" cy="869.1" r="1.45"/><circle cx="138" cy="809.1" r="1.45"/><circle cx="119" cy="762.7" r="1.45"/><circle cx="134.1" cy="829.1" r="1.45"/><circle cx="121" cy="793" r="1.45"/><circle cx="121.6" cy="765.9" r="1.45"/><circle cx="109.8" cy="761" r="1.45"/><circle cx="149.5" cy="826.5" r="1.45"/><circle cx="115.9" cy="762" r="1.45"/><circle cx="134.6" cy="799.5" r="1.45"/><circle cx="123.4" cy="782.7" r="1.45"/><circle cx="152.5" cy="855.8" r="1.45"/><circle cx="124.2" cy="772.7" r="1.45"/><circle cx="133.6" cy="811.2" r="1.45"/><circle cx="127.8" cy="786.4" r="1.45"/><circle cx="123.4" cy="768.4" r="1.45"/><circle cx="153.1" cy="848.6" r="1.45"/><circle cx="141.4" cy="820.4" r="1.45"/><circle cx="135.3" cy="833.4" r="1.45"/><circle cx="122.6" cy="770.6" r="1.45"/><circle cx="112.6" cy="759.8" r="1.45"/><circle cx="110.8" cy="759.6" r="1.45"/><circle cx="177.5" cy="868.4" r="1.45"/><circle cx="106.5" cy="726.6" r="1.45"/><circle cx="141.5" cy="802.7" r="1.45"/><circle cx="155.1" cy="831.4" r="1.45"/><circle cx="152.3" cy="834.5" r="1.45"/><circle cx="145.2" cy="795.3" r="1.45"/><circle cx="147.3" cy="849.1" r="1.45"/><circle cx="111.9" cy="753.7" r="1.45"/><circle cx="152" cy="860.2" r="1.45"/><circle cx="147" cy="864.3" r="1.45"/><circle cx="127.5" cy="785" r="1.45"/><circle cx="129.2" cy="799.8" r="1.45"/><circle cx="132.1" cy="806.8" r="1.45"/><circle cx="147.9" cy="870.5" r="1.45"/><circle cx="144.2" cy="860.7" r="1.45"/><circle cx="136.2" cy="831.1" r="1.45"/><circle cx="152.3" cy="873.8" r="1.45"/><circle cx="148.9" cy="872.9" r="1.45"/><circle cx="139.4" cy="811.7" r="1.45"/><circle cx="154.2" cy="849.1" r="1.45"/><circle cx="109.3" cy="728.3" r="1.45"/><circle cx="138.7" cy="832" r="1.45"/><circle cx="151.5" cy="869.4" r="1.45"/><circle cx="129.4" cy="772.7" r="1.45"/><circle cx="138.9" cy="817.8" r="1.45"/><circle cx="117.7" cy="770" r="1.45"/><circle cx="110.2" cy="756.8" r="1.45"/><circle cx="120.7" cy="753.5" r="1.45"/><circle cx="162.2" cy="871.4" r="1.45"/><circle cx="145.5" cy="871.9" r="1.45"/><circle cx="139.6" cy="851" r="1.45"/><circle cx="139.6" cy="844.3" r="1.45"/><circle cx="144.2" cy="864.3" r="1.45"/><circle cx="143.2" cy="860" r="1.45"/><circle cx="144.1" cy="864.2" r="1.45"/><circle cx="111.2" cy="746.4" r="1.45"/><circle cx="134.4" cy="826.7" r="1.45"/><circle cx="127.4" cy="811.4" r="1.45"/><circle cx="139.5" cy="849.6" r="1.45"/><circle cx="141.2" cy="824.6" r="1.45"/><circle cx="132.2" cy="781.8" r="1.45"/><circle cx="152.2" cy="850.3" r="1.45"/><circle cx="146.7" cy="864.1" r="1.45"/><circle cx="139.7" cy="849" r="1.45"/><circle cx="128.8" cy="805" r="1.45"/><circle cx="118.9" cy="762.5" r="1.45"/><circle cx="142.9" cy="863.6" r="1.45"/><circle cx="153.9" cy="873" r="1.45"/><circle cx="115.4" cy="761.4" r="1.45"/><circle cx="125.4" cy="805.6" r="1.45"/><circle cx="157.8" cy="849" r="1.45"/><circle cx="157.9" cy="867.9" r="1.45"/><circle cx="153.1" cy="845.4" r="1.45"/><circle cx="144.1" cy="838.8" r="1.45"/><circle cx="137.5" cy="794.2" r="1.45"/><circle cx="127.1" cy="810.4" r="1.45"/><circle cx="175.3" cy="860.1" r="1.45"/><circle cx="169.4" cy="871" r="1.45"/><circle cx="120.9" cy="788.9" r="1.45"/><circle cx="120.9" cy="784" r="1.45"/><circle cx="135.9" cy="824.5" r="1.45"/><circle cx="109" cy="736.7" r="1.45"/><circle cx="124.2" cy="778.9" r="1.45"/><circle cx="149.9" cy="839.5" r="1.45"/><circle cx="138.4" cy="778.8" r="1.45"/><circle cx="149.3" cy="863.6" r="1.45"/><circle cx="109.8" cy="751.1" r="1.45"/><circle cx="144.2" cy="828" r="1.45"/><circle cx="129" cy="794" r="1.45"/><circle cx="98.5" cy="696.5" r="1.45"/><circle cx="125.5" cy="801.1" r="1.45"/><circle cx="107.7" cy="722.4" r="1.45"/><circle cx="140.9" cy="853.5" r="1.45"/><circle cx="136.7" cy="819.8" r="1.45"/><circle cx="149.1" cy="837.9" r="1.45"/><circle cx="153.3" cy="818.3" r="1.45"/><circle cx="133.8" cy="815.1" r="1.45"/><circle cx="144.2" cy="855.9" r="1.45"/><circle cx="149.6" cy="866.7" r="1.45"/><circle cx="125" cy="776.6" r="1.45"/><circle cx="127" cy="810.2" r="1.45"/><circle cx="141.3" cy="851.6" r="1.45"/><circle cx="162.9" cy="871.7" r="1.45"/><circle cx="150.3" cy="846.7" r="1.45"/><circle cx="110.7" cy="732.9" r="1.45"/><circle cx="146.7" cy="841.5" r="1.45"/><circle cx="121.9" cy="759" r="1.45"/><circle cx="103.3" cy="713.9" r="1.45"/><circle cx="141.2" cy="845.3" r="1.45"/><circle cx="146.5" cy="858" r="1.45"/><circle cx="117.2" cy="772.8" r="1.45"/><circle cx="139.2" cy="796.2" r="1.45"/><circle cx="127.8" cy="800.4" r="1.45"/><circle cx="145.4" cy="847.2" r="1.45"/><circle cx="142.6" cy="857" r="1.45"/><circle cx="115.3" cy="749.8" r="1.45"/><circle cx="123" cy="772.2" r="1.45"/><circle cx="143.5" cy="861" r="1.45"/><circle cx="122.8" cy="785.6" r="1.45"/><circle cx="107.1" cy="741.5" r="1.45"/><circle cx="128.9" cy="808.1" r="1.45"/><circle cx="111.3" cy="766.5" r="1.45"/><circle cx="101.5" cy="732.3" r="1.45"/><circle cx="142.5" cy="853.7" r="1.45"/><circle cx="148" cy="854.3" r="1.45"/><circle cx="128.8" cy="780.9" r="1.45"/><circle cx="137.8" cy="839.5" r="1.45"/><circle cx="133.5" cy="812.7" r="1.45"/><circle cx="143.8" cy="829.6" r="1.45"/><circle cx="148.8" cy="873.2" r="1.45"/><circle cx="149.8" cy="860.8" r="1.45"/><circle cx="132.6" cy="796.5" r="1.45"/><circle cx="119.7" cy="777.2" r="1.45"/><circle cx="106.8" cy="735.3" r="1.45"/><circle cx="123.7" cy="776.3" r="1.45"/><circle cx="135.6" cy="817.7" r="1.45"/><circle cx="143" cy="854.2" r="1.45"/><circle cx="143.3" cy="862.3" r="1.45"/><circle cx="131.6" cy="814.5" r="1.45"/><circle cx="115.9" cy="777.4" r="1.45"/><circle cx="117" cy="777.5" r="1.45"/><circle cx="129.1" cy="782.9" r="1.45"/><circle cx="166.6" cy="835" r="1.45"/><circle cx="155.4" cy="851" r="1.45"/><circle cx="152.7" cy="868.1" r="1.45"/><circle cx="147.7" cy="870.2" r="1.45"/><circle cx="144.8" cy="820" r="1.45"/><circle cx="139.6" cy="848.1" r="1.45"/><circle cx="130.1" cy="803.9" r="1.45"/><circle cx="132" cy="818.8" r="1.45"/><circle cx="146.8" cy="848.1" r="1.45"/><circle cx="146.2" cy="865.1" r="1.45"/><circle cx="130.3" cy="807.9" r="1.45"/><circle cx="163" cy="867.3" r="1.45"/><circle cx="123" cy="787.2" r="1.45"/><circle cx="107" cy="749.3" r="1.45"/><circle cx="118.6" cy="781.3" r="1.45"/><circle cx="152.7" cy="872.7" r="1.45"/><circle cx="143.1" cy="838.2" r="1.45"/><circle cx="141.5" cy="812.3" r="1.45"/><circle cx="146.5" cy="806.2" r="1.45"/><circle cx="157.4" cy="865.3" r="1.45"/><circle cx="98" cy="706.4" r="1.45"/><circle cx="156" cy="851.8" r="1.45"/><circle cx="151.6" cy="859.9" r="1.45"/><circle cx="117.8" cy="765" r="1.45"/><circle cx="123.5" cy="788.8" r="1.45"/><circle cx="137.8" cy="834.6" r="1.45"/><circle cx="138.2" cy="838.2" r="1.45"/><circle cx="117.5" cy="752.3" r="1.45"/><circle cx="137.3" cy="818.2" r="1.45"/><circle cx="125.5" cy="798.8" r="1.45"/><circle cx="125" cy="791.1" r="1.45"/><circle cx="154.3" cy="873.6" r="1.45"/><circle cx="148.7" cy="848" r="1.45"/><circle cx="142" cy="820.5" r="1.45"/><circle cx="150.3" cy="871.5" r="1.45"/><circle cx="129.5" cy="811.2" r="1.45"/><circle cx="159.9" cy="859.7" r="1.45"/><circle cx="99.4" cy="722.4" r="1.45"/><circle cx="114.1" cy="759.9" r="1.45"/><circle cx="132.8" cy="791.5" r="1.45"/><circle cx="144.9" cy="829" r="1.45"/><circle cx="163.2" cy="862.3" r="1.45"/><circle cx="130.8" cy="816.9" r="1.45"/><circle cx="133.7" cy="815.9" r="1.45"/><circle cx="108.9" cy="753.9" r="1.45"/><circle cx="97.7" cy="700.9" r="1.45"/><circle cx="138.8" cy="846.8" r="1.45"/><circle cx="145.5" cy="855.7" r="1.45"/><circle cx="140.3" cy="844" r="1.45"/><circle cx="145.7" cy="864.7" r="1.45"/><circle cx="135.7" cy="792.6" r="1.45"/><circle cx="112.6" cy="751.3" r="1.45"/><circle cx="120" cy="755.4" r="1.45"/><circle cx="170.4" cy="856.4" r="1.45"/><circle cx="146.1" cy="868.4" r="1.45"/><circle cx="111" cy="739" r="1.45"/><circle cx="143.7" cy="827.4" r="1.45"/><circle cx="142.8" cy="829.5" r="1.45"/><circle cx="129" cy="789.6" r="1.45"/><circle cx="115.9" cy="739" r="1.45"/><circle cx="123.8" cy="778.3" r="1.45"/><circle cx="147.2" cy="777.3" r="1.45"/><circle cx="158.2" cy="863.2" r="1.45"/><circle cx="165.2" cy="794" r="1.45"/><circle cx="154.7" cy="795.7" r="1.45"/><circle cx="154.4" cy="816.1" r="1.45"/><circle cx="152.6" cy="824.1" r="1.45"/><circle cx="157.3" cy="696.1" r="1.45"/><circle cx="154.9" cy="808.8" r="1.45"/><circle cx="146.1" cy="823.6" r="1.45"/><circle cx="142" cy="802.2" r="1.45"/><circle cx="153.2" cy="804.4" r="1.45"/><circle cx="161.1" cy="808.9" r="1.45"/><circle cx="153.4" cy="701.6" r="1.45"/><circle cx="148.1" cy="729.2" r="1.45"/><circle cx="146.9" cy="724.9" r="1.45"/><circle cx="162.1" cy="701.1" r="1.45"/><circle cx="154.7" cy="830" r="1.45"/><circle cx="165.5" cy="834.5" r="1.45"/><circle cx="151.5" cy="859.6" r="1.45"/><circle cx="160.2" cy="686.3" r="1.45"/><circle cx="173.5" cy="753.6" r="1.45"/><circle cx="166.2" cy="824.9" r="1.45"/><circle cx="150.1" cy="844.8" r="1.45"/><circle cx="154.6" cy="842.8" r="1.45"/><circle cx="149.7" cy="858.3" r="1.45"/><circle cx="154.6" cy="851.8" r="1.45"/><circle cx="150" cy="742.4" r="1.45"/><circle cx="167" cy="793.8" r="1.45"/><circle cx="161.5" cy="706.9" r="1.45"/><circle cx="160.2" cy="820.3" r="1.45"/><circle cx="163.8" cy="786.4" r="1.45"/><circle cx="154.1" cy="762.7" r="1.45"/><circle cx="144.2" cy="832.5" r="1.45"/><circle cx="152.3" cy="722.1" r="1.45"/><circle cx="157.9" cy="702.4" r="1.45"/><circle cx="164.5" cy="730.2" r="1.45"/><circle cx="163.4" cy="736.6" r="1.45"/><circle cx="163.6" cy="696.2" r="1.45"/><circle cx="155.1" cy="761.1" r="1.45"/><circle cx="149.9" cy="725.8" r="1.45"/><circle cx="154.2" cy="781.5" r="1.45"/><circle cx="162.7" cy="820.9" r="1.45"/><circle cx="160.9" cy="805.6" r="1.45"/><circle cx="144.7" cy="755.9" r="1.45"/><circle cx="155.6" cy="808.7" r="1.45"/><circle cx="152.9" cy="687.1" r="1.45"/><circle cx="154" cy="843.9" r="1.45"/><circle cx="153.5" cy="764.7" r="1.45"/><circle cx="155" cy="855.5" r="1.45"/><circle cx="155.6" cy="732.1" r="1.45"/><circle cx="151" cy="859.2" r="1.45"/><circle cx="148.8" cy="726.1" r="1.45"/><circle cx="172.9" cy="763.1" r="1.45"/><circle cx="153.9" cy="847.2" r="1.45"/><circle cx="162.8" cy="734.2" r="1.45"/><circle cx="164.5" cy="753.3" r="1.45"/><circle cx="151.4" cy="799.4" r="1.45"/><circle cx="165.3" cy="823.5" r="1.45"/><circle cx="152.6" cy="792.5" r="1.45"/><circle cx="154.6" cy="717.5" r="1.45"/><circle cx="158" cy="752.8" r="1.45"/><circle cx="155.2" cy="810.6" r="1.45"/><circle cx="155.5" cy="752.6" r="1.45"/><circle cx="145.9" cy="706.2" r="1.45"/><circle cx="160.1" cy="738.2" r="1.45"/><circle cx="141.7" cy="793" r="1.45"/><circle cx="154.6" cy="766.4" r="1.45"/><circle cx="154.8" cy="787.8" r="1.45"/><circle cx="148.7" cy="777.7" r="1.45"/><circle cx="145.4" cy="822.3" r="1.45"/><circle cx="150.9" cy="747.5" r="1.45"/><circle cx="154.9" cy="797.8" r="1.45"/><circle cx="164.4" cy="804" r="1.45"/><circle cx="141.3" cy="795.9" r="1.45"/><circle cx="163.4" cy="855.3" r="1.45"/><circle cx="153" cy="814.9" r="1.45"/><circle cx="161.9" cy="820.8" r="1.45"/><circle cx="153.1" cy="798.2" r="1.45"/><circle cx="149.1" cy="732.8" r="1.45"/><circle cx="152.1" cy="847.9" r="1.45"/><circle cx="159.1" cy="785.6" r="1.45"/><circle cx="158.5" cy="821.2" r="1.45"/><circle cx="157.5" cy="764" r="1.45"/><circle cx="137.5" cy="779.4" r="1.45"/><circle cx="152.9" cy="825.9" r="1.45"/><circle cx="151.4" cy="856.6" r="1.45"/><circle cx="161.8" cy="813.7" r="1.45"/><circle cx="166.7" cy="736.1" r="1.45"/><circle cx="144" cy="686.1" r="1.45"/><circle cx="155.3" cy="839.6" r="1.45"/><circle cx="147.4" cy="792.7" r="1.45"/><circle cx="154.9" cy="819.4" r="1.45"/><circle cx="169.3" cy="761.1" r="1.45"/><circle cx="153.4" cy="708.9" r="1.45"/><circle cx="160.7" cy="732.8" r="1.45"/><circle cx="152.3" cy="865.7" r="1.45"/><circle cx="150.4" cy="841.8" r="1.45"/><circle cx="149.8" cy="790.4" r="1.45"/><circle cx="146.9" cy="842" r="1.45"/><circle cx="155.7" cy="811" r="1.45"/><circle cx="150.5" cy="818.6" r="1.45"/><circle cx="155" cy="755.8" r="1.45"/><circle cx="156.7" cy="738.3" r="1.45"/><circle cx="173" cy="744.4" r="1.45"/><circle cx="140.8" cy="736" r="1.45"/><circle cx="168.8" cy="783.4" r="1.45"/><circle cx="145.3" cy="842" r="1.45"/><circle cx="147.1" cy="722.9" r="1.45"/><circle cx="146.2" cy="814" r="1.45"/><circle cx="151.2" cy="716.1" r="1.45"/><circle cx="161.3" cy="814.4" r="1.45"/><circle cx="161" cy="736.9" r="1.45"/><circle cx="156.4" cy="748.4" r="1.45"/><circle cx="164.6" cy="815.7" r="1.45"/><circle cx="148.1" cy="840.2" r="1.45"/><circle cx="161.8" cy="758.7" r="1.45"/><circle cx="154.5" cy="699.5" r="1.45"/><circle cx="155.8" cy="799.5" r="1.45"/><circle cx="150.7" cy="758.2" r="1.45"/><circle cx="160.7" cy="793.4" r="1.45"/><circle cx="158.3" cy="830" r="1.45"/><circle cx="149.5" cy="771.9" r="1.45"/><circle cx="160.6" cy="857.1" r="1.45"/><circle cx="161.1" cy="832.2" r="1.45"/><circle cx="152.9" cy="762.1" r="1.45"/><circle cx="158.2" cy="694.1" r="1.45"/><circle cx="148.3" cy="846.8" r="1.45"/><circle cx="154.3" cy="712.6" r="1.45"/><circle cx="143.2" cy="722.4" r="1.45"/><circle cx="151.7" cy="853.7" r="1.45"/><circle cx="167.1" cy="700.8" r="1.45"/><circle cx="162.1" cy="725.5" r="1.45"/><circle cx="154.1" cy="741.3" r="1.45"/><circle cx="156.8" cy="829.1" r="1.45"/><circle cx="138.4" cy="722.7" r="1.45"/><circle cx="163.2" cy="804.5" r="1.45"/><circle cx="147.6" cy="803.6" r="1.45"/><circle cx="153.6" cy="842.9" r="1.45"/><circle cx="149" cy="703.8" r="1.45"/><circle cx="168.8" cy="846.4" r="1.45"/><circle cx="159.7" cy="793.6" r="1.45"/><circle cx="127.9" cy="767.9" r="1.45"/><circle cx="127.6" cy="714.5" r="1.45"/><circle cx="152.5" cy="805.6" r="1.45"/><circle cx="158.1" cy="812.3" r="1.45"/><circle cx="151.3" cy="795.8" r="1.45"/><circle cx="163.9" cy="838.8" r="1.45"/><circle cx="154.4" cy="798" r="1.45"/><circle cx="127" cy="701.9" r="1.45"/><circle cx="173.1" cy="843.7" r="1.45"/><circle cx="147.5" cy="793.2" r="1.45"/><circle cx="141.7" cy="755.7" r="1.45"/><circle cx="135.3" cy="741.5" r="1.45"/><circle cx="152.2" cy="698.4" r="1.45"/><circle cx="132" cy="687.8" r="1.45"/><circle cx="193.7" cy="857.8" r="1.45"/><circle cx="130.8" cy="768.7" r="1.45"/><circle cx="154" cy="789.2" r="1.45"/><circle cx="194.4" cy="838.1" r="1.45"/><circle cx="134.4" cy="750.5" r="1.45"/><circle cx="120" cy="663.4" r="1.45"/><circle cx="162.8" cy="856.9" r="1.45"/><circle cx="184.4" cy="865.9" r="1.45"/><circle cx="179.9" cy="831.4" r="1.45"/><circle cx="131" cy="682.3" r="1.45"/><circle cx="177.2" cy="814.1" r="1.45"/><circle cx="111.7" cy="707.6" r="1.45"/><circle cx="118" cy="679.9" r="1.45"/><circle cx="120.6" cy="735" r="1.45"/><circle cx="178.1" cy="865.3" r="1.45"/><circle cx="163.1" cy="861" r="1.45"/><circle cx="149" cy="830.8" r="1.45"/><circle cx="170.8" cy="842.5" r="1.45"/><circle cx="170.1" cy="856.2" r="1.45"/><circle cx="136.6" cy="792.6" r="1.45"/><circle cx="176.8" cy="848.2" r="1.45"/><circle cx="130.5" cy="773.9" r="1.45"/><circle cx="152.6" cy="666" r="1.45"/><circle cx="153.1" cy="771.2" r="1.45"/><circle cx="188.7" cy="828.5" r="1.45"/><circle cx="134.9" cy="780.4" r="1.45"/><circle cx="138.5" cy="767.7" r="1.45"/><circle cx="151.1" cy="714.3" r="1.45"/><circle cx="170.7" cy="858.4" r="1.45"/><circle cx="157.6" cy="850.8" r="1.45"/><circle cx="190.3" cy="795.3" r="1.45"/><circle cx="161.7" cy="749" r="1.45"/><circle cx="126.8" cy="722.8" r="1.45"/><circle cx="177.7" cy="855.2" r="1.45"/><circle cx="149.7" cy="840.7" r="1.45"/><circle cx="166.2" cy="839.6" r="1.45"/><circle cx="170.3" cy="769.9" r="1.45"/><circle cx="138.9" cy="799.3" r="1.45"/><circle cx="116.3" cy="744.2" r="1.45"/><circle cx="139.7" cy="805.9" r="1.45"/><circle cx="130.4" cy="736.7" r="1.45"/><circle cx="116.6" cy="743.6" r="1.45"/><circle cx="154.7" cy="810.2" r="1.45"/><circle cx="193.8" cy="843.4" r="1.45"/><circle cx="194.4" cy="854" r="1.45"/><circle cx="147.8" cy="803" r="1.45"/><circle cx="120.4" cy="730.4" r="1.45"/><circle cx="164.9" cy="824.6" r="1.45"/><circle cx="104.6" cy="696.4" r="1.45"/><circle cx="140.3" cy="728.2" r="1.45"/>
</g>
<g>
<circle cx="95.7" cy="642.7" r="2.5" fill="#000080"/><circle cx="84" cy="652.5" r="2.5" fill="#800000"/><circle cx="91.1" cy="651.8" r="2.5" fill="#800000"/><circle cx="93.9" cy="663.3" r="2.5" fill="#ff4c00"/><circle cx="86.3" cy="672.2" r="2.5" fill="#004cff"/><circle cx="96.6" cy="671.3" r="2.5" fill="#000080"/><circle cx="95" cy="676.3" r="2.5" fill="#bd0000"/><circle cx="90.4" cy="678.1" r="2.5" fill="#800000"/><circle cx="89.7" cy="682.7" r="2.5" fill="#19ffe6"/><circle cx="92.7" cy="686.1" r="2.5" fill="#800000"/><circle cx="93.9" cy="690" r="2.5" fill="#800000"/><circle cx="92.7" cy="693.4" r="2.5" fill="#800000"/><circle cx="95" cy="699.8" r="2.5" fill="#800000"/><circle cx="89.7" cy="702.1" r="2.5" fill="#00f0ff"/><circle cx="90.4" cy="704.9" r="2.5" fill="#800000"/><circle cx="95.7" cy="706" r="2.5" fill="#800000"/><circle cx="94.5" cy="709.4" r="2.5" fill="#800000"/><circle cx="93.2" cy="717.4" r="2.5" fill="#800000"/><circle cx="97.3" cy="720.2" r="2.5" fill="#800000"/><circle cx="96.1" cy="727" r="2.5" fill="#ff8a00"/><circle cx="98.9" cy="726.6" r="2.5" fill="#800000"/><circle cx="143.9" cy="661.7" r="2.5" fill="#d1ff2e"/><circle cx="95.4" cy="726.4" r="2.5" fill="#800000"/><circle cx="99.1" cy="728.6" r="2.5" fill="#800000"/><circle cx="95.7" cy="732" r="2.5" fill="#800000"/><circle cx="99.5" cy="731.6" r="2.5" fill="#800000"/><circle cx="100.8" cy="733.4" r="2.5" fill="#800000"/><circle cx="98.8" cy="736.4" r="2.5" fill="#800000"/><circle cx="102" cy="738.6" r="2.5" fill="#800000"/><circle cx="101" cy="739.5" r="2.5" fill="#800000"/><circle cx="101.7" cy="741.8" r="2.5" fill="#800000"/><circle cx="100.5" cy="746" r="2.5" fill="#800000"/><circle cx="105.4" cy="748.3" r="2.5" fill="#800000"/><circle cx="101" cy="749.6" r="2.5" fill="#cb0000"/><circle cx="107.3" cy="753" r="2.5" fill="#800000"/><circle cx="101.9" cy="754.5" r="2.5" fill="#800000"/><circle cx="104.6" cy="755.4" r="2.5" fill="#800000"/><circle cx="107" cy="757.8" r="2.5" fill="#fffc00"/><circle cx="107.6" cy="761.1" r="2.5" fill="#ff3200"/><circle cx="111.5" cy="763.7" r="2.5" fill="#800000"/><circle cx="105" cy="764.7" r="2.5" fill="#800000"/><circle cx="112.7" cy="766.6" r="2.5" fill="#800000"/><circle cx="108.5" cy="769.2" r="2.5" fill="#800000"/><circle cx="110.7" cy="771.1" r="2.5" fill="#800000"/><circle cx="112.5" cy="772.8" r="2.5" fill="#800000"/><circle cx="107.2" cy="774.2" r="2.5" fill="#800000"/><circle cx="109.8" cy="776.5" r="2.5" fill="#800000"/><circle cx="109.7" cy="776.9" r="2.5" fill="#ffb400"/><circle cx="112.6" cy="779" r="2.5" fill="#800000"/><circle cx="117.7" cy="780.2" r="2.5" fill="#800000"/><circle cx="113.5" cy="781.5" r="2.5" fill="#800000"/><circle cx="110.9" cy="782" r="2.5" fill="#800000"/><circle cx="111.4" cy="782.7" r="2.5" fill="#ff5900"/><circle cx="115.9" cy="784" r="2.5" fill="#ffe100"/><circle cx="111.4" cy="785.4" r="2.5" fill="#beff41"/><circle cx="115.3" cy="785.5" r="2.5" fill="#800000"/><circle cx="117.4" cy="785.9" r="2.5" fill="#f9ff06"/><circle cx="119.9" cy="787.6" r="2.5" fill="#79ff86"/><circle cx="113" cy="789.4" r="2.5" fill="#800000"/><circle cx="113.4" cy="790.2" r="2.5" fill="#800000"/><circle cx="111.9" cy="792" r="2.5" fill="#4bffb4"/><circle cx="112.9" cy="794.5" r="2.5" fill="#800000"/><circle cx="119" cy="793.8" r="2.5" fill="#800000"/><circle cx="116.6" cy="795" r="2.5" fill="#800000"/><circle cx="122.5" cy="794.5" r="2.5" fill="#ff8e00"/><circle cx="113.8" cy="795.8" r="2.5" fill="#800000"/><circle cx="120.6" cy="797" r="2.5" fill="#c70000"/><circle cx="121.3" cy="798.9" r="2.5" fill="#800000"/><circle cx="114.6" cy="799.1" r="2.5" fill="#ff1a00"/><circle cx="116.2" cy="800.6" r="2.5" fill="#800000"/><circle cx="123.6" cy="802.3" r="2.5" fill="#800000"/><circle cx="125.2" cy="802.9" r="2.5" fill="#800000"/><circle cx="126.4" cy="806" r="2.5" fill="#800000"/><circle cx="115.8" cy="804.8" r="2.5" fill="#800000"/><circle cx="123.6" cy="806.2" r="2.5" fill="#800000"/><circle cx="119.2" cy="809.7" r="2.5" fill="#800000"/><circle cx="127.6" cy="810.4" r="2.5" fill="#fff400"/><circle cx="122.2" cy="811.7" r="2.5" fill="#ffa200"/><circle cx="120.8" cy="812.8" r="2.5" fill="#800000"/><circle cx="124.9" cy="814.5" r="2.5" fill="#ff9600"/><circle cx="127.3" cy="816.8" r="2.5" fill="#ffb500"/><circle cx="125.5" cy="817.8" r="2.5" fill="#800000"/><circle cx="129.6" cy="821" r="2.5" fill="#800000"/><circle cx="121.1" cy="822.4" r="2.5" fill="#800000"/><circle cx="128.1" cy="823.1" r="2.5" fill="#e30000"/><circle cx="122.5" cy="823.9" r="2.5" fill="#800000"/><circle cx="127.1" cy="826.1" r="2.5" fill="#800000"/><circle cx="132.1" cy="827.6" r="2.5" fill="#67ff98"/><circle cx="134" cy="830.8" r="2.5" fill="#f10000"/><circle cx="125.5" cy="830.7" r="2.5" fill="#0036ff"/><circle cx="130.2" cy="831.8" r="2.5" fill="#004eff"/><circle cx="132.1" cy="831.1" r="2.5" fill="#ff4400"/><circle cx="126.3" cy="834.1" r="2.5" fill="#800000"/><circle cx="125.1" cy="833.8" r="2.5" fill="#800000"/><circle cx="137.1" cy="834.7" r="2.5" fill="#800000"/><circle cx="130.2" cy="837.3" r="2.5" fill="#800000"/><circle cx="131.5" cy="836.8" r="2.5" fill="#00008c"/><circle cx="129.3" cy="838.9" r="2.5" fill="#800000"/><circle cx="129" cy="840.5" r="2.5" fill="#ff2e00"/><circle cx="129.2" cy="841.3" r="2.5" fill="#800000"/><circle cx="130" cy="840.3" r="2.5" fill="#ff1300"/><circle cx="136.4" cy="843.1" r="2.5" fill="#f60000"/><circle cx="129.1" cy="842.5" r="2.5" fill="#800000"/><circle cx="136.5" cy="844.2" r="2.5" fill="#c90000"/><circle cx="129.5" cy="846.7" r="2.5" fill="#800000"/><circle cx="131.9" cy="849.5" r="2.5" fill="#5dffa2"/><circle cx="132.3" cy="850.3" r="2.5" fill="#800000"/><circle cx="140.1" cy="851.7" r="2.5" fill="#ff1e00"/><circle cx="140" cy="853.1" r="2.5" fill="#ff3c00"/><circle cx="134.2" cy="854.2" r="2.5" fill="#800000"/><circle cx="136.4" cy="854.8" r="2.5" fill="#800000"/><circle cx="136.2" cy="855.5" r="2.5" fill="#ff1d00"/><circle cx="137.3" cy="856.8" r="2.5" fill="#cf0000"/><circle cx="135.6" cy="859.2" r="2.5" fill="#00c4ff"/><circle cx="140" cy="861.2" r="2.5" fill="#800000"/><circle cx="138.7" cy="860.1" r="2.5" fill="#800000"/><circle cx="141.5" cy="863.1" r="2.5" fill="#800000"/><circle cx="144.6" cy="863.4" r="2.5" fill="#0049ff"/><circle cx="136.4" cy="864" r="2.5" fill="#800000"/><circle cx="143.6" cy="865.8" r="2.5" fill="#800000"/><circle cx="143.6" cy="866.3" r="2.5" fill="#800000"/>
</g>
<path d="M75.4 522.2 L75.5 526.2 L75.6 530.2 L75.7 534.2 L75.8 538.2 L76 542.2 L76.1 546.2 L76.2 550.2 L76.3 554.2 L76.5 558.2 L76.6 562.2 L76.7 566.2 L76.9 570.2 L77 574.2 L77.2 578.2 L77.3 582.2 L77.5 586.2 L77.7 590.2 L77.9 594.2 L78.1 598.2 L78.3 602.2 L78.5 606.2 L78.7 610.2 L79 614.2 L79.2 618.2 L79.5 622.2 L79.8 626.2 L80.1 630.2 L80.4 634.2 L80.7 638.2 L81.1 642.2 L81.4 646.2 L81.8 650.2 L82.2 654.2 L82.6 658.2 L83 662.2 L83.4 666.2 L83.9 670.2 L84.4 674.2 L84.9 678.2 L85.4 682.2 L86 686.2 L86.5 690.2 L87.1 694.2 L87.8 698.2 L88.4 702.2 L89.1 706.2 L89.8 710.2 L90.5 714.2 L91.2 718.2 L92 722.2 L92.8 726.2 L93.6 730.2 L94.5 734.2 L95.3 738.2 L96.3 742.2 L97.2 746.2 L98.2 750.2 L99.2 754.2 L100.2 758.2 L101.3 762.2 L102.4 766.2 L103.5 770.2 L104.7 774.2 L105.9 778.2 L107.1 782.2 L108.4 786.2 L109.6 790.2 L110.9 794.2 L112.2 798.2 L113.5 802.2 L114.9 806.2 L116.2 810.2 L117.5 814.2 L118.9 818.2 L120.2 822.2 L121.5 826.2 L122.9 830.2 L124.2 834.2 L125.5 838.2 L126.8 842.2 L128 846.2 L129.3 850.2 L130.5 854.2 L131.7 858.2 L132.9 862.2 L134 866.2 L135.1 870.2 L136.2 874.2 L137.2 878.2 L138.2 882.2 L139.1 886.2 L140 890.2 L140.8 894.2 L141.5 898.2 L142.3 902.2 L142.9 906.2 L143.5 910.2 L143.7 912" fill="none" stroke="#2a2aff" stroke-width="1.75" stroke-linejoin="round"/>
<path d="M93.5 680.9 L94 684.9 L94.7 688.9 L95.3 692.9 L96 696.9 L96.8 700.9 L97.6 704.9 L98.5 708.9 L99.4 712.9 L100.3 716.9 L101.3 720.9 L102.3 724.9 L103.4 728.9 L104.4 732.9 L105.6 736.9 L106.7 740.9 L107.9 744.9 L109.1 748.9 L110.3 752.9 L111.5 756.9 L112.8 760.9 L114.1 764.9 L115.4 768.9 L116.7 772.9 L118 776.9 L119.3 780.9 L120.7 784.9 L122 788.9 L123.4 792.9 L124.8 796.9 L126.1 800.9 L127.5 804.9 L128.8 808.9 L130.2 812.9 L131.5 816.9 L132.9 820.9 L134.2 824.9 L135.5 828.9 L136.8 832.9 L138.1 836.9 L139.4 840.9 L140.7 844.9 L141.9 848.9 L143.1 852.9 L144.3 856.9 L145.5 860.9 L146.6 864.9 L147.7 868.9 L148.8 872.9 L149.8 876.9 L150.8 880.9 L151.8 884.9 L152.7 888.9 L153.6 892.9 L154.5 896.9 L155.3 900.9 L156 904.9 L156.7 908.9 L157.2 912" fill="none" stroke="#2a2aff" stroke-width="1.85" stroke-linejoin="round" stroke-dasharray="4.3 2.1"/>
<path d="M52.2 912v-3.7M52.2 480.8v3.7M65 912v-3.7M65 480.8v3.7M77.7 912v-3.7M77.7 480.8v3.7M90.5 912v-3.7M90.5 480.8v3.7M103.3 912v-7.4M103.3 480.8v7.4M116.1 912v-3.7M116.1 480.8v3.7M128.9 912v-3.7M128.9 480.8v3.7M141.6 912v-3.7M141.6 480.8v3.7M154.4 912v-3.7M154.4 480.8v3.7M167.2 912v-7.4M167.2 480.8v7.4M180 912v-3.7M180 480.8v3.7M192.8 912v-3.7M192.8 480.8v3.7M205.5 912v-3.7M205.5 480.8v3.7M218.3 912v-3.7M218.3 480.8v3.7M39.4 500.4h3.7M231.1 500.4h-3.7M39.4 520h3.7M231.1 520h-3.7M39.4 539.6h3.7M231.1 539.6h-3.7M39.4 559.2h7.4M231.1 559.2h-7.4M39.4 578.8h3.7M231.1 578.8h-3.7M39.4 598.4h3.7M231.1 598.4h-3.7M39.4 618h3.7M231.1 618h-3.7M39.4 637.6h7.4M231.1 637.6h-7.4M39.4 657.2h3.7M231.1 657.2h-3.7M39.4 676.8h3.7M231.1 676.8h-3.7M39.4 696.4h3.7M231.1 696.4h-3.7M39.4 716h7.4M231.1 716h-7.4M39.4 735.6h3.7M231.1 735.6h-3.7M39.4 755.2h3.7M231.1 755.2h-3.7M39.4 774.8h3.7M231.1 774.8h-3.7M39.4 794.4h7.4M231.1 794.4h-7.4M39.4 814h3.7M231.1 814h-3.7M39.4 833.6h3.7M231.1 833.6h-3.7M39.4 853.2h3.7M231.1 853.2h-3.7M39.4 872.8h7.4M231.1 872.8h-7.4M39.4 892.4h3.7M231.1 892.4h-3.7" stroke="#6a6a6a" stroke-width="1.05" fill="none"/>
<rect x="39.4" y="480.8" width="191.7" height="431.2" fill="none" stroke="#6a6a6a" stroke-width="1.25"/>
<g font-size="12" fill="#1c1c1c">
<text x="39.4" y="924.6" text-anchor="middle">0</text>
<text x="103.3" y="924.6" text-anchor="middle">1</text>
<text x="167.2" y="924.6" text-anchor="middle">2</text>
<text x="231.1" y="924.6" text-anchor="middle">3</text>
<text x="36.3" y="485.6" text-anchor="end">10</text>
<text x="36.3" y="564" text-anchor="end">12</text>
<text x="36.3" y="642.4" text-anchor="end">14</text>
<text x="36.3" y="720.8" text-anchor="end">16</text>
<text x="36.3" y="799.2" text-anchor="end">18</text>
<text x="36.3" y="877.6" text-anchor="end">20</text>
</g>
</g>
<g id="panel-d">
<g fill="#6c6c6c" fill-opacity="0.31">
<circle cx="311.9" cy="565.6" r="1.45"/><circle cx="311.4" cy="568.6" r="1.45"/><circle cx="329" cy="570.9" r="1.45"/><circle cx="351.2" cy="564.5" r="1.45"/><circle cx="359.4" cy="563.5" r="1.45"/><circle cx="311.2" cy="576.6" r="1.45"/><circle cx="327.4" cy="581.8" r="1.45"/><circle cx="339.3" cy="586.4" r="1.45"/><circle cx="358.7" cy="591.4" r="1.45"/><circle cx="318" cy="599.9" r="1.45"/><circle cx="334" cy="607.9" r="1.45"/><circle cx="335.9" cy="607.9" r="1.45"/><circle cx="338.6" cy="610.2" r="1.45"/><circle cx="323.3" cy="613.6" r="1.45"/><circle cx="330.1" cy="616.1" r="1.45"/><circle cx="332.4" cy="615.4" r="1.45"/><circle cx="330.8" cy="618.9" r="1.45"/><circle cx="331.7" cy="622.3" r="1.45"/><circle cx="326.7" cy="624.1" r="1.45"/><circle cx="313.7" cy="624.6" r="1.45"/><circle cx="316.9" cy="625" r="1.45"/><circle cx="331.7" cy="625.7" r="1.45"/><circle cx="339.7" cy="624.6" r="1.45"/><circle cx="335.9" cy="628" r="1.45"/><circle cx="337.5" cy="629.6" r="1.45"/><circle cx="376.3" cy="609.7" r="1.45"/><circle cx="375.4" cy="619.5" r="1.45"/><circle cx="317.6" cy="637.6" r="1.45"/><circle cx="335.2" cy="636" r="1.45"/><circle cx="386.6" cy="637.1" r="1.45"/><circle cx="377" cy="640.6" r="1.45"/><circle cx="373.6" cy="642.2" r="1.45"/><circle cx="385" cy="645.8" r="1.45"/><circle cx="322.6" cy="648.1" r="1.45"/><circle cx="327.9" cy="648.1" r="1.45"/><circle cx="330.8" cy="646.3" r="1.45"/><circle cx="336.5" cy="645.8" r="1.45"/><circle cx="343.9" cy="647.9" r="1.45"/><circle cx="374.7" cy="649.7" r="1.45"/><circle cx="354.1" cy="653.6" r="1.45"/><circle cx="334" cy="653.1" r="1.45"/><circle cx="343.9" cy="655.4" r="1.45"/><circle cx="359.9" cy="657.3" r="1.45"/><circle cx="379.3" cy="656.6" r="1.45"/><circle cx="386.6" cy="657.3" r="1.45"/><circle cx="393" cy="657.3" r="1.45"/><circle cx="417" cy="594" r="1.45"/><circle cx="418" cy="675.5" r="1.45"/><circle cx="409.5" cy="778" r="1.45"/><circle cx="310.5" cy="768" r="1.45"/><circle cx="407" cy="645.5" r="1.45"/><circle cx="402" cy="740.5" r="1.45"/><circle cx="389.5" cy="815.5" r="1.45"/><circle cx="408" cy="812" r="1.45"/><circle cx="300" cy="700" r="1.45"/><circle cx="412" cy="702" r="1.45"/><circle cx="405" cy="760" r="1.45"/><circle cx="358" cy="774.5" r="1.45"/><circle cx="346.7" cy="730.8" r="1.45"/><circle cx="371.3" cy="849.9" r="1.45"/><circle cx="362.3" cy="815.7" r="1.45"/><circle cx="358.6" cy="761.8" r="1.45"/><circle cx="391.9" cy="842.9" r="1.45"/><circle cx="365.4" cy="840.5" r="1.45"/><circle cx="403" cy="834.6" r="1.45"/><circle cx="353.8" cy="738.4" r="1.45"/><circle cx="375.6" cy="829.2" r="1.45"/><circle cx="366.7" cy="739.3" r="1.45"/><circle cx="378.9" cy="816.8" r="1.45"/><circle cx="381.4" cy="849.2" r="1.45"/><circle cx="356.2" cy="812.6" r="1.45"/><circle cx="374.8" cy="822.1" r="1.45"/><circle cx="377.8" cy="841.5" r="1.45"/><circle cx="341.9" cy="721.5" r="1.45"/><circle cx="378.2" cy="808.3" r="1.45"/><circle cx="367.7" cy="855.8" r="1.45"/><circle cx="374" cy="825.5" r="1.45"/><circle cx="359.8" cy="793.6" r="1.45"/><circle cx="379.5" cy="848.9" r="1.45"/><circle cx="345" cy="728.7" r="1.45"/><circle cx="351.7" cy="774.8" r="1.45"/><circle cx="365.3" cy="762.9" r="1.45"/><circle cx="387.8" cy="848.2" r="1.45"/><circle cx="373.3" cy="853.1" r="1.45"/><circle cx="383.6" cy="783.6" r="1.45"/><circle cx="381.4" cy="800.9" r="1.45"/><circle cx="374.5" cy="842" r="1.45"/><circle cx="357.9" cy="753.1" r="1.45"/><circle cx="372.7" cy="853.2" r="1.45"/><circle cx="355.2" cy="761.1" r="1.45"/><circle cx="383.2" cy="794.5" r="1.45"/><circle cx="380" cy="802.6" r="1.45"/><circle cx="347.5" cy="727.7" r="1.45"/><circle cx="360.9" cy="756.4" r="1.45"/><circle cx="372.5" cy="810.6" r="1.45"/><circle cx="368.7" cy="814.8" r="1.45"/><circle cx="374.6" cy="800.7" r="1.45"/><circle cx="368.5" cy="775.6" r="1.45"/><circle cx="384.2" cy="776.8" r="1.45"/><circle cx="370.2" cy="811.5" r="1.45"/><circle cx="363" cy="777.8" r="1.45"/><circle cx="376.6" cy="846.1" r="1.45"/><circle cx="351.3" cy="724" r="1.45"/><circle cx="377.4" cy="855.3" r="1.45"/><circle cx="361.7" cy="839.7" r="1.45"/><circle cx="372.4" cy="811" r="1.45"/><circle cx="372.7" cy="848.5" r="1.45"/><circle cx="390.7" cy="827.8" r="1.45"/><circle cx="355.9" cy="826.4" r="1.45"/><circle cx="367.8" cy="830.5" r="1.45"/><circle cx="363.5" cy="850.3" r="1.45"/><circle cx="381.5" cy="853.9" r="1.45"/><circle cx="337.8" cy="720.6" r="1.45"/><circle cx="374.1" cy="853.7" r="1.45"/><circle cx="372.7" cy="825.7" r="1.45"/><circle cx="366.8" cy="835.9" r="1.45"/><circle cx="333.9" cy="680.6" r="1.45"/><circle cx="376" cy="846.7" r="1.45"/><circle cx="357.4" cy="846.8" r="1.45"/><circle cx="367.3" cy="846.9" r="1.45"/><circle cx="364.6" cy="847.9" r="1.45"/><circle cx="369.7" cy="808.3" r="1.45"/><circle cx="370.7" cy="821.7" r="1.45"/><circle cx="376" cy="845.8" r="1.45"/><circle cx="378.6" cy="837.7" r="1.45"/><circle cx="341.6" cy="694" r="1.45"/><circle cx="365.6" cy="816.4" r="1.45"/><circle cx="371.9" cy="839.4" r="1.45"/><circle cx="377.6" cy="853.5" r="1.45"/><circle cx="354.9" cy="747.1" r="1.45"/><circle cx="389.7" cy="803.8" r="1.45"/><circle cx="341.8" cy="730.9" r="1.45"/><circle cx="356.8" cy="785.7" r="1.45"/><circle cx="374.7" cy="802.4" r="1.45"/><circle cx="366.9" cy="762.6" r="1.45"/><circle cx="348.8" cy="811" r="1.45"/><circle cx="364.6" cy="832.7" r="1.45"/><circle cx="350.9" cy="787.1" r="1.45"/><circle cx="368.9" cy="809.8" r="1.45"/><circle cx="354" cy="776.2" r="1.45"/><circle cx="378.2" cy="855" r="1.45"/><circle cx="361.6" cy="829.6" r="1.45"/><circle cx="368" cy="807.8" r="1.45"/><circle cx="388" cy="846" r="1.45"/><circle cx="381.3" cy="823.5" r="1.45"/><circle cx="375.1" cy="794.4" r="1.45"/><circle cx="358.2" cy="752.3" r="1.45"/><circle cx="359" cy="762.9" r="1.45"/><circle cx="383.7" cy="819.8" r="1.45"/><circle cx="351.2" cy="824.3" r="1.45"/><circle cx="364.7" cy="763.3" r="1.45"/><circle cx="364.9" cy="789.4" r="1.45"/><circle cx="371" cy="852.3" r="1.45"/><circle cx="376.4" cy="840.6" r="1.45"/><circle cx="368.4" cy="820.6" r="1.45"/><circle cx="394.1" cy="819.6" r="1.45"/><circle cx="365.8" cy="853.7" r="1.45"/><circle cx="357.3" cy="835.8" r="1.45"/><circle cx="379.3" cy="843.1" r="1.45"/><circle cx="392" cy="822.1" r="1.45"/><circle cx="359.6" cy="786.8" r="1.45"/><circle cx="380" cy="789.4" r="1.45"/><circle cx="365.1" cy="799.6" r="1.45"/><circle cx="369.3" cy="841.9" r="1.45"/><circle cx="357.1" cy="764.3" r="1.45"/><circle cx="353.5" cy="831.2" r="1.45"/><circle cx="389" cy="824.5" r="1.45"/><circle cx="367.3" cy="731.3" r="1.45"/><circle cx="369.6" cy="850.1" r="1.45"/><circle cx="364.7" cy="778.4" r="1.45"/><circle cx="387.3" cy="850.7" r="1.45"/><circle cx="348.6" cy="756.2" r="1.45"/><circle cx="368.7" cy="759.7" r="1.45"/><circle cx="378.4" cy="830" r="1.45"/><circle cx="366.8" cy="814.3" r="1.45"/><circle cx="347.1" cy="741.7" r="1.45"/><circle cx="344" cy="728.5" r="1.45"/><circle cx="374.4" cy="847.8" r="1.45"/><circle cx="391.6" cy="834.6" r="1.45"/><circle cx="364.1" cy="833.5" r="1.45"/><circle cx="358.8" cy="831.2" r="1.45"/><circle cx="351.1" cy="757.5" r="1.45"/><circle cx="376.8" cy="809.8" r="1.45"/><circle cx="374.4" cy="778.1" r="1.45"/><circle cx="372.7" cy="830.1" r="1.45"/><circle cx="381.8" cy="797.8" r="1.45"/><circle cx="337.7" cy="703.3" r="1.45"/><circle cx="355.9" cy="758.1" r="1.45"/><circle cx="360.3" cy="842.4" r="1.45"/><circle cx="366.5" cy="833.5" r="1.45"/><circle cx="390.7" cy="842.6" r="1.45"/><circle cx="374" cy="850.1" r="1.45"/><circle cx="367.1" cy="844.4" r="1.45"/><circle cx="371.3" cy="824.1" r="1.45"/><circle cx="387" cy="826.8" r="1.45"/><circle cx="341.6" cy="716.5" r="1.45"/><circle cx="377.4" cy="778" r="1.45"/><circle cx="377.7" cy="786.5" r="1.45"/><circle cx="376.7" cy="791.2" r="1.45"/><circle cx="360" cy="847.2" r="1.45"/><circle cx="339.8" cy="831.7" r="1.45"/><circle cx="360.1" cy="793.2" r="1.45"/><circle cx="356.8" cy="833" r="1.45"/><circle cx="358.9" cy="777" r="1.45"/><circle cx="351.8" cy="732.7" r="1.45"/><circle cx="369.2" cy="747.8" r="1.45"/><circle cx="360.5" cy="812.7" r="1.45"/><circle cx="369.4" cy="844.1" r="1.45"/><circle cx="369.1" cy="834.7" r="1.45"/><circle cx="355.5" cy="809.1" r="1.45"/><circle cx="388.1" cy="836.1" r="1.45"/><circle cx="361.2" cy="785" r="1.45"/><circle cx="387.8" cy="801.1" r="1.45"/><circle cx="369.3" cy="845.6" r="1.45"/><circle cx="367.3" cy="830.9" r="1.45"/><circle cx="349.2" cy="762.3" r="1.45"/><circle cx="370.3" cy="847.5" r="1.45"/><circle cx="356" cy="836.7" r="1.45"/><circle cx="352.6" cy="788.5" r="1.45"/><circle cx="367.2" cy="778.1" r="1.45"/><circle cx="355.6" cy="783.3" r="1.45"/><circle cx="372.2" cy="836.9" r="1.45"/><circle cx="374.1" cy="855" r="1.45"/><circle cx="373.4" cy="851" r="1.45"/><circle cx="376.2" cy="847.8" r="1.45"/><circle cx="361" cy="806.5" r="1.45"/><circle cx="365.6" cy="776" r="1.45"/><circle cx="350" cy="747" r="1.45"/><circle cx="372.8" cy="818.9" r="1.45"/><circle cx="368.7" cy="844.3" r="1.45"/><circle cx="371.2" cy="833.4" r="1.45"/><circle cx="354.5" cy="768.8" r="1.45"/><circle cx="373.9" cy="789" r="1.45"/><circle cx="359" cy="794.7" r="1.45"/><circle cx="386.3" cy="770.6" r="1.45"/><circle cx="358.1" cy="830.3" r="1.45"/><circle cx="369.7" cy="848.8" r="1.45"/><circle cx="375.9" cy="828.8" r="1.45"/><circle cx="354.5" cy="753.5" r="1.45"/><circle cx="359" cy="816.7" r="1.45"/><circle cx="382.3" cy="843.6" r="1.45"/><circle cx="343.3" cy="716.9" r="1.45"/><circle cx="376.8" cy="819.6" r="1.45"/><circle cx="360.1" cy="824.7" r="1.45"/><circle cx="378.5" cy="851.9" r="1.45"/><circle cx="360.4" cy="792.5" r="1.45"/><circle cx="345.1" cy="709.7" r="1.45"/><circle cx="361.3" cy="851.5" r="1.45"/><circle cx="342" cy="718.8" r="1.45"/><circle cx="346.5" cy="753.9" r="1.45"/><circle cx="362.6" cy="807.4" r="1.45"/><circle cx="343" cy="711.7" r="1.45"/><circle cx="377.3" cy="834.7" r="1.45"/><circle cx="379.3" cy="818" r="1.45"/><circle cx="374" cy="854.1" r="1.45"/><circle cx="349.3" cy="763.7" r="1.45"/><circle cx="362" cy="834" r="1.45"/><circle cx="368.1" cy="804.2" r="1.45"/><circle cx="357.9" cy="764.1" r="1.45"/><circle cx="362.9" cy="804" r="1.45"/><circle cx="360.3" cy="792.1" r="1.45"/><circle cx="402" cy="816.5" r="1.45"/><circle cx="353.1" cy="778.4" r="1.45"/><circle cx="360.2" cy="794.9" r="1.45"/><circle cx="364.7" cy="808.3" r="1.45"/><circle cx="375.2" cy="847.2" r="1.45"/><circle cx="370.1" cy="832.8" r="1.45"/><circle cx="344.5" cy="724.1" r="1.45"/><circle cx="368.9" cy="851.7" r="1.45"/><circle cx="370.1" cy="822.7" r="1.45"/><circle cx="363.5" cy="808.8" r="1.45"/><circle cx="370.4" cy="808.5" r="1.45"/><circle cx="402.9" cy="831" r="1.45"/><circle cx="371.6" cy="783.4" r="1.45"/><circle cx="370.9" cy="844.9" r="1.45"/><circle cx="350.1" cy="733" r="1.45"/><circle cx="374.5" cy="849.5" r="1.45"/><circle cx="394.6" cy="844.2" r="1.45"/><circle cx="383.6" cy="768" r="1.45"/><circle cx="375.5" cy="855.9" r="1.45"/><circle cx="368.7" cy="813.6" r="1.45"/><circle cx="344.1" cy="740.3" r="1.45"/><circle cx="357" cy="812.8" r="1.45"/><circle cx="365.3" cy="830.8" r="1.45"/><circle cx="350.1" cy="744" r="1.45"/><circle cx="361.6" cy="789" r="1.45"/><circle cx="357.6" cy="748.2" r="1.45"/><circle cx="340.9" cy="732.3" r="1.45"/><circle cx="362.3" cy="837.8" r="1.45"/><circle cx="367.4" cy="794" r="1.45"/><circle cx="368.9" cy="814.4" r="1.45"/><circle cx="363.9" cy="761.3" r="1.45"/><circle cx="358.8" cy="827.3" r="1.45"/><circle cx="373.1" cy="766.4" r="1.45"/><circle cx="379.5" cy="834.1" r="1.45"/><circle cx="358.6" cy="790.3" r="1.45"/><circle cx="361" cy="787.8" r="1.45"/><circle cx="373.3" cy="809.8" r="1.45"/><circle cx="358.1" cy="795.3" r="1.45"/><circle cx="389.5" cy="840.3" r="1.45"/><circle cx="395.7" cy="843.3" r="1.45"/><circle cx="350.1" cy="713.8" r="1.45"/><circle cx="364.7" cy="845.9" r="1.45"/><circle cx="353" cy="772.1" r="1.45"/><circle cx="371.2" cy="853.6" r="1.45"/><circle cx="382.1" cy="834.7" r="1.45"/><circle cx="348.8" cy="739.2" r="1.45"/><circle cx="343.1" cy="684.2" r="1.45"/><circle cx="372.6" cy="835.1" r="1.45"/><circle cx="365.9" cy="854.2" r="1.45"/><circle cx="343" cy="668.6" r="1.45"/><circle cx="345" cy="837" r="1.45"/><circle cx="367.6" cy="803.7" r="1.45"/><circle cx="360.9" cy="798.5" r="1.45"/><circle cx="344" cy="710" r="1.45"/><circle cx="350.3" cy="750.4" r="1.45"/><circle cx="357.2" cy="847.2" r="1.45"/><circle cx="376.3" cy="829" r="1.45"/><circle cx="384" cy="849.6" r="1.45"/><circle cx="365.5" cy="854.5" r="1.45"/><circle cx="366.1" cy="832.8" r="1.45"/><circle cx="350.3" cy="819.8" r="1.45"/><circle cx="369.9" cy="850.4" r="1.45"/><circle cx="372.7" cy="846.8" r="1.45"/><circle cx="375.2" cy="829.3" r="1.45"/><circle cx="379.4" cy="846.7" r="1.45"/><circle cx="368.5" cy="802.3" r="1.45"/><circle cx="367.1" cy="845.8" r="1.45"/><circle cx="353.5" cy="831.7" r="1.45"/><circle cx="364.6" cy="782.2" r="1.45"/><circle cx="362.2" cy="794.1" r="1.45"/><circle cx="396.4" cy="828.1" r="1.45"/><circle cx="404.3" cy="839.8" r="1.45"/><circle cx="356.9" cy="835.5" r="1.45"/><circle cx="372.8" cy="812.5" r="1.45"/><circle cx="348" cy="835.6" r="1.45"/><circle cx="365.7" cy="777.8" r="1.45"/><circle cx="364.1" cy="762.5" r="1.45"/><circle cx="371.4" cy="852.7" r="1.45"/><circle cx="343.3" cy="720.8" r="1.45"/><circle cx="365" cy="841.9" r="1.45"/><circle cx="373.1" cy="819.6" r="1.45"/><circle cx="367.7" cy="804.7" r="1.45"/><circle cx="371.5" cy="826" r="1.45"/><circle cx="367" cy="823.6" r="1.45"/><circle cx="341.1" cy="685.7" r="1.45"/><circle cx="338.8" cy="698.3" r="1.45"/><circle cx="352.9" cy="792.6" r="1.45"/><circle cx="365.5" cy="849.7" r="1.45"/><circle cx="370.4" cy="825.7" r="1.45"/><circle cx="374.6" cy="845.5" r="1.45"/><circle cx="375.8" cy="832.7" r="1.45"/><circle cx="352.2" cy="769" r="1.45"/><circle cx="356.4" cy="732.2" r="1.45"/><circle cx="371.3" cy="846.3" r="1.45"/><circle cx="367.3" cy="834.1" r="1.45"/><circle cx="361.9" cy="842" r="1.45"/><circle cx="346.6" cy="755.1" r="1.45"/><circle cx="378.5" cy="806.5" r="1.45"/><circle cx="364.6" cy="845" r="1.45"/><circle cx="367.4" cy="826.2" r="1.45"/><circle cx="334.2" cy="689.4" r="1.45"/><circle cx="385.1" cy="783.1" r="1.45"/><circle cx="348.9" cy="758.3" r="1.45"/><circle cx="384.1" cy="851.2" r="1.45"/><circle cx="358.5" cy="798.3" r="1.45"/><circle cx="366.9" cy="765.4" r="1.45"/><circle cx="340.1" cy="732.7" r="1.45"/><circle cx="351.7" cy="736.2" r="1.45"/><circle cx="367.3" cy="781.9" r="1.45"/><circle cx="376.1" cy="837.8" r="1.45"/><circle cx="349.9" cy="780.4" r="1.45"/><circle cx="355.2" cy="799.4" r="1.45"/><circle cx="358.6" cy="759.5" r="1.45"/><circle cx="364.1" cy="832.6" r="1.45"/><circle cx="367.6" cy="854.2" r="1.45"/><circle cx="378" cy="837.5" r="1.45"/><circle cx="372" cy="834.4" r="1.45"/><circle cx="373" cy="814.9" r="1.45"/><circle cx="376.2" cy="813.1" r="1.45"/><circle cx="378.3" cy="805.7" r="1.45"/><circle cx="362" cy="836.7" r="1.45"/><circle cx="377.8" cy="809.9" r="1.45"/><circle cx="405.4" cy="836.1" r="1.45"/><circle cx="376.9" cy="812" r="1.45"/><circle cx="365.7" cy="853.4" r="1.45"/><circle cx="379.2" cy="822.4" r="1.45"/><circle cx="356.6" cy="758.5" r="1.45"/><circle cx="361.6" cy="763.2" r="1.45"/><circle cx="376" cy="824.9" r="1.45"/><circle cx="380.6" cy="829" r="1.45"/><circle cx="361.5" cy="780.8" r="1.45"/><circle cx="367.8" cy="829.3" r="1.45"/><circle cx="371.7" cy="847.7" r="1.45"/><circle cx="365.8" cy="810.9" r="1.45"/><circle cx="373.1" cy="838.5" r="1.45"/><circle cx="373" cy="834.5" r="1.45"/><circle cx="357.5" cy="795.9" r="1.45"/><circle cx="373.2" cy="798" r="1.45"/><circle cx="390.7" cy="808.3" r="1.45"/><circle cx="379.1" cy="833.4" r="1.45"/><circle cx="375.4" cy="794.5" r="1.45"/><circle cx="359.1" cy="756.1" r="1.45"/><circle cx="381.2" cy="813.2" r="1.45"/><circle cx="376.2" cy="842.7" r="1.45"/><circle cx="369.5" cy="830.3" r="1.45"/><circle cx="331.4" cy="679" r="1.45"/><circle cx="399.6" cy="811.5" r="1.45"/><circle cx="336.2" cy="711" r="1.45"/><circle cx="381" cy="839.6" r="1.45"/><circle cx="378" cy="850.2" r="1.45"/><circle cx="354.8" cy="778.6" r="1.45"/><circle cx="364.2" cy="833.3" r="1.45"/><circle cx="341.7" cy="706" r="1.45"/><circle cx="348.8" cy="727.9" r="1.45"/><circle cx="375.3" cy="803" r="1.45"/><circle cx="347.8" cy="742.5" r="1.45"/><circle cx="376.8" cy="848.4" r="1.45"/><circle cx="356.2" cy="798.2" r="1.45"/><circle cx="369.6" cy="847" r="1.45"/><circle cx="368.9" cy="844.7" r="1.45"/><circle cx="368.9" cy="781.9" r="1.45"/><circle cx="356.3" cy="804.7" r="1.45"/><circle cx="353.7" cy="831.6" r="1.45"/><circle cx="379" cy="828.6" r="1.45"/><circle cx="363.8" cy="815.2" r="1.45"/><circle cx="358" cy="790.5" r="1.45"/><circle cx="364.7" cy="844.4" r="1.45"/><circle cx="343.1" cy="771.6" r="1.45"/><circle cx="359.4" cy="851.8" r="1.45"/><circle cx="355.1" cy="805.6" r="1.45"/><circle cx="393.9" cy="799.7" r="1.45"/><circle cx="370.2" cy="839.7" r="1.45"/><circle cx="375.8" cy="847.6" r="1.45"/><circle cx="347.4" cy="743.1" r="1.45"/><circle cx="351.1" cy="758.5" r="1.45"/><circle cx="362.5" cy="799.2" r="1.45"/><circle cx="363.6" cy="851.8" r="1.45"/><circle cx="353.9" cy="759.4" r="1.45"/><circle cx="354.7" cy="794.6" r="1.45"/><circle cx="363.2" cy="807.7" r="1.45"/><circle cx="380.7" cy="823.2" r="1.45"/><circle cx="358.3" cy="800.7" r="1.45"/><circle cx="379" cy="816.6" r="1.45"/><circle cx="362.7" cy="825.4" r="1.45"/><circle cx="363.7" cy="850.9" r="1.45"/><circle cx="369" cy="855.7" r="1.45"/><circle cx="340.7" cy="712" r="1.45"/><circle cx="370.6" cy="816.4" r="1.45"/><circle cx="392.1" cy="828.3" r="1.45"/><circle cx="366.9" cy="850.3" r="1.45"/><circle cx="363.4" cy="845.2" r="1.45"/><circle cx="366" cy="804.4" r="1.45"/><circle cx="372.5" cy="834.6" r="1.45"/><circle cx="374.2" cy="835.3" r="1.45"/><circle cx="357.9" cy="740.2" r="1.45"/><circle cx="356.8" cy="732.7" r="1.45"/><circle cx="367.7" cy="846.7" r="1.45"/><circle cx="362" cy="826.3" r="1.45"/><circle cx="360.8" cy="756.3" r="1.45"/><circle cx="378.6" cy="854.7" r="1.45"/><circle cx="342.2" cy="727" r="1.45"/><circle cx="373.6" cy="855.4" r="1.45"/><circle cx="349.4" cy="794.3" r="1.45"/><circle cx="347.7" cy="826.9" r="1.45"/><circle cx="364.1" cy="817.8" r="1.45"/><circle cx="338.9" cy="731" r="1.45"/><circle cx="370.3" cy="844.3" r="1.45"/><circle cx="363.8" cy="818.8" r="1.45"/><circle cx="355.5" cy="798.9" r="1.45"/><circle cx="369.2" cy="845.7" r="1.45"/><circle cx="366.6" cy="855.1" r="1.45"/><circle cx="376" cy="802.1" r="1.45"/><circle cx="353.8" cy="779.2" r="1.45"/><circle cx="372.9" cy="835.6" r="1.45"/><circle cx="375.3" cy="833.7" r="1.45"/><circle cx="365.1" cy="841" r="1.45"/><circle cx="370.4" cy="819.2" r="1.45"/><circle cx="367.1" cy="773.4" r="1.45"/><circle cx="364.2" cy="760.5" r="1.45"/><circle cx="364.9" cy="836.7" r="1.45"/><circle cx="385.6" cy="818.4" r="1.45"/><circle cx="362.4" cy="846.1" r="1.45"/><circle cx="361.4" cy="798.6" r="1.45"/><circle cx="355" cy="798.8" r="1.45"/><circle cx="383.8" cy="805.1" r="1.45"/><circle cx="377.8" cy="839.3" r="1.45"/><circle cx="360.2" cy="793.5" r="1.45"/><circle cx="356.6" cy="765.4" r="1.45"/><circle cx="361.9" cy="810.3" r="1.45"/><circle cx="372.4" cy="854.7" r="1.45"/><circle cx="365.5" cy="848.1" r="1.45"/><circle cx="346" cy="756.9" r="1.45"/><circle cx="368.1" cy="824.5" r="1.45"/><circle cx="356.5" cy="828.3" r="1.45"/><circle cx="356.8" cy="786.8" r="1.45"/><circle cx="359.9" cy="842.5" r="1.45"/><circle cx="371" cy="802.9" r="1.45"/><circle cx="381.2" cy="838.6" r="1.45"/><circle cx="387.7" cy="840.1" r="1.45"/><circle cx="356.7" cy="769.5" r="1.45"/><circle cx="372" cy="819.6" r="1.45"/><circle cx="375.7" cy="843.8" r="1.45"/><circle cx="346.8" cy="752.8" r="1.45"/><circle cx="356.9" cy="758.2" r="1.45"/><circle cx="358.2" cy="778.9" r="1.45"/><circle cx="368.9" cy="833.8" r="1.45"/><circle cx="364.2" cy="778.2" r="1.45"/><circle cx="372.5" cy="826.1" r="1.45"/><circle cx="361.3" cy="782.3" r="1.45"/><circle cx="361.2" cy="794.1" r="1.45"/><circle cx="364.5" cy="853.1" r="1.45"/><circle cx="347.8" cy="803.8" r="1.45"/><circle cx="371.7" cy="804.1" r="1.45"/><circle cx="357.3" cy="839.8" r="1.45"/><circle cx="377" cy="838.6" r="1.45"/><circle cx="354.9" cy="789.5" r="1.45"/><circle cx="362.4" cy="822.9" r="1.45"/><circle cx="365.3" cy="769.4" r="1.45"/><circle cx="347.8" cy="734.6" r="1.45"/><circle cx="357.2" cy="780" r="1.45"/><circle cx="377.5" cy="822.9" r="1.45"/><circle cx="346.9" cy="693.8" r="1.45"/><circle cx="355.2" cy="740.8" r="1.45"/><circle cx="364.3" cy="769.4" r="1.45"/><circle cx="340" cy="742.7" r="1.45"/><circle cx="388.1" cy="831.2" r="1.45"/><circle cx="346.5" cy="807.1" r="1.45"/><circle cx="351.3" cy="771.5" r="1.45"/><circle cx="366.7" cy="855.9" r="1.45"/><circle cx="338.2" cy="697.2" r="1.45"/><circle cx="361.3" cy="840.7" r="1.45"/><circle cx="351" cy="761.8" r="1.45"/><circle cx="345.3" cy="730.4" r="1.45"/><circle cx="381.5" cy="819.9" r="1.45"/><circle cx="354.4" cy="758.9" r="1.45"/><circle cx="354.2" cy="808.7" r="1.45"/><circle cx="383.5" cy="839.4" r="1.45"/><circle cx="344.6" cy="743.1" r="1.45"/><circle cx="355.3" cy="805.2" r="1.45"/><circle cx="351.5" cy="771.1" r="1.45"/><circle cx="377.5" cy="853.5" r="1.45"/><circle cx="359.9" cy="742.6" r="1.45"/><circle cx="332.6" cy="726.9" r="1.45"/><circle cx="381.2" cy="808.9" r="1.45"/><circle cx="387.5" cy="803.1" r="1.45"/><circle cx="382.4" cy="848.3" r="1.45"/><circle cx="368.9" cy="838.9" r="1.45"/><circle cx="405.9" cy="829.8" r="1.45"/><circle cx="362.9" cy="848.6" r="1.45"/><circle cx="382.8" cy="798.4" r="1.45"/><circle cx="371.1" cy="840.4" r="1.45"/><circle cx="340.4" cy="743" r="1.45"/><circle cx="392.7" cy="830.7" r="1.45"/><circle cx="380.3" cy="813" r="1.45"/><circle cx="354.4" cy="832.4" r="1.45"/><circle cx="363" cy="767.4" r="1.45"/><circle cx="381.7" cy="843.9" r="1.45"/><circle cx="396.9" cy="823.6" r="1.45"/><circle cx="381.4" cy="846.1" r="1.45"/><circle cx="355.2" cy="741" r="1.45"/><circle cx="357" cy="784" r="1.45"/><circle cx="359.2" cy="809.3" r="1.45"/><circle cx="373.6" cy="855.9" r="1.45"/><circle cx="341.6" cy="708" r="1.45"/><circle cx="356" cy="788.3" r="1.45"/><circle cx="369.4" cy="814" r="1.45"/><circle cx="371.9" cy="783.9" r="1.45"/><circle cx="373.8" cy="818.3" r="1.45"/><circle cx="367.1" cy="818.3" r="1.45"/><circle cx="376.8" cy="772.9" r="1.45"/><circle cx="362.9" cy="836.9" r="1.45"/><circle cx="359.6" cy="820.5" r="1.45"/><circle cx="347.2" cy="810.2" r="1.45"/><circle cx="369" cy="831.9" r="1.45"/><circle cx="372.2" cy="842.1" r="1.45"/><circle cx="382.9" cy="844.4" r="1.45"/><circle cx="352.7" cy="774" r="1.45"/><circle cx="344.1" cy="719.4" r="1.45"/><circle cx="350.9" cy="783.9" r="1.45"/><circle cx="368" cy="763.8" r="1.45"/><circle cx="347.3" cy="838.9" r="1.45"/><circle cx="377.4" cy="851.3" r="1.45"/><circle cx="372.3" cy="827.2" r="1.45"/><circle cx="357.2" cy="788.3" r="1.45"/><circle cx="354.4" cy="833.1" r="1.45"/><circle cx="354.9" cy="747.8" r="1.45"/><circle cx="356.3" cy="788.1" r="1.45"/><circle cx="350.5" cy="765.3" r="1.45"/><circle cx="364.8" cy="837.1" r="1.45"/><circle cx="369.3" cy="851" r="1.45"/><circle cx="364.8" cy="796.2" r="1.45"/><circle cx="379.7" cy="852" r="1.45"/><circle cx="381" cy="850.2" r="1.45"/><circle cx="377.1" cy="813.4" r="1.45"/><circle cx="367.1" cy="805.8" r="1.45"/><circle cx="371" cy="795.1" r="1.45"/><circle cx="370.3" cy="807.4" r="1.45"/><circle cx="395.1" cy="794.7" r="1.45"/><circle cx="360.2" cy="787.8" r="1.45"/><circle cx="359.2" cy="843.8" r="1.45"/><circle cx="348.2" cy="777.3" r="1.45"/><circle cx="357" cy="819.1" r="1.45"/><circle cx="365.9" cy="803.6" r="1.45"/><circle cx="372.8" cy="828.7" r="1.45"/><circle cx="352.8" cy="763.1" r="1.45"/><circle cx="377.3" cy="762.3" r="1.45"/><circle cx="381.5" cy="848.1" r="1.45"/><circle cx="350" cy="837.8" r="1.45"/><circle cx="366.7" cy="830.4" r="1.45"/><circle cx="375.2" cy="814.9" r="1.45"/><circle cx="374.9" cy="849.9" r="1.45"/><circle cx="369.7" cy="839.2" r="1.45"/><circle cx="381.6" cy="818.4" r="1.45"/><circle cx="374.5" cy="828.1" r="1.45"/><circle cx="347.6" cy="740.6" r="1.45"/><circle cx="365.7" cy="775.4" r="1.45"/><circle cx="371.9" cy="808" r="1.45"/><circle cx="375.1" cy="823.6" r="1.45"/><circle cx="350.8" cy="764.1" r="1.45"/><circle cx="369.4" cy="853.9" r="1.45"/><circle cx="352.2" cy="757.1" r="1.45"/><circle cx="391.3" cy="838.7" r="1.45"/><circle cx="347" cy="753.3" r="1.45"/><circle cx="367.6" cy="810.3" r="1.45"/><circle cx="378.6" cy="808" r="1.45"/><circle cx="364.5" cy="819.8" r="1.45"/><circle cx="364.1" cy="812.1" r="1.45"/><circle cx="366" cy="851.8" r="1.45"/><circle cx="407" cy="833.7" r="1.45"/><circle cx="360" cy="751.3" r="1.45"/><circle cx="386.5" cy="822.6" r="1.45"/><circle cx="394.7" cy="795.1" r="1.45"/><circle cx="375.9" cy="816.1" r="1.45"/><circle cx="381.1" cy="821.7" r="1.45"/><circle cx="342.3" cy="790.5" r="1.45"/><circle cx="368.1" cy="798.5" r="1.45"/><circle cx="376.3" cy="835.7" r="1.45"/><circle cx="376.5" cy="821.8" r="1.45"/><circle cx="369" cy="855.9" r="1.45"/><circle cx="356" cy="757.4" r="1.45"/><circle cx="371.3" cy="838.3" r="1.45"/><circle cx="347.8" cy="734.4" r="1.45"/><circle cx="380.4" cy="817" r="1.45"/><circle cx="367.3" cy="774" r="1.45"/><circle cx="370.5" cy="841.4" r="1.45"/><circle cx="367.9" cy="845.5" r="1.45"/><circle cx="367.1" cy="791" r="1.45"/><circle cx="360.4" cy="817.9" r="1.45"/><circle cx="355.6" cy="763.3" r="1.45"/><circle cx="386.5" cy="842.4" r="1.45"/><circle cx="370.5" cy="784.5" r="1.45"/><circle cx="366.2" cy="820.1" r="1.45"/><circle cx="373.1" cy="838.5" r="1.45"/><circle cx="365.5" cy="767.8" r="1.45"/><circle cx="361.7" cy="794.3" r="1.45"/><circle cx="375.5" cy="843.2" r="1.45"/><circle cx="370.4" cy="796.6" r="1.45"/><circle cx="368.2" cy="793.6" r="1.45"/><circle cx="360.9" cy="845.6" r="1.45"/><circle cx="378.7" cy="838.3" r="1.45"/><circle cx="374.5" cy="829.8" r="1.45"/><circle cx="343.3" cy="723.6" r="1.45"/><circle cx="359.4" cy="771.9" r="1.45"/><circle cx="358.9" cy="834.4" r="1.45"/><circle cx="352.8" cy="765.3" r="1.45"/><circle cx="353.8" cy="793.9" r="1.45"/><circle cx="368.6" cy="844.9" r="1.45"/><circle cx="375.4" cy="846.8" r="1.45"/><circle cx="370" cy="798.7" r="1.45"/><circle cx="373.2" cy="839.6" r="1.45"/><circle cx="384.7" cy="838.2" r="1.45"/><circle cx="360.8" cy="841.2" r="1.45"/><circle cx="361.3" cy="815.5" r="1.45"/><circle cx="376.2" cy="778.8" r="1.45"/><circle cx="365.9" cy="848.6" r="1.45"/><circle cx="364.8" cy="788.4" r="1.45"/><circle cx="340.1" cy="734.1" r="1.45"/><circle cx="359.6" cy="837.8" r="1.45"/><circle cx="386" cy="798.5" r="1.45"/><circle cx="360" cy="823.9" r="1.45"/><circle cx="368.4" cy="811.8" r="1.45"/><circle cx="344.4" cy="739.7" r="1.45"/><circle cx="372.8" cy="823.9" r="1.45"/><circle cx="363.8" cy="750.7" r="1.45"/><circle cx="372.4" cy="819.2" r="1.45"/><circle cx="381.4" cy="851.3" r="1.45"/><circle cx="343.9" cy="724.9" r="1.45"/><circle cx="386.8" cy="819.1" r="1.45"/><circle cx="352.7" cy="763.1" r="1.45"/><circle cx="341.8" cy="743.5" r="1.45"/><circle cx="348.2" cy="731.3" r="1.45"/><circle cx="353.4" cy="804.1" r="1.45"/><circle cx="360.1" cy="836" r="1.45"/><circle cx="346.6" cy="826.1" r="1.45"/><circle cx="363.6" cy="806" r="1.45"/><circle cx="374.8" cy="825.6" r="1.45"/><circle cx="372.7" cy="825.1" r="1.45"/><circle cx="363.6" cy="854.3" r="1.45"/><circle cx="382.4" cy="826.4" r="1.45"/><circle cx="341.9" cy="736.1" r="1.45"/><circle cx="343.9" cy="727.2" r="1.45"/><circle cx="356.9" cy="841.9" r="1.45"/><circle cx="362.5" cy="797" r="1.45"/><circle cx="368.9" cy="833.9" r="1.45"/><circle cx="395.1" cy="812.2" r="1.45"/><circle cx="357.7" cy="785.8" r="1.45"/><circle cx="368.6" cy="832" r="1.45"/><circle cx="328.8" cy="717.7" r="1.45"/><circle cx="349.9" cy="760.2" r="1.45"/><circle cx="377.2" cy="848.2" r="1.45"/><circle cx="355.9" cy="840.1" r="1.45"/><circle cx="366.9" cy="822.6" r="1.45"/><circle cx="359.7" cy="746.7" r="1.45"/><circle cx="345.3" cy="737.6" r="1.45"/><circle cx="367.6" cy="847.2" r="1.45"/><circle cx="377.7" cy="826.6" r="1.45"/><circle cx="353.6" cy="797.5" r="1.45"/><circle cx="374.1" cy="838.1" r="1.45"/><circle cx="354.1" cy="795.7" r="1.45"/><circle cx="369.5" cy="782.4" r="1.45"/><circle cx="358" cy="797.9" r="1.45"/><circle cx="359.9" cy="854.1" r="1.45"/><circle cx="361.9" cy="817.4" r="1.45"/><circle cx="354.5" cy="764.8" r="1.45"/><circle cx="348.2" cy="744.5" r="1.45"/><circle cx="367.3" cy="817.2" r="1.45"/><circle cx="377.3" cy="821.3" r="1.45"/><circle cx="362.3" cy="796.2" r="1.45"/><circle cx="360.8" cy="838.3" r="1.45"/><circle cx="363.5" cy="779.4" r="1.45"/><circle cx="372.3" cy="824" r="1.45"/><circle cx="360.7" cy="827.2" r="1.45"/><circle cx="371.5" cy="845.3" r="1.45"/><circle cx="354" cy="729.7" r="1.45"/><circle cx="355.6" cy="765.9" r="1.45"/><circle cx="354.7" cy="829.1" r="1.45"/><circle cx="354.6" cy="833.1" r="1.45"/><circle cx="364.2" cy="792.9" r="1.45"/><circle cx="372.2" cy="843.2" r="1.45"/><circle cx="367.6" cy="838.5" r="1.45"/><circle cx="365.9" cy="788.8" r="1.45"/><circle cx="355.4" cy="812.3" r="1.45"/><circle cx="363.1" cy="822.6" r="1.45"/><circle cx="353.4" cy="744.9" r="1.45"/><circle cx="357.5" cy="831" r="1.45"/><circle cx="385.5" cy="848.9" r="1.45"/><circle cx="383.3" cy="849.2" r="1.45"/><circle cx="364.3" cy="770" r="1.45"/><circle cx="353.8" cy="742.5" r="1.45"/><circle cx="345.7" cy="754.3" r="1.45"/><circle cx="385.7" cy="842.7" r="1.45"/><circle cx="368" cy="834.5" r="1.45"/><circle cx="352.9" cy="728.1" r="1.45"/><circle cx="383.1" cy="830.9" r="1.45"/><circle cx="406" cy="834.5" r="1.45"/><circle cx="360" cy="789.4" r="1.45"/><circle cx="391.6" cy="838.1" r="1.45"/><circle cx="373.9" cy="797.9" r="1.45"/><circle cx="367.2" cy="790.4" r="1.45"/><circle cx="339.1" cy="665.9" r="1.45"/><circle cx="367.6" cy="824.6" r="1.45"/><circle cx="383.7" cy="791.2" r="1.45"/><circle cx="365.6" cy="790.7" r="1.45"/><circle cx="349" cy="802.3" r="1.45"/><circle cx="363.9" cy="848.6" r="1.45"/><circle cx="381.6" cy="831.5" r="1.45"/><circle cx="342.2" cy="734.4" r="1.45"/><circle cx="376.8" cy="820.7" r="1.45"/><circle cx="367.7" cy="800.9" r="1.45"/><circle cx="346.5" cy="741.1" r="1.45"/><circle cx="364.6" cy="787.6" r="1.45"/><circle cx="396.3" cy="845.2" r="1.45"/><circle cx="372.6" cy="848.2" r="1.45"/><circle cx="357.2" cy="772.2" r="1.45"/><circle cx="383.6" cy="820.5" r="1.45"/><circle cx="340.3" cy="742.6" r="1.45"/><circle cx="371" cy="816.2" r="1.45"/><circle cx="348.6" cy="745.9" r="1.45"/><circle cx="362.2" cy="799.8" r="1.45"/><circle cx="351" cy="753.9" r="1.45"/><circle cx="358.1" cy="786.7" r="1.45"/><circle cx="376.7" cy="844.8" r="1.45"/><circle cx="354.5" cy="745.7" r="1.45"/><circle cx="346.4" cy="752.2" r="1.45"/><circle cx="365" cy="804.3" r="1.45"/><circle cx="369.6" cy="799.2" r="1.45"/><circle cx="370.4" cy="852" r="1.45"/><circle cx="366.7" cy="796.9" r="1.45"/><circle cx="357.5" cy="788.6" r="1.45"/><circle cx="383.9" cy="848.8" r="1.45"/><circle cx="371.8" cy="819.7" r="1.45"/><circle cx="367.6" cy="812.2" r="1.45"/><circle cx="383.5" cy="812.6" r="1.45"/><circle cx="349.3" cy="747.6" r="1.45"/><circle cx="364.2" cy="797.5" r="1.45"/><circle cx="375.9" cy="807.6" r="1.45"/><circle cx="355.9" cy="791.4" r="1.45"/><circle cx="373.9" cy="833.3" r="1.45"/><circle cx="367.3" cy="846.2" r="1.45"/><circle cx="373" cy="835.8" r="1.45"/><circle cx="361.7" cy="807.5" r="1.45"/><circle cx="368.6" cy="828.8" r="1.45"/><circle cx="396.1" cy="849.2" r="1.45"/><circle cx="353.5" cy="809.5" r="1.45"/><circle cx="355.7" cy="772.3" r="1.45"/><circle cx="375.3" cy="791.3" r="1.45"/><circle cx="368.9" cy="791.1" r="1.45"/><circle cx="391.2" cy="815.2" r="1.45"/><circle cx="401.1" cy="835.4" r="1.45"/><circle cx="374.9" cy="756" r="1.45"/><circle cx="358.2" cy="765.2" r="1.45"/><circle cx="334.8" cy="729.8" r="1.45"/><circle cx="371.6" cy="846.3" r="1.45"/><circle cx="380.7" cy="774.9" r="1.45"/><circle cx="367.2" cy="778.5" r="1.45"/><circle cx="381.4" cy="842" r="1.45"/><circle cx="340.8" cy="729.9" r="1.45"/><circle cx="357.9" cy="791.3" r="1.45"/><circle cx="366.1" cy="852.2" r="1.45"/><circle cx="355.2" cy="819.1" r="1.45"/><circle cx="379.2" cy="787.3" r="1.45"/><circle cx="372.5" cy="843.6" r="1.45"/><circle cx="357.4" cy="787.7" r="1.45"/><circle cx="361.3" cy="814.6" r="1.45"/><circle cx="351.7" cy="773.2" r="1.45"/><circle cx="360.9" cy="796.4" r="1.45"/><circle cx="362" cy="798.5" r="1.45"/><circle cx="375" cy="826.9" r="1.45"/><circle cx="355.8" cy="739.8" r="1.45"/><circle cx="398.2" cy="838.8" r="1.45"/><circle cx="374.6" cy="842.2" r="1.45"/><circle cx="347" cy="835.9" r="1.45"/><circle cx="372.9" cy="852.9" r="1.45"/><circle cx="376.4" cy="834.7" r="1.45"/><circle cx="382.8" cy="839.1" r="1.45"/><circle cx="361.3" cy="848" r="1.45"/><circle cx="366.5" cy="833.8" r="1.45"/><circle cx="363.9" cy="763.3" r="1.45"/><circle cx="364.1" cy="848.7" r="1.45"/><circle cx="370.9" cy="830.3" r="1.45"/><circle cx="351.5" cy="797.6" r="1.45"/><circle cx="350.5" cy="785.6" r="1.45"/><circle cx="357.9" cy="775.4" r="1.45"/><circle cx="355.7" cy="764" r="1.45"/><circle cx="342.8" cy="690" r="1.45"/><circle cx="365.2" cy="820.9" r="1.45"/><circle cx="382.6" cy="831.5" r="1.45"/><circle cx="362.3" cy="767.2" r="1.45"/><circle cx="347.2" cy="725.6" r="1.45"/><circle cx="364.5" cy="782.2" r="1.45"/><circle cx="369.3" cy="852.6" r="1.45"/><circle cx="362.4" cy="783.2" r="1.45"/><circle cx="364.9" cy="795.2" r="1.45"/><circle cx="388" cy="815.2" r="1.45"/><circle cx="365.7" cy="823.9" r="1.45"/><circle cx="364.6" cy="797.2" r="1.45"/><circle cx="355.7" cy="830.9" r="1.45"/><circle cx="362.4" cy="808.4" r="1.45"/><circle cx="349.1" cy="734.7" r="1.45"/><circle cx="376.9" cy="818.7" r="1.45"/><circle cx="364.5" cy="855.1" r="1.45"/><circle cx="384.3" cy="821.1" r="1.45"/><circle cx="371.8" cy="829" r="1.45"/><circle cx="373.4" cy="854.3" r="1.45"/><circle cx="361.1" cy="833.1" r="1.45"/><circle cx="352.9" cy="740.9" r="1.45"/><circle cx="363.2" cy="842.4" r="1.45"/><circle cx="379.8" cy="814.7" r="1.45"/><circle cx="367.8" cy="778.6" r="1.45"/><circle cx="344.7" cy="757.9" r="1.45"/><circle cx="363.2" cy="826.5" r="1.45"/><circle cx="337.6" cy="681.8" r="1.45"/><circle cx="373.2" cy="810.6" r="1.45"/><circle cx="362.1" cy="791" r="1.45"/><circle cx="363.8" cy="811.7" r="1.45"/><circle cx="379.6" cy="840.2" r="1.45"/><circle cx="357.3" cy="802.6" r="1.45"/><circle cx="336.3" cy="727.2" r="1.45"/><circle cx="371.6" cy="804.9" r="1.45"/><circle cx="364.6" cy="828.5" r="1.45"/><circle cx="365.7" cy="843.4" r="1.45"/><circle cx="366.3" cy="839.8" r="1.45"/><circle cx="353.7" cy="800.8" r="1.45"/><circle cx="366.5" cy="781.5" r="1.45"/><circle cx="381.8" cy="784.9" r="1.45"/><circle cx="374.5" cy="800.6" r="1.45"/><circle cx="376.2" cy="816.4" r="1.45"/><circle cx="354.9" cy="771.5" r="1.45"/><circle cx="369.2" cy="813.6" r="1.45"/><circle cx="357.4" cy="821" r="1.45"/><circle cx="363.2" cy="817.9" r="1.45"/><circle cx="338.3" cy="684.8" r="1.45"/><circle cx="394.4" cy="836.2" r="1.45"/><circle cx="344.4" cy="737.4" r="1.45"/><circle cx="360.3" cy="843.4" r="1.45"/><circle cx="360" cy="819.6" r="1.45"/><circle cx="370" cy="846.7" r="1.45"/><circle cx="357.8" cy="763.2" r="1.45"/><circle cx="366.7" cy="855.1" r="1.45"/><circle cx="368.3" cy="835" r="1.45"/><circle cx="340.4" cy="736.9" r="1.45"/><circle cx="362.2" cy="779.3" r="1.45"/><circle cx="360.2" cy="819.6" r="1.45"/><circle cx="343.6" cy="701.7" r="1.45"/><circle cx="367.6" cy="817.4" r="1.45"/><circle cx="369.9" cy="815.2" r="1.45"/><circle cx="390.8" cy="826.8" r="1.45"/><circle cx="365.2" cy="823.7" r="1.45"/><circle cx="365.8" cy="854.4" r="1.45"/><circle cx="363.9" cy="789.4" r="1.45"/><circle cx="378.5" cy="837.1" r="1.45"/><circle cx="361.1" cy="776.5" r="1.45"/><circle cx="358.8" cy="787.9" r="1.45"/><circle cx="340.8" cy="729.5" r="1.45"/><circle cx="355" cy="817.4" r="1.45"/><circle cx="355.2" cy="821" r="1.45"/><circle cx="344" cy="725.8" r="1.45"/><circle cx="344.2" cy="761.4" r="1.45"/><circle cx="362.1" cy="777.1" r="1.45"/><circle cx="392.8" cy="837.2" r="1.45"/><circle cx="369.3" cy="817.7" r="1.45"/><circle cx="364" cy="821.7" r="1.45"/><circle cx="373.5" cy="808.7" r="1.45"/><circle cx="361.5" cy="764.8" r="1.45"/><circle cx="360.3" cy="783.7" r="1.45"/><circle cx="372.5" cy="825.7" r="1.45"/><circle cx="360.2" cy="810.1" r="1.45"/><circle cx="353" cy="739" r="1.45"/><circle cx="367.9" cy="851.5" r="1.45"/><circle cx="348.2" cy="778.9" r="1.45"/><circle cx="347.8" cy="744.9" r="1.45"/><circle cx="374.3" cy="835.5" r="1.45"/><circle cx="356.4" cy="796" r="1.45"/><circle cx="359.6" cy="851.8" r="1.45"/><circle cx="363" cy="843.8" r="1.45"/><circle cx="339.7" cy="708.4" r="1.45"/><circle cx="381" cy="854.8" r="1.45"/><circle cx="382.5" cy="839.5" r="1.45"/><circle cx="368.2" cy="845.5" r="1.45"/><circle cx="386.4" cy="837.4" r="1.45"/><circle cx="355.1" cy="749.8" r="1.45"/><circle cx="358.9" cy="719.4" r="1.45"/><circle cx="377.3" cy="853" r="1.45"/><circle cx="357.5" cy="794.9" r="1.45"/><circle cx="372.7" cy="833.8" r="1.45"/><circle cx="375.2" cy="850.6" r="1.45"/><circle cx="359.5" cy="762.6" r="1.45"/><circle cx="372.4" cy="833.4" r="1.45"/><circle cx="365.2" cy="821.3" r="1.45"/><circle cx="358.9" cy="785.5" r="1.45"/><circle cx="360" cy="838.4" r="1.45"/><circle cx="367.3" cy="820.5" r="1.45"/><circle cx="360.8" cy="820.3" r="1.45"/><circle cx="353.9" cy="771.8" r="1.45"/><circle cx="339.6" cy="709.1" r="1.45"/><circle cx="371.5" cy="839.4" r="1.45"/><circle cx="352.2" cy="726.2" r="1.45"/><circle cx="362.7" cy="769" r="1.45"/><circle cx="366.4" cy="831.7" r="1.45"/><circle cx="370.9" cy="819.5" r="1.45"/><circle cx="371.7" cy="826" r="1.45"/><circle cx="337.3" cy="724.8" r="1.45"/><circle cx="341.7" cy="836.8" r="1.45"/><circle cx="356.7" cy="789.2" r="1.45"/><circle cx="365.5" cy="814.3" r="1.45"/><circle cx="373" cy="830.4" r="1.45"/><circle cx="409.3" cy="838.3" r="1.45"/><circle cx="379" cy="805.9" r="1.45"/><circle cx="378.9" cy="822.7" r="1.45"/><circle cx="372.4" cy="853.3" r="1.45"/><circle cx="349.1" cy="755.9" r="1.45"/><circle cx="366.3" cy="787.5" r="1.45"/><circle cx="341.4" cy="704.4" r="1.45"/><circle cx="349.3" cy="746.5" r="1.45"/><circle cx="372.7" cy="849.9" r="1.45"/><circle cx="355.2" cy="755.4" r="1.45"/><circle cx="342.5" cy="721.1" r="1.45"/><circle cx="340.7" cy="740.1" r="1.45"/><circle cx="360.8" cy="798.1" r="1.45"/><circle cx="338.8" cy="710.5" r="1.45"/><circle cx="382.3" cy="854" r="1.45"/><circle cx="365.5" cy="844.1" r="1.45"/><circle cx="376.1" cy="802.4" r="1.45"/><circle cx="360.1" cy="754.4" r="1.45"/><circle cx="370.3" cy="829.4" r="1.45"/><circle cx="397.1" cy="807.6" r="1.45"/><circle cx="374.2" cy="823.3" r="1.45"/><circle cx="359.2" cy="809.5" r="1.45"/><circle cx="349.2" cy="757.5" r="1.45"/><circle cx="366.9" cy="784.9" r="1.45"/><circle cx="352.4" cy="797" r="1.45"/><circle cx="342.5" cy="699.8" r="1.45"/><circle cx="342.4" cy="669.4" r="1.45"/><circle cx="339" cy="723.8" r="1.45"/><circle cx="358.4" cy="846.1" r="1.45"/><circle cx="363.8" cy="811.1" r="1.45"/><circle cx="355.6" cy="762" r="1.45"/><circle cx="351.9" cy="821.3" r="1.45"/><circle cx="368.1" cy="814.4" r="1.45"/><circle cx="391.9" cy="797.6" r="1.45"/><circle cx="383" cy="823.5" r="1.45"/><circle cx="370" cy="775.1" r="1.45"/><circle cx="361.9" cy="813.4" r="1.45"/><circle cx="366.6" cy="774.6" r="1.45"/><circle cx="376.9" cy="818.8" r="1.45"/><circle cx="375.8" cy="773.7" r="1.45"/><circle cx="355.5" cy="739.1" r="1.45"/><circle cx="361.8" cy="750.1" r="1.45"/><circle cx="395.1" cy="806.8" r="1.45"/><circle cx="362.5" cy="767.4" r="1.45"/><circle cx="359.2" cy="750.9" r="1.45"/><circle cx="375" cy="787.1" r="1.45"/><circle cx="401.1" cy="824.2" r="1.45"/><circle cx="336.7" cy="685.1" r="1.45"/><circle cx="346.6" cy="708.4" r="1.45"/><circle cx="342" cy="747.8" r="1.45"/><circle cx="355" cy="738.2" r="1.45"/><circle cx="348" cy="795.2" r="1.45"/><circle cx="366.4" cy="789.2" r="1.45"/><circle cx="381.8" cy="825.7" r="1.45"/><circle cx="354.2" cy="822.8" r="1.45"/><circle cx="379.4" cy="850.5" r="1.45"/><circle cx="367.9" cy="846.8" r="1.45"/><circle cx="359.6" cy="832" r="1.45"/><circle cx="369.1" cy="844.6" r="1.45"/><circle cx="370.4" cy="854.6" r="1.45"/><circle cx="342.1" cy="711.2" r="1.45"/><circle cx="348.1" cy="708.9" r="1.45"/><circle cx="371.1" cy="817.1" r="1.45"/><circle cx="349.9" cy="753.5" r="1.45"/><circle cx="368.8" cy="812.2" r="1.45"/><circle cx="381.1" cy="829.6" r="1.45"/><circle cx="368.5" cy="747" r="1.45"/><circle cx="365.7" cy="843.8" r="1.45"/><circle cx="371.2" cy="849.2" r="1.45"/><circle cx="360" cy="842.7" r="1.45"/><circle cx="380.1" cy="842.4" r="1.45"/><circle cx="373.7" cy="765.5" r="1.45"/><circle cx="375.5" cy="806" r="1.45"/><circle cx="370.9" cy="817.4" r="1.45"/><circle cx="352.6" cy="815.3" r="1.45"/><circle cx="364.2" cy="804.6" r="1.45"/><circle cx="367.6" cy="804.3" r="1.45"/><circle cx="367.9" cy="799.7" r="1.45"/><circle cx="368.9" cy="807.7" r="1.45"/><circle cx="360.2" cy="774.8" r="1.45"/><circle cx="372" cy="823.6" r="1.45"/><circle cx="362.5" cy="796.5" r="1.45"/><circle cx="383.8" cy="813.4" r="1.45"/><circle cx="365.1" cy="843.9" r="1.45"/><circle cx="364.8" cy="764.7" r="1.45"/><circle cx="369.7" cy="783" r="1.45"/><circle cx="360.9" cy="787" r="1.45"/><circle cx="366.4" cy="801.9" r="1.45"/><circle cx="345.2" cy="749.3" r="1.45"/><circle cx="362.1" cy="832.2" r="1.45"/><circle cx="353" cy="748.8" r="1.45"/><circle cx="370.7" cy="821.6" r="1.45"/><circle cx="348.5" cy="708" r="1.45"/><circle cx="348.9" cy="725.4" r="1.45"/><circle cx="372.7" cy="826.2" r="1.45"/><circle cx="361.2" cy="834.7" r="1.45"/><circle cx="370.1" cy="839.8" r="1.45"/><circle cx="366.6" cy="852.9" r="1.45"/><circle cx="341.1" cy="719.3" r="1.45"/><circle cx="355" cy="828.2" r="1.45"/><circle cx="378.1" cy="823.3" r="1.45"/><circle cx="368.5" cy="818.7" r="1.45"/><circle cx="372.9" cy="841.5" r="1.45"/><circle cx="387.6" cy="778.5" r="1.45"/><circle cx="367.5" cy="798.7" r="1.45"/><circle cx="374.9" cy="841.5" r="1.45"/><circle cx="369.6" cy="845.4" r="1.45"/><circle cx="372.7" cy="808.2" r="1.45"/><circle cx="383.6" cy="806" r="1.45"/><circle cx="364.9" cy="825.6" r="1.45"/><circle cx="355.6" cy="772.6" r="1.45"/><circle cx="357.1" cy="833.8" r="1.45"/><circle cx="372.6" cy="846.6" r="1.45"/><circle cx="372" cy="782.2" r="1.45"/><circle cx="362.7" cy="762.4" r="1.45"/><circle cx="368.2" cy="807.2" r="1.45"/><circle cx="373.4" cy="852.5" r="1.45"/><circle cx="362.6" cy="779.4" r="1.45"/><circle cx="374" cy="788.2" r="1.45"/><circle cx="352.7" cy="796.3" r="1.45"/><circle cx="373.6" cy="842.3" r="1.45"/><circle cx="392" cy="815.2" r="1.45"/><circle cx="376.6" cy="844.6" r="1.45"/><circle cx="343" cy="676" r="1.45"/><circle cx="388.1" cy="849.9" r="1.45"/><circle cx="373.2" cy="848.5" r="1.45"/><circle cx="379.8" cy="846.3" r="1.45"/><circle cx="359" cy="803.7" r="1.45"/><circle cx="357.3" cy="789.8" r="1.45"/><circle cx="373.8" cy="827.5" r="1.45"/><circle cx="364.7" cy="809.1" r="1.45"/><circle cx="342.9" cy="705.1" r="1.45"/><circle cx="375.8" cy="848.1" r="1.45"/><circle cx="343.3" cy="811.8" r="1.45"/><circle cx="350.5" cy="822.2" r="1.45"/><circle cx="370" cy="810.6" r="1.45"/><circle cx="367.7" cy="762.8" r="1.45"/><circle cx="357.6" cy="810.1" r="1.45"/><circle cx="362.5" cy="795.4" r="1.45"/><circle cx="362.8" cy="807.5" r="1.45"/><circle cx="368.8" cy="848.8" r="1.45"/><circle cx="379.5" cy="835.3" r="1.45"/><circle cx="353.7" cy="762.2" r="1.45"/><circle cx="373" cy="841" r="1.45"/><circle cx="370.3" cy="851.9" r="1.45"/><circle cx="373.6" cy="785.9" r="1.45"/><circle cx="364.3" cy="835.3" r="1.45"/><circle cx="365" cy="825.9" r="1.45"/><circle cx="354.9" cy="781.7" r="1.45"/><circle cx="370.9" cy="806.7" r="1.45"/><circle cx="341.1" cy="713.4" r="1.45"/><circle cx="352.4" cy="745.6" r="1.45"/><circle cx="390.7" cy="841.2" r="1.45"/><circle cx="357.1" cy="849.8" r="1.45"/><circle cx="368.5" cy="839.4" r="1.45"/><circle cx="360.6" cy="847.1" r="1.45"/><circle cx="361.9" cy="829.8" r="1.45"/><circle cx="354.1" cy="777.9" r="1.45"/><circle cx="368.6" cy="818.5" r="1.45"/><circle cx="368.8" cy="824.3" r="1.45"/><circle cx="368.7" cy="788.1" r="1.45"/><circle cx="357.5" cy="825.1" r="1.45"/><circle cx="395.2" cy="835.3" r="1.45"/><circle cx="358.3" cy="754" r="1.45"/><circle cx="347.3" cy="780.4" r="1.45"/><circle cx="362.3" cy="777.7" r="1.45"/><circle cx="360.3" cy="716.9" r="1.45"/><circle cx="373.7" cy="817.7" r="1.45"/><circle cx="364.6" cy="791" r="1.45"/><circle cx="358.7" cy="784.1" r="1.45"/><circle cx="377" cy="801.2" r="1.45"/><circle cx="348.6" cy="800.5" r="1.45"/><circle cx="354.8" cy="740.9" r="1.45"/><circle cx="375.6" cy="849" r="1.45"/><circle cx="365.9" cy="829" r="1.45"/><circle cx="357.8" cy="796.9" r="1.45"/><circle cx="355" cy="771.3" r="1.45"/><circle cx="360" cy="829.7" r="1.45"/><circle cx="347.2" cy="735.1" r="1.45"/><circle cx="373.4" cy="798" r="1.45"/><circle cx="371.3" cy="820.9" r="1.45"/><circle cx="368.9" cy="845.7" r="1.45"/><circle cx="353.7" cy="800.8" r="1.45"/><circle cx="357.7" cy="785.9" r="1.45"/><circle cx="358" cy="748.9" r="1.45"/><circle cx="368.9" cy="836.1" r="1.45"/><circle cx="386.6" cy="847.8" r="1.45"/><circle cx="368.2" cy="805.9" r="1.45"/><circle cx="360.1" cy="790.5" r="1.45"/><circle cx="341.6" cy="715.3" r="1.45"/><circle cx="358.3" cy="792.5" r="1.45"/><circle cx="384.4" cy="840" r="1.45"/><circle cx="358.6" cy="774" r="1.45"/><circle cx="383.2" cy="820.2" r="1.45"/><circle cx="367.5" cy="802.6" r="1.45"/><circle cx="357.2" cy="770.9" r="1.45"/><circle cx="363.5" cy="853.5" r="1.45"/><circle cx="383.4" cy="826.7" r="1.45"/><circle cx="347.6" cy="735.9" r="1.45"/><circle cx="358.6" cy="763.3" r="1.45"/><circle cx="383.8" cy="835.9" r="1.45"/><circle cx="363.7" cy="843" r="1.45"/><circle cx="368.6" cy="847.8" r="1.45"/><circle cx="370.4" cy="854.7" r="1.45"/><circle cx="360.5" cy="819.9" r="1.45"/><circle cx="355.6" cy="788.2" r="1.45"/><circle cx="375" cy="821.5" r="1.45"/><circle cx="360" cy="764.7" r="1.45"/><circle cx="378" cy="845.6" r="1.45"/><circle cx="343.4" cy="698" r="1.45"/><circle cx="363.2" cy="781.7" r="1.45"/><circle cx="372.1" cy="853.4" r="1.45"/><circle cx="379.8" cy="823.9" r="1.45"/><circle cx="342.5" cy="716.6" r="1.45"/><circle cx="376.9" cy="850.1" r="1.45"/><circle cx="379.5" cy="828" r="1.45"/><circle cx="376.9" cy="815.5" r="1.45"/><circle cx="346" cy="745.9" r="1.45"/><circle cx="362.9" cy="817.3" r="1.45"/><circle cx="400.4" cy="841.1" r="1.45"/><circle cx="368" cy="815.9" r="1.45"/><circle cx="382.2" cy="835.3" r="1.45"/><circle cx="343.3" cy="723" r="1.45"/><circle cx="363.5" cy="837.5" r="1.45"/><circle cx="354.8" cy="760.9" r="1.45"/><circle cx="357.8" cy="786.1" r="1.45"/><circle cx="378.6" cy="820" r="1.45"/><circle cx="362.9" cy="740.3" r="1.45"/><circle cx="355.7" cy="778.8" r="1.45"/><circle cx="388.1" cy="798.2" r="1.45"/><circle cx="378.4" cy="764.3" r="1.45"/><circle cx="365.5" cy="774.5" r="1.45"/><circle cx="354.5" cy="758" r="1.45"/><circle cx="380" cy="809" r="1.45"/><circle cx="374.5" cy="836.9" r="1.45"/><circle cx="403.5" cy="841.6" r="1.45"/><circle cx="368.2" cy="760.6" r="1.45"/><circle cx="347.1" cy="738.7" r="1.45"/><circle cx="370.8" cy="829.7" r="1.45"/><circle cx="359" cy="791.3" r="1.45"/><circle cx="360.9" cy="829" r="1.45"/><circle cx="356.9" cy="804.9" r="1.45"/><circle cx="375.1" cy="817.9" r="1.45"/><circle cx="359.1" cy="806.8" r="1.45"/><circle cx="359.2" cy="793.6" r="1.45"/><circle cx="378" cy="852.8" r="1.45"/><circle cx="386.6" cy="798.2" r="1.45"/><circle cx="374.8" cy="844.3" r="1.45"/><circle cx="368.4" cy="842.6" r="1.45"/><circle cx="361.2" cy="774" r="1.45"/><circle cx="371" cy="832.2" r="1.45"/><circle cx="358.4" cy="815.5" r="1.45"/><circle cx="370.8" cy="778" r="1.45"/><circle cx="349.5" cy="744.3" r="1.45"/><circle cx="355.5" cy="778.1" r="1.45"/><circle cx="346.6" cy="707.5" r="1.45"/><circle cx="370.6" cy="829.8" r="1.45"/><circle cx="355" cy="806.3" r="1.45"/><circle cx="377.6" cy="837.7" r="1.45"/><circle cx="351.7" cy="830.8" r="1.45"/><circle cx="374" cy="830.8" r="1.45"/><circle cx="361.7" cy="763.7" r="1.45"/><circle cx="339.4" cy="729" r="1.45"/><circle cx="354.8" cy="754.3" r="1.45"/><circle cx="354.4" cy="849.8" r="1.45"/><circle cx="355.5" cy="771.1" r="1.45"/><circle cx="346.8" cy="693.7" r="1.45"/><circle cx="354.5" cy="792.4" r="1.45"/><circle cx="371.8" cy="855.5" r="1.45"/><circle cx="375.2" cy="796.1" r="1.45"/><circle cx="378.1" cy="849.6" r="1.45"/><circle cx="367.7" cy="855.5" r="1.45"/><circle cx="370.1" cy="846.8" r="1.45"/><circle cx="360.3" cy="814.5" r="1.45"/><circle cx="345.6" cy="841.6" r="1.45"/><circle cx="374.3" cy="851.4" r="1.45"/><circle cx="357.1" cy="788.4" r="1.45"/><circle cx="376.6" cy="838.1" r="1.45"/><circle cx="388.4" cy="853.1" r="1.45"/><circle cx="359.9" cy="801.8" r="1.45"/><circle cx="362.8" cy="794.4" r="1.45"/><circle cx="370.8" cy="811.2" r="1.45"/><circle cx="393.3" cy="845.4" r="1.45"/><circle cx="372.8" cy="816.4" r="1.45"/><circle cx="355" cy="784.3" r="1.45"/><circle cx="357.3" cy="793.4" r="1.45"/><circle cx="378.8" cy="837.5" r="1.45"/><circle cx="375.3" cy="844.4" r="1.45"/><circle cx="360.4" cy="816.9" r="1.45"/><circle cx="358.2" cy="850.1" r="1.45"/><circle cx="366.7" cy="799.1" r="1.45"/><circle cx="374.6" cy="854.7" r="1.45"/><circle cx="357.4" cy="767.3" r="1.45"/><circle cx="369.4" cy="814.7" r="1.45"/><circle cx="368" cy="825.2" r="1.45"/><circle cx="368.9" cy="808.9" r="1.45"/><circle cx="369.7" cy="841.1" r="1.45"/><circle cx="363.3" cy="853" r="1.45"/><circle cx="349.9" cy="739.6" r="1.45"/><circle cx="355" cy="755.5" r="1.45"/><circle cx="343.8" cy="720" r="1.45"/><circle cx="390.6" cy="836.4" r="1.45"/><circle cx="386" cy="821.7" r="1.45"/><circle cx="360.9" cy="834.5" r="1.45"/><circle cx="362.9" cy="807" r="1.45"/><circle cx="376.9" cy="855.9" r="1.45"/><circle cx="366.7" cy="843.1" r="1.45"/><circle cx="354.7" cy="792.4" r="1.45"/><circle cx="348.8" cy="748.5" r="1.45"/><circle cx="346.4" cy="726.1" r="1.45"/><circle cx="375.1" cy="817.3" r="1.45"/><circle cx="386.5" cy="833.6" r="1.45"/><circle cx="371.4" cy="751.4" r="1.45"/><circle cx="361.4" cy="774.9" r="1.45"/><circle cx="362.8" cy="825.2" r="1.45"/><circle cx="356" cy="821" r="1.45"/><circle cx="369.2" cy="812" r="1.45"/><circle cx="354.6" cy="825.4" r="1.45"/><circle cx="367.6" cy="821.3" r="1.45"/><circle cx="399.9" cy="836.2" r="1.45"/><circle cx="336.5" cy="723.6" r="1.45"/><circle cx="377.7" cy="818" r="1.45"/><circle cx="370.8" cy="809.3" r="1.45"/><circle cx="350.7" cy="758.6" r="1.45"/><circle cx="344.3" cy="733.9" r="1.45"/><circle cx="364.1" cy="776.5" r="1.45"/><circle cx="387.1" cy="782.4" r="1.45"/><circle cx="363.1" cy="768.1" r="1.45"/><circle cx="353.7" cy="821.6" r="1.45"/><circle cx="364.1" cy="794.2" r="1.45"/><circle cx="356.3" cy="802.4" r="1.45"/><circle cx="368.3" cy="809.9" r="1.45"/><circle cx="368.6" cy="828.2" r="1.45"/><circle cx="354.5" cy="828.1" r="1.45"/><circle cx="366.3" cy="825.8" r="1.45"/><circle cx="364.3" cy="804.5" r="1.45"/><circle cx="345.2" cy="743.5" r="1.45"/><circle cx="375.7" cy="855.5" r="1.45"/><circle cx="370.5" cy="785.6" r="1.45"/><circle cx="360.9" cy="854.9" r="1.45"/><circle cx="352.6" cy="648.2" r="1.45"/><circle cx="354.2" cy="743.7" r="1.45"/><circle cx="345.5" cy="734.9" r="1.45"/><circle cx="346.6" cy="743.3" r="1.45"/><circle cx="365" cy="756.7" r="1.45"/><circle cx="339.9" cy="704.8" r="1.45"/><circle cx="371.3" cy="759.6" r="1.45"/><circle cx="342.9" cy="700" r="1.45"/><circle cx="350.3" cy="752.7" r="1.45"/><circle cx="338" cy="695.3" r="1.45"/><circle cx="348.1" cy="730.5" r="1.45"/><circle cx="341.6" cy="724.2" r="1.45"/><circle cx="361.1" cy="757.1" r="1.45"/><circle cx="343.2" cy="686.3" r="1.45"/><circle cx="334.8" cy="730.9" r="1.45"/><circle cx="345.1" cy="687" r="1.45"/><circle cx="340.9" cy="712" r="1.45"/><circle cx="352.4" cy="720" r="1.45"/><circle cx="353.6" cy="703.3" r="1.45"/><circle cx="339.3" cy="726.1" r="1.45"/><circle cx="345.9" cy="708.8" r="1.45"/><circle cx="358.7" cy="716.4" r="1.45"/><circle cx="352" cy="710" r="1.45"/><circle cx="349.6" cy="726.1" r="1.45"/><circle cx="331.8" cy="720.3" r="1.45"/><circle cx="335.9" cy="699.4" r="1.45"/><circle cx="372.8" cy="752.2" r="1.45"/><circle cx="342.1" cy="643.3" r="1.45"/><circle cx="367.4" cy="757.1" r="1.45"/><circle cx="331" cy="683.9" r="1.45"/><circle cx="346.4" cy="750.6" r="1.45"/><circle cx="351.1" cy="721.7" r="1.45"/><circle cx="338.5" cy="721.1" r="1.45"/><circle cx="345.1" cy="730.6" r="1.45"/><circle cx="355.6" cy="749.3" r="1.45"/><circle cx="338.6" cy="690.4" r="1.45"/><circle cx="354.9" cy="719.7" r="1.45"/><circle cx="347.4" cy="679.8" r="1.45"/><circle cx="339.1" cy="655.4" r="1.45"/><circle cx="356.5" cy="751.2" r="1.45"/><circle cx="342.7" cy="717.5" r="1.45"/><circle cx="355.1" cy="676" r="1.45"/><circle cx="366.9" cy="749.1" r="1.45"/><circle cx="350.7" cy="756.7" r="1.45"/><circle cx="351.3" cy="706.1" r="1.45"/><circle cx="347.4" cy="666.5" r="1.45"/><circle cx="363.3" cy="751.4" r="1.45"/><circle cx="345.8" cy="715.3" r="1.45"/><circle cx="334.3" cy="693.2" r="1.45"/><circle cx="340.4" cy="655.8" r="1.45"/><circle cx="334.4" cy="717.7" r="1.45"/><circle cx="356.1" cy="741.9" r="1.45"/><circle cx="338.1" cy="711.3" r="1.45"/><circle cx="352.1" cy="733.7" r="1.45"/><circle cx="355.2" cy="738" r="1.45"/><circle cx="343.1" cy="647.8" r="1.45"/><circle cx="347.6" cy="695.8" r="1.45"/><circle cx="356.8" cy="757.4" r="1.45"/><circle cx="338.3" cy="660" r="1.45"/><circle cx="363.1" cy="760.3" r="1.45"/><circle cx="357.5" cy="746.3" r="1.45"/><circle cx="352.7" cy="715.6" r="1.45"/><circle cx="351.3" cy="677.3" r="1.45"/><circle cx="340.8" cy="666.5" r="1.45"/><circle cx="344" cy="716.4" r="1.45"/><circle cx="342" cy="702.9" r="1.45"/><circle cx="348.6" cy="711" r="1.45"/><circle cx="352.6" cy="710.5" r="1.45"/><circle cx="358.3" cy="723.2" r="1.45"/><circle cx="341.1" cy="703" r="1.45"/><circle cx="351.1" cy="682.1" r="1.45"/><circle cx="342.6" cy="698.4" r="1.45"/><circle cx="352.8" cy="753.3" r="1.45"/><circle cx="361" cy="742.3" r="1.45"/><circle cx="348.6" cy="706.9" r="1.45"/><circle cx="347.1" cy="701.4" r="1.45"/><circle cx="340.8" cy="740.5" r="1.45"/><circle cx="361.9" cy="730.9" r="1.45"/><circle cx="366.4" cy="753.2" r="1.45"/><circle cx="360.3" cy="752.6" r="1.45"/><circle cx="361" cy="677.4" r="1.45"/><circle cx="368.3" cy="754.6" r="1.45"/><circle cx="350.3" cy="694.5" r="1.45"/><circle cx="342" cy="641.2" r="1.45"/><circle cx="360.3" cy="706.5" r="1.45"/><circle cx="341.4" cy="730.4" r="1.45"/><circle cx="364.5" cy="750" r="1.45"/><circle cx="367.2" cy="755.9" r="1.45"/><circle cx="335.6" cy="648.9" r="1.45"/><circle cx="349" cy="657.4" r="1.45"/><circle cx="339.4" cy="732.1" r="1.45"/><circle cx="341.4" cy="732.4" r="1.45"/><circle cx="344.6" cy="716.8" r="1.45"/><circle cx="347.8" cy="736.9" r="1.45"/><circle cx="346.5" cy="672.3" r="1.45"/><circle cx="341" cy="648.5" r="1.45"/><circle cx="353.3" cy="732.3" r="1.45"/><circle cx="368.8" cy="740.5" r="1.45"/><circle cx="339.9" cy="701.4" r="1.45"/><circle cx="344" cy="683.1" r="1.45"/><circle cx="347.4" cy="699.1" r="1.45"/><circle cx="348.1" cy="666.5" r="1.45"/><circle cx="349.8" cy="745.8" r="1.45"/><circle cx="341.2" cy="679.4" r="1.45"/><circle cx="353.2" cy="711.6" r="1.45"/><circle cx="344" cy="726.1" r="1.45"/><circle cx="332.7" cy="665.8" r="1.45"/><circle cx="371" cy="753.5" r="1.45"/><circle cx="354.6" cy="671.7" r="1.45"/><circle cx="356.2" cy="683.5" r="1.45"/><circle cx="335.2" cy="702.4" r="1.45"/><circle cx="358.2" cy="678.1" r="1.45"/><circle cx="354.6" cy="749.3" r="1.45"/><circle cx="336.4" cy="677.5" r="1.45"/><circle cx="352.4" cy="731.2" r="1.45"/><circle cx="341.2" cy="691.4" r="1.45"/><circle cx="332.3" cy="665.8" r="1.45"/><circle cx="366.3" cy="721.4" r="1.45"/><circle cx="347.3" cy="709.8" r="1.45"/><circle cx="353.5" cy="745.9" r="1.45"/><circle cx="356.2" cy="741.5" r="1.45"/><circle cx="345.8" cy="655.6" r="1.45"/><circle cx="345" cy="677.1" r="1.45"/><circle cx="334.3" cy="744.6" r="1.45"/><circle cx="346.6" cy="725.3" r="1.45"/><circle cx="342.5" cy="747.8" r="1.45"/><circle cx="338.5" cy="691.9" r="1.45"/><circle cx="347.9" cy="658.3" r="1.45"/><circle cx="338.4" cy="677.4" r="1.45"/><circle cx="349.4" cy="678.3" r="1.45"/><circle cx="340.5" cy="730.7" r="1.45"/><circle cx="355" cy="737.6" r="1.45"/><circle cx="359.4" cy="688" r="1.45"/><circle cx="336.6" cy="716.2" r="1.45"/><circle cx="344.2" cy="715.6" r="1.45"/><circle cx="360" cy="699.1" r="1.45"/><circle cx="353.2" cy="701.9" r="1.45"/><circle cx="359.6" cy="741.9" r="1.45"/><circle cx="339.9" cy="661.8" r="1.45"/><circle cx="356.6" cy="738.6" r="1.45"/><circle cx="358.2" cy="708.9" r="1.45"/><circle cx="341.8" cy="674" r="1.45"/><circle cx="344.3" cy="676.5" r="1.45"/><circle cx="337.3" cy="671.3" r="1.45"/><circle cx="355.9" cy="730.3" r="1.45"/><circle cx="353.4" cy="756.6" r="1.45"/><circle cx="359" cy="734.6" r="1.45"/><circle cx="340.9" cy="688.7" r="1.45"/><circle cx="339.2" cy="703.3" r="1.45"/><circle cx="360.7" cy="757" r="1.45"/><circle cx="346.4" cy="659.2" r="1.45"/><circle cx="351.3" cy="759.6" r="1.45"/><circle cx="360.1" cy="740.5" r="1.45"/><circle cx="360.6" cy="719.2" r="1.45"/><circle cx="335.6" cy="691.1" r="1.45"/><circle cx="352.9" cy="683.9" r="1.45"/><circle cx="348.3" cy="707.2" r="1.45"/><circle cx="351.7" cy="735.8" r="1.45"/><circle cx="360.8" cy="744.6" r="1.45"/><circle cx="352.4" cy="747.8" r="1.45"/><circle cx="366" cy="745.4" r="1.45"/><circle cx="351.7" cy="714.1" r="1.45"/><circle cx="347.5" cy="669.5" r="1.45"/><circle cx="354.5" cy="747" r="1.45"/><circle cx="335.4" cy="673.8" r="1.45"/><circle cx="332.7" cy="701.6" r="1.45"/><circle cx="338.2" cy="692.5" r="1.45"/><circle cx="344.9" cy="710.1" r="1.45"/><circle cx="338.9" cy="681" r="1.45"/><circle cx="350.9" cy="732.1" r="1.45"/><circle cx="359" cy="707.1" r="1.45"/><circle cx="332" cy="681" r="1.45"/><circle cx="329.5" cy="685.4" r="1.45"/><circle cx="349.8" cy="695" r="1.45"/><circle cx="330.8" cy="706" r="1.45"/><circle cx="346.9" cy="655" r="1.45"/><circle cx="348.1" cy="716" r="1.45"/><circle cx="367.3" cy="748.7" r="1.45"/><circle cx="340.9" cy="661.5" r="1.45"/><circle cx="354.1" cy="662.1" r="1.45"/><circle cx="347.2" cy="731.7" r="1.45"/><circle cx="353.1" cy="721.3" r="1.45"/><circle cx="348.9" cy="696.4" r="1.45"/><circle cx="354.7" cy="751.6" r="1.45"/><circle cx="340.5" cy="682.1" r="1.45"/><circle cx="342.2" cy="653.6" r="1.45"/><circle cx="344.2" cy="672.8" r="1.45"/><circle cx="348.8" cy="753" r="1.45"/><circle cx="348" cy="726.2" r="1.45"/><circle cx="360.7" cy="745.4" r="1.45"/><circle cx="354.5" cy="732.5" r="1.45"/><circle cx="348.3" cy="707.7" r="1.45"/><circle cx="370.1" cy="755.6" r="1.45"/><circle cx="346.8" cy="727.1" r="1.45"/><circle cx="342.2" cy="683.2" r="1.45"/><circle cx="350.7" cy="754.3" r="1.45"/><circle cx="358.5" cy="723.2" r="1.45"/><circle cx="344.6" cy="736.2" r="1.45"/><circle cx="360.3" cy="686.5" r="1.45"/><circle cx="348.9" cy="716.4" r="1.45"/><circle cx="343.8" cy="720.1" r="1.45"/><circle cx="349.5" cy="735.1" r="1.45"/><circle cx="344.6" cy="711.6" r="1.45"/><circle cx="338.2" cy="715.6" r="1.45"/><circle cx="360.4" cy="757" r="1.45"/><circle cx="351.3" cy="724" r="1.45"/><circle cx="356.2" cy="662.6" r="1.45"/><circle cx="343.4" cy="701.5" r="1.45"/><circle cx="345.3" cy="750.6" r="1.45"/><circle cx="351.3" cy="724.3" r="1.45"/><circle cx="380.8" cy="732" r="1.45"/><circle cx="384" cy="716.7" r="1.45"/><circle cx="383.9" cy="707.4" r="1.45"/><circle cx="386.4" cy="746" r="1.45"/><circle cx="388.5" cy="748.3" r="1.45"/><circle cx="390.6" cy="792.5" r="1.45"/><circle cx="386" cy="723.1" r="1.45"/><circle cx="384.3" cy="647.5" r="1.45"/><circle cx="388.6" cy="683.1" r="1.45"/><circle cx="391.2" cy="719.3" r="1.45"/><circle cx="381.4" cy="732.7" r="1.45"/><circle cx="385.7" cy="739.1" r="1.45"/><circle cx="393" cy="782" r="1.45"/><circle cx="405.1" cy="729.8" r="1.45"/><circle cx="381.7" cy="758.7" r="1.45"/><circle cx="380.8" cy="695.9" r="1.45"/><circle cx="392.4" cy="792.8" r="1.45"/><circle cx="389.2" cy="671.8" r="1.45"/><circle cx="387.9" cy="782.7" r="1.45"/><circle cx="382.1" cy="754.9" r="1.45"/><circle cx="379.7" cy="669.7" r="1.45"/><circle cx="391.4" cy="683.3" r="1.45"/><circle cx="399.6" cy="792" r="1.45"/><circle cx="393" cy="768.3" r="1.45"/><circle cx="383.1" cy="796.2" r="1.45"/><circle cx="402.1" cy="675.7" r="1.45"/><circle cx="381.2" cy="742.9" r="1.45"/><circle cx="391.3" cy="684.1" r="1.45"/><circle cx="408" cy="655.3" r="1.45"/><circle cx="387.6" cy="717" r="1.45"/><circle cx="384" cy="761.5" r="1.45"/><circle cx="380.6" cy="766.7" r="1.45"/><circle cx="391.4" cy="771" r="1.45"/><circle cx="376.3" cy="748.8" r="1.45"/><circle cx="391.5" cy="802.4" r="1.45"/><circle cx="385.9" cy="718.8" r="1.45"/><circle cx="397.8" cy="803.3" r="1.45"/><circle cx="385" cy="751.9" r="1.45"/><circle cx="392.6" cy="682.5" r="1.45"/><circle cx="399.6" cy="770.4" r="1.45"/><circle cx="392.3" cy="728.4" r="1.45"/><circle cx="384.5" cy="660.1" r="1.45"/><circle cx="383.4" cy="692.8" r="1.45"/><circle cx="381.4" cy="797.8" r="1.45"/><circle cx="398.6" cy="691.4" r="1.45"/><circle cx="380.6" cy="693.1" r="1.45"/><circle cx="387.5" cy="662.2" r="1.45"/><circle cx="381.8" cy="655.9" r="1.45"/><circle cx="394.8" cy="670.7" r="1.45"/><circle cx="363" cy="744.9" r="1.45"/><circle cx="385" cy="799" r="1.45"/><circle cx="379.1" cy="747.2" r="1.45"/><circle cx="388.5" cy="786.4" r="1.45"/><circle cx="388.1" cy="791.6" r="1.45"/><circle cx="395.4" cy="652.8" r="1.45"/><circle cx="388.4" cy="682.8" r="1.45"/><circle cx="371.5" cy="804.9" r="1.45"/><circle cx="409.1" cy="697.6" r="1.45"/><circle cx="379.1" cy="668.6" r="1.45"/><circle cx="366.1" cy="756.5" r="1.45"/><circle cx="393.5" cy="779.7" r="1.45"/><circle cx="386.8" cy="656.3" r="1.45"/><circle cx="382.7" cy="746.5" r="1.45"/><circle cx="388.9" cy="804.5" r="1.45"/><circle cx="393.1" cy="689.2" r="1.45"/><circle cx="377.8" cy="764.5" r="1.45"/><circle cx="368.2" cy="762.9" r="1.45"/><circle cx="388" cy="680.3" r="1.45"/><circle cx="393.8" cy="716.9" r="1.45"/><circle cx="382.4" cy="747.2" r="1.45"/><circle cx="381.2" cy="737.7" r="1.45"/><circle cx="391.3" cy="761.1" r="1.45"/><circle cx="382.1" cy="733.1" r="1.45"/><circle cx="389.1" cy="701.6" r="1.45"/><circle cx="379.8" cy="770.8" r="1.45"/><circle cx="375.6" cy="774.5" r="1.45"/><circle cx="409" cy="745.1" r="1.45"/><circle cx="384.7" cy="658.4" r="1.45"/><circle cx="385.4" cy="671.6" r="1.45"/><circle cx="389.6" cy="731.6" r="1.45"/><circle cx="393.6" cy="795.7" r="1.45"/><circle cx="388.1" cy="674.5" r="1.45"/><circle cx="402.6" cy="747.3" r="1.45"/><circle cx="373.4" cy="693.1" r="1.45"/><circle cx="383.2" cy="694.3" r="1.45"/><circle cx="387" cy="708.5" r="1.45"/><circle cx="393.5" cy="796.3" r="1.45"/><circle cx="393.5" cy="789.4" r="1.45"/><circle cx="388.7" cy="716" r="1.45"/><circle cx="383.3" cy="790.7" r="1.45"/><circle cx="386" cy="681.8" r="1.45"/><circle cx="382.8" cy="788.4" r="1.45"/><circle cx="391.7" cy="725.1" r="1.45"/><circle cx="383.4" cy="646.3" r="1.45"/><circle cx="386.7" cy="707.6" r="1.45"/><circle cx="371.2" cy="716.9" r="1.45"/><circle cx="392.8" cy="680" r="1.45"/><circle cx="379.4" cy="689.5" r="1.45"/><circle cx="393" cy="664" r="1.45"/><circle cx="384.9" cy="713.7" r="1.45"/><circle cx="394.3" cy="742.9" r="1.45"/><circle cx="385.4" cy="696.2" r="1.45"/><circle cx="386.3" cy="800.4" r="1.45"/><circle cx="388.5" cy="647.6" r="1.45"/><circle cx="396.9" cy="663.9" r="1.45"/><circle cx="381.3" cy="680.4" r="1.45"/><circle cx="389.2" cy="800.9" r="1.45"/><circle cx="394.2" cy="789.3" r="1.45"/><circle cx="398" cy="802.7" r="1.45"/><circle cx="394.7" cy="704.5" r="1.45"/><circle cx="381.4" cy="707.8" r="1.45"/><circle cx="380.1" cy="647.8" r="1.45"/><circle cx="386.8" cy="660.7" r="1.45"/><circle cx="390.2" cy="706.4" r="1.45"/><circle cx="389.3" cy="717.1" r="1.45"/><circle cx="400.5" cy="730.3" r="1.45"/><circle cx="372.7" cy="663.7" r="1.45"/><circle cx="379.1" cy="768.2" r="1.45"/><circle cx="387.9" cy="778.6" r="1.45"/><circle cx="408.1" cy="699.4" r="1.45"/><circle cx="380.2" cy="675.4" r="1.45"/><circle cx="385.9" cy="779.2" r="1.45"/><circle cx="393" cy="696.5" r="1.45"/><circle cx="375.2" cy="759.3" r="1.45"/><circle cx="377.4" cy="741.5" r="1.45"/>
</g>
<g>
<circle cx="343.2" cy="631.4" r="2.5" fill="#000080"/><circle cx="329.7" cy="641.3" r="2.5" fill="#800000"/><circle cx="337.7" cy="639.4" r="2.5" fill="#800000"/><circle cx="339.7" cy="652" r="2.5" fill="#ff4c00"/><circle cx="331.7" cy="658.9" r="2.5" fill="#004cff"/><circle cx="340" cy="658.4" r="2.5" fill="#000080"/><circle cx="377.7" cy="630.5" r="2.5" fill="#d1ff2e"/><circle cx="340.6" cy="662.2" r="2.5" fill="#e60000"/><circle cx="336.3" cy="665.1" r="2.5" fill="#800000"/><circle cx="337.4" cy="672.5" r="2.5" fill="#19ffe6"/><circle cx="339.7" cy="675.9" r="2.5" fill="#800000"/><circle cx="338.3" cy="681.1" r="2.5" fill="#800000"/><circle cx="334.4" cy="689.1" r="2.5" fill="#00f0ff"/><circle cx="340.1" cy="688.5" r="2.5" fill="#800000"/><circle cx="343.6" cy="689.6" r="2.5" fill="#800000"/><circle cx="335.1" cy="692.1" r="2.5" fill="#800000"/><circle cx="342.4" cy="694.4" r="2.5" fill="#fa0000"/><circle cx="340.1" cy="696" r="2.5" fill="#800000"/><circle cx="337.9" cy="705.8" r="2.5" fill="#800000"/><circle cx="341.3" cy="706.3" r="2.5" fill="#800000"/><circle cx="342.4" cy="709.7" r="2.5" fill="#800000"/><circle cx="344" cy="710.9" r="2.5" fill="#800000"/><circle cx="341.7" cy="713.6" r="2.5" fill="#ff7500"/><circle cx="345.2" cy="717.3" r="2.5" fill="#800000"/><circle cx="339.7" cy="719.3" r="2.5" fill="#800000"/><circle cx="345.9" cy="720.5" r="2.5" fill="#ffb300"/><circle cx="341.3" cy="722.3" r="2.5" fill="#800000"/><circle cx="343.6" cy="724.6" r="2.5" fill="#fff000"/><circle cx="339.7" cy="725" r="2.5" fill="#800000"/><circle cx="341.7" cy="729.1" r="2.5" fill="#800000"/><circle cx="353.2" cy="731.4" r="2.5" fill="#004cff"/><circle cx="343.6" cy="732.6" r="2.5" fill="#800000"/><circle cx="343.1" cy="734.9" r="2.5" fill="#800000"/><circle cx="349.3" cy="736" r="2.5" fill="#800000"/><circle cx="344.7" cy="739.4" r="2.5" fill="#800000"/><circle cx="356.1" cy="738.3" r="2.5" fill="#800000"/><circle cx="352.3" cy="739.9" r="2.5" fill="#800000"/><circle cx="355" cy="741.7" r="2.5" fill="#ff8a00"/><circle cx="350" cy="742.9" r="2.5" fill="#fa0000"/><circle cx="348.8" cy="746.3" r="2.5" fill="#ff8a00"/><circle cx="347.5" cy="749.3" r="2.5" fill="#800000"/><circle cx="350.9" cy="752" r="2.5" fill="#800000"/><circle cx="350.4" cy="754.3" r="2.5" fill="#0000e6"/><circle cx="352.7" cy="756.6" r="2.5" fill="#800000"/><circle cx="353.9" cy="758.9" r="2.5" fill="#800000"/><circle cx="353.6" cy="758.8" r="2.5" fill="#800000"/><circle cx="356.3" cy="759" r="2.5" fill="#800000"/><circle cx="354.4" cy="759.8" r="2.5" fill="#800000"/><circle cx="357.4" cy="761.7" r="2.5" fill="#800000"/><circle cx="351.9" cy="763" r="2.5" fill="#800000"/><circle cx="359" cy="764.4" r="2.5" fill="#800000"/><circle cx="352.9" cy="763.2" r="2.5" fill="#800000"/><circle cx="359.5" cy="766.2" r="2.5" fill="#ff2a00"/><circle cx="357.2" cy="766.5" r="2.5" fill="#800000"/><circle cx="353.6" cy="769.1" r="2.5" fill="#800000"/><circle cx="355.2" cy="768.9" r="2.5" fill="#ff2500"/><circle cx="360.3" cy="771" r="2.5" fill="#800000"/><circle cx="362.3" cy="772.1" r="2.5" fill="#ffcb00"/><circle cx="364.1" cy="773.3" r="2.5" fill="#800000"/><circle cx="364.7" cy="776.5" r="2.5" fill="#ff9c00"/><circle cx="361.9" cy="777.6" r="2.5" fill="#800000"/><circle cx="358.4" cy="779.5" r="2.5" fill="#800000"/><circle cx="360.1" cy="780.9" r="2.5" fill="#ff3200"/><circle cx="359" cy="782.3" r="2.5" fill="#800000"/><circle cx="367" cy="782.8" r="2.5" fill="#b8ff47"/><circle cx="362.9" cy="784.1" r="2.5" fill="#800000"/><circle cx="363.3" cy="784.6" r="2.5" fill="#ff2600"/><circle cx="358.2" cy="785" r="2.5" fill="#800000"/><circle cx="363.1" cy="788" r="2.5" fill="#800000"/><circle cx="355.8" cy="787.9" r="2.5" fill="#74ff8b"/><circle cx="366.1" cy="788.7" r="2.5" fill="#ff1800"/><circle cx="366.3" cy="788.6" r="2.5" fill="#800000"/><circle cx="356" cy="789" r="2.5" fill="#800000"/><circle cx="364.3" cy="789.7" r="2.5" fill="#ff1c00"/><circle cx="357.1" cy="791" r="2.5" fill="#ff1100"/><circle cx="357.8" cy="792.5" r="2.5" fill="#800000"/><circle cx="356.4" cy="792.3" r="2.5" fill="#ffe500"/><circle cx="360.5" cy="794.1" r="2.5" fill="#ffca00"/><circle cx="360.2" cy="793.8" r="2.5" fill="#ff3600"/><circle cx="370.9" cy="795.8" r="2.5" fill="#800000"/><circle cx="361.3" cy="796.2" r="2.5" fill="#da0000"/><circle cx="369.9" cy="796.1" r="2.5" fill="#800000"/><circle cx="359.4" cy="796.4" r="2.5" fill="#800000"/><circle cx="363.1" cy="797.8" r="2.5" fill="#adff52"/><circle cx="371.6" cy="799.6" r="2.5" fill="#faff05"/><circle cx="357.3" cy="799.9" r="2.5" fill="#fff500"/><circle cx="363.7" cy="801.4" r="2.5" fill="#ff0200"/><circle cx="358.5" cy="803.7" r="2.5" fill="#800000"/><circle cx="372.1" cy="802.9" r="2.5" fill="#ff7700"/><circle cx="362.6" cy="805.1" r="2.5" fill="#ff0b00"/><circle cx="373" cy="804.4" r="2.5" fill="#d10000"/><circle cx="372.7" cy="807.1" r="2.5" fill="#ff7100"/><circle cx="361.6" cy="806.6" r="2.5" fill="#800000"/><circle cx="358.1" cy="808.1" r="2.5" fill="#d60000"/><circle cx="369.3" cy="808.8" r="2.5" fill="#800000"/><circle cx="363.1" cy="809" r="2.5" fill="#800000"/><circle cx="374.1" cy="808.8" r="2.5" fill="#800000"/><circle cx="359" cy="809.7" r="2.5" fill="#0089ff"/><circle cx="362.6" cy="810.5" r="2.5" fill="#ff8200"/><circle cx="370.3" cy="810.9" r="2.5" fill="#800000"/><circle cx="361.7" cy="813.7" r="2.5" fill="#800000"/><circle cx="360.8" cy="811.8" r="2.5" fill="#800000"/><circle cx="364.7" cy="814.3" r="2.5" fill="#f2ff0d"/><circle cx="368.4" cy="814.3" r="2.5" fill="#baff45"/><circle cx="370.5" cy="815.3" r="2.5" fill="#fff000"/><circle cx="370.7" cy="816.5" r="2.5" fill="#fff100"/><circle cx="365.1" cy="817.9" r="2.5" fill="#0000ea"/><circle cx="371.5" cy="816.3" r="2.5" fill="#b0ff4f"/><circle cx="371.3" cy="819.5" r="2.5" fill="#4affb5"/><circle cx="376.8" cy="819.5" r="2.5" fill="#800000"/><circle cx="373.2" cy="818.9" r="2.5" fill="#800000"/><circle cx="376.4" cy="821.6" r="2.5" fill="#ffde00"/><circle cx="371.7" cy="821.6" r="2.5" fill="#df0000"/><circle cx="362.6" cy="822.8" r="2.5" fill="#800000"/><circle cx="365.1" cy="823.4" r="2.5" fill="#fd0000"/><circle cx="367.1" cy="824.3" r="2.5" fill="#ff3000"/><circle cx="366.9" cy="825" r="2.5" fill="#be0000"/><circle cx="373.5" cy="827.2" r="2.5" fill="#f9ff06"/><circle cx="367.2" cy="828.8" r="2.5" fill="#ff1d00"/><circle cx="363.7" cy="826.8" r="2.5" fill="#800000"/><circle cx="363.8" cy="829.5" r="2.5" fill="#800000"/><circle cx="378.3" cy="829.3" r="2.5" fill="#800000"/><circle cx="375.3" cy="831.8" r="2.5" fill="#800000"/><circle cx="378.5" cy="830.9" r="2.5" fill="#800000"/><circle cx="376.4" cy="832.8" r="2.5" fill="#feff01"/><circle cx="366.3" cy="832.8" r="2.5" fill="#ee0000"/><circle cx="377.8" cy="833.8" r="2.5" fill="#ff2d00"/><circle cx="375.6" cy="836.1" r="2.5" fill="#800000"/><circle cx="376.5" cy="835.9" r="2.5" fill="#d10000"/><circle cx="375.4" cy="837.5" r="2.5" fill="#ff5d00"/><circle cx="376.8" cy="836.5" r="2.5" fill="#ff5f00"/><circle cx="366.5" cy="838.5" r="2.5" fill="#800000"/><circle cx="369.5" cy="839" r="2.5" fill="#800000"/><circle cx="368" cy="836.5" r="2.5" fill="#800000"/>
</g>
<path d="M291 912v-3.7M291 480.8v3.7M300.6 912v-3.7M300.6 480.8v3.7M310.2 912v-3.7M310.2 480.8v3.7M319.8 912v-3.7M319.8 480.8v3.7M329.4 912v-7.4M329.4 480.8v7.4M339 912v-3.7M339 480.8v3.7M348.6 912v-3.7M348.6 480.8v3.7M358.2 912v-3.7M358.2 480.8v3.7M367.8 912v-3.7M367.8 480.8v3.7M377.4 912v-7.4M377.4 480.8v7.4M387.1 912v-3.7M387.1 480.8v3.7M396.7 912v-3.7M396.7 480.8v3.7M406.3 912v-3.7M406.3 480.8v3.7M415.9 912v-3.7M415.9 480.8v3.7M425.5 912v-7.4M425.5 480.8v7.4M435.1 912v-3.7M435.1 480.8v3.7M444.7 912v-3.7M444.7 480.8v3.7M454.3 912v-3.7M454.3 480.8v3.7M463.9 912v-3.7M463.9 480.8v3.7M281.4 500.4h3.7M473.5 500.4h-3.7M281.4 520h3.7M473.5 520h-3.7M281.4 539.6h3.7M473.5 539.6h-3.7M281.4 559.2h7.4M473.5 559.2h-7.4M281.4 578.8h3.7M473.5 578.8h-3.7M281.4 598.4h3.7M473.5 598.4h-3.7M281.4 618h3.7M473.5 618h-3.7M281.4 637.6h7.4M473.5 637.6h-7.4M281.4 657.2h3.7M473.5 657.2h-3.7M281.4 676.8h3.7M473.5 676.8h-3.7M281.4 696.4h3.7M473.5 696.4h-3.7M281.4 716h7.4M473.5 716h-7.4M281.4 735.6h3.7M473.5 735.6h-3.7M281.4 755.2h3.7M473.5 755.2h-3.7M281.4 774.8h3.7M473.5 774.8h-3.7M281.4 794.4h7.4M473.5 794.4h-7.4M281.4 814h3.7M473.5 814h-3.7M281.4 833.6h3.7M473.5 833.6h-3.7M281.4 853.2h3.7M473.5 853.2h-3.7M281.4 872.8h7.4M473.5 872.8h-7.4M281.4 892.4h3.7M473.5 892.4h-3.7" stroke="#6a6a6a" stroke-width="1.05" fill="none"/>
<rect x="281.4" y="480.8" width="192.1" height="431.2" fill="none" stroke="#6a6a6a" stroke-width="1.25"/>
<g font-size="12" fill="#1c1c1c">
<text x="281.4" y="924.6" text-anchor="middle">0</text>
<text x="329.4" y="924.6" text-anchor="middle">1</text>
<text x="377.4" y="924.6" text-anchor="middle">2</text>
<text x="425.5" y="924.6" text-anchor="middle">3</text>
<text x="473.5" y="924.6" text-anchor="middle">4</text>
<text x="278.3" y="485.6" text-anchor="end">10</text>
<text x="278.3" y="564" text-anchor="end">12</text>
<text x="278.3" y="642.4" text-anchor="end">14</text>
<text x="278.3" y="720.8" text-anchor="end">16</text>
<text x="278.3" y="799.2" text-anchor="end">18</text>
<text x="278.3" y="877.6" text-anchor="end">20</text>
</g>
</g>
<linearGradient id="jet0" x1="0" y1="0" x2="0" y2="1"><stop offset="0" stop-color="#800000"/><stop offset="0.025" stop-color="#990000"/><stop offset="0.05" stop-color="#b30000"/><stop offset="0.075" stop-color="#cc0000"/><stop offset="0.1" stop-color="#e60000"/><stop offset="0.125" stop-color="#ff0000"/><stop offset="0.15" stop-color="#ff1900"/><stop offset="0.175" stop-color="#ff3300"/><stop offset="0.2" stop-color="#ff4c00"/><stop offset="0.225" stop-color="#ff6600"/><stop offset="0.25" stop-color="#ff8000"/><stop offset="0.275" stop-color="#ff9900"/><stop offset="0.3" stop-color="#ffb300"/><stop offset="0.325" stop-color="#ffcc00"/><stop offset="0.35" stop-color="#ffe600"/><stop offset="0.375" stop-color="#ffff00"/><stop offset="0.4" stop-color="#e6ff19"/><stop offset="0.425" stop-color="#ccff33"/><stop offset="0.45" stop-color="#b3ff4c"/><stop offset="0.475" stop-color="#99ff66"/><stop offset="0.5" stop-color="#80ff80"/><stop offset="0.525" stop-color="#66ff99"/><stop offset="0.55" stop-color="#4cffb3"/><stop offset="0.575" stop-color="#33ffcc"/><stop offset="0.6" stop-color="#19ffe6"/><stop offset="0.625" stop-color="#00ffff"/><stop offset="0.65" stop-color="#00e6ff"/><stop offset="0.675" stop-color="#00ccff"/><stop offset="0.7" stop-color="#00b3ff"/><stop offset="0.725" stop-color="#0099ff"/><stop offset="0.75" stop-color="#0080ff"/><stop offset="0.775" stop-color="#0066ff"/><stop offset="0.8" stop-color="#004cff"/><stop offset="0.825" stop-color="#0033ff"/><stop offset="0.85" stop-color="#0019ff"/><stop offset="0.875" stop-color="#0000ff"/><stop offset="0.9" stop-color="#0000e6"/><stop offset="0.925" stop-color="#0000cc"/><stop offset="0.95" stop-color="#0000b3"/><stop offset="0.975" stop-color="#000099"/><stop offset="1" stop-color="#000080"/></linearGradient>
<rect x="479.5" y="6.5" width="20" height="432.2" fill="url(#jet0)" stroke="#4a4a4a" stroke-width="0.6"/>
<g font-size="10.8" fill="#1c1c1c">
<text x="504.8" y="10.8">1.0</text>
<text x="504.8" y="97.2">0.9</text>
<text x="504.8" y="183.7">0.8</text>
<text x="504.8" y="270.1">0.7</text>
<text x="504.8" y="356.6">0.6</text>
<text x="504.8" y="443">0.5</text>
</g>
<path d="M499.5 6.5h3.2M499.5 92.9h3.2M499.5 179.4h3.2M499.5 265.8h3.2M499.5 352.3h3.2M499.5 438.7h3.2" stroke="#6a6a6a" stroke-width="1.1" fill="none"/>
<linearGradient id="jet1" x1="0" y1="0" x2="0" y2="1"><stop offset="0" stop-color="#800000"/><stop offset="0.025" stop-color="#990000"/><stop offset="0.05" stop-color="#b30000"/><stop offset="0.075" stop-color="#cc0000"/><stop offset="0.1" stop-color="#e60000"/><stop offset="0.125" stop-color="#ff0000"/><stop offset="0.15" stop-color="#ff1900"/><stop offset="0.175" stop-color="#ff3300"/><stop offset="0.2" stop-color="#ff4c00"/><stop offset="0.225" stop-color="#ff6600"/><stop offset="0.25" stop-color="#ff8000"/><stop offset="0.275" stop-color="#ff9900"/><stop offset="0.3" stop-color="#ffb300"/><stop offset="0.325" stop-color="#ffcc00"/><stop offset="0.35" stop-color="#ffe600"/><stop offset="0.375" stop-color="#ffff00"/><stop offset="0.4" stop-color="#e6ff19"/><stop offset="0.425" stop-color="#ccff33"/><stop offset="0.45" stop-color="#b3ff4c"/><stop offset="0.475" stop-color="#99ff66"/><stop offset="0.5" stop-color="#80ff80"/><stop offset="0.525" stop-color="#66ff99"/><stop offset="0.55" stop-color="#4cffb3"/><stop offset="0.575" stop-color="#33ffcc"/><stop offset="0.6" stop-color="#19ffe6"/><stop offset="0.625" stop-color="#00ffff"/><stop offset="0.65" stop-color="#00e6ff"/><stop offset="0.675" stop-color="#00ccff"/><stop offset="0.7" stop-color="#00b3ff"/><stop offset="0.725" stop-color="#0099ff"/><stop offset="0.75" stop-color="#0080ff"/><stop offset="0.775" stop-color="#0066ff"/><stop offset="0.8" stop-color="#004cff"/><stop offset="0.825" stop-color="#0033ff"/><stop offset="0.85" stop-color="#0019ff"/><stop offset="0.875" stop-color="#0000ff"/><stop offset="0.9" stop-color="#0000e6"/><stop offset="0.925" stop-color="#0000cc"/><stop offset="0.95" stop-color="#0000b3"/><stop offset="0.975" stop-color="#000099"/><stop offset="1" stop-color="#000080"/></linearGradient>
<rect x="481.3" y="481" width="20.3" height="431" fill="url(#jet1)" stroke="#4a4a4a" stroke-width="0.6"/>
<g font-size="10.8" fill="#1c1c1c">
<text x="506.9" y="485.3">1.0</text>
<text x="506.9" y="571.5">0.9</text>
<text x="506.9" y="657.7">0.8</text>
<text x="506.9" y="743.9">0.7</text>
<text x="506.9" y="830.1">0.6</text>
<text x="506.9" y="916.3">0.5</text>
</g>
<path d="M501.6 481h3.2M501.6 567.2h3.2M501.6 653.4h3.2M501.6 739.6h3.2M501.6 825.8h3.2M501.6 912h3.2" stroke="#6a6a6a" stroke-width="1.1" fill="none"/>
<g font-size="12.3" fill="#1c1c1c">
<text x="202" y="33" text-anchor="middle">(a)</text>
<text x="446.8" y="32.6" text-anchor="middle">(b)</text>
<text x="203.4" y="504.2" text-anchor="middle">(c)</text>
<text x="449.4" y="504.4" text-anchor="middle">(d)</text>
</g>
<g font-size="13.4" fill="#1c1c1c">
<text x="133.2" y="467.3" text-anchor="middle">B-V</text>
<text x="135.3" y="940.4" text-anchor="middle">B-V</text>
<text transform="translate(11.9 222.8) rotate(-90)" text-anchor="middle">V</text>
<text transform="translate(11.9 696.6) rotate(-90)" text-anchor="middle">V</text>
<text transform="translate(255.3 222.6) rotate(-90)" text-anchor="middle">G</text>
<text transform="translate(255.3 696.4) rotate(-90)" text-anchor="middle">G</text>
<text x="375.4" y="467.3" text-anchor="middle" font-style="oblique">G<tspan font-size="9.6" dy="2.3">BP</tspan><tspan dy="-2.3" dx="2.6" font-style="normal">−</tspan><tspan dx="2.6">G</tspan><tspan font-size="9.6" dy="2.3">RP</tspan></text>
<text x="377.4" y="940.4" text-anchor="middle" font-style="oblique">G<tspan font-size="9.6" dy="2.3">BP</tspan><tspan dy="-2.3" dx="2.6" font-style="normal">−</tspan><tspan dx="2.6">G</tspan><tspan font-size="9.6" dy="2.3">RP</tspan></text>
</g>
</svg></body></html>
